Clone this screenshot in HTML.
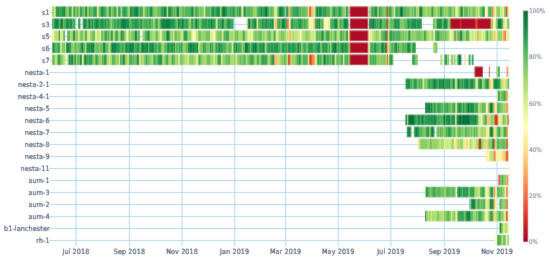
<!DOCTYPE html><html><head><meta charset="utf-8"><style>html,body{margin:0;padding:0;background:#fff;width:550px;height:260px;overflow:hidden}svg{display:block}text{font-family:"DejaVu Sans","Liberation Sans",sans-serif;font-stretch:condensed}.lb{letter-spacing:0.11px;stroke:#2a3f5f;stroke-width:0.16px}</style></head><body>
<div id="w"><svg width="550" height="260" viewBox="0 0 550 260"><defs><filter id="bl" x="0" y="0" width="550" height="260" filterUnits="userSpaceOnUse"><feConvolveMatrix order="3" kernelMatrix="0.0113 0.0838 0.0113 0.0838 0.6193 0.0838 0.0113 0.0838 0.0113" edgeMode="duplicate"/></filter></defs><g filter="url(#bl)">
<rect width="550" height="260" fill="#fff"/>
<path d="M49.50 12.50H509.50M49.50 24.50H509.50M49.50 36.50H509.50M49.50 48.50H509.50M49.50 60.50H509.50M49.50 72.50H509.50M49.50 84.50H509.50M49.50 96.50H509.50M49.50 108.50H509.50M49.50 120.50H509.50M49.50 132.50H509.50M49.50 144.50H509.50M49.50 156.50H509.50M49.50 168.50H509.50M49.50 180.50H509.50M49.50 192.50H509.50M49.50 204.50H509.50M49.50 216.50H509.50M49.50 228.50H509.50M49.50 240.50H509.50M75.90 5.70V246.15M129.41 5.70V246.15M182.05 5.70V246.15M234.69 5.70V246.15M285.61 5.70V246.15M338.25 5.70V246.15M390.89 5.70V246.15M444.40 5.70V246.15M497.04 5.70V246.15" stroke="#b0d6f0" stroke-width="1" fill="none"/>
<rect x="52" y="6.41" width="1" height="10.62" fill="#9dd569"/>
<rect x="53" y="6.41" width="1" height="10.62" fill="#a6d96e"/>
<rect x="54" y="6.41" width="1" height="10.62" fill="#d1ec86"/>
<rect x="55" y="6.41" width="1" height="10.62" fill="#a8d677"/>
<rect x="56" y="6.41" width="1" height="10.62" fill="#1c914c"/>
<rect x="57" y="6.41" width="1" height="10.62" fill="#21974f"/>
<rect x="58" y="6.41" width="1" height="10.62" fill="#219b52"/>
<rect x="59" y="6.41" width="1" height="10.62" fill="#4cad5a"/>
<rect x="60" y="6.41" width="1" height="10.62" fill="#19964f"/>
<rect x="61" y="6.41" width="1" height="10.62" fill="#4bae5b"/>
<rect x="62" y="6.41" width="1" height="10.62" fill="#168d4b"/>
<rect x="63" y="6.41" width="1" height="10.62" fill="#27964f"/>
<rect x="64" y="6.41" width="1" height="10.62" fill="#107940"/>
<rect x="65" y="6.41" width="1" height="10.62" fill="#62bb61"/>
<rect x="66" y="6.41" width="1" height="10.62" fill="#7ec765"/>
<rect x="67" y="6.41" width="1" height="10.62" fill="#8dce68"/>
<rect x="68" y="6.41" width="1" height="10.62" fill="#90cf69"/>
<rect x="69" y="6.41" width="1" height="10.62" fill="#25974f"/>
<rect x="70" y="6.41" width="1" height="10.62" fill="#36a155"/>
<rect x="71" y="6.41" width="1" height="10.62" fill="#60bb61"/>
<rect x="72" y="6.41" width="1" height="10.62" fill="#cae895"/>
<rect x="73" y="6.41" width="1" height="10.62" fill="#66bb65"/>
<rect x="74" y="6.41" width="1" height="10.62" fill="#279d53"/>
<rect x="75" y="6.41" width="1" height="10.62" fill="#85cb67"/>
<rect x="76" y="6.41" width="1" height="10.62" fill="#82c966"/>
<rect x="77" y="6.41" width="1" height="10.62" fill="#44ac5b"/>
<rect x="78" y="6.41" width="1" height="10.62" fill="#86cb66"/>
<rect x="79" y="6.41" width="1" height="10.62" fill="#9cd46a"/>
<rect x="80" y="6.41" width="1" height="10.62" fill="#1e9950"/>
<rect x="81" y="6.41" width="1" height="10.62" fill="#3da959"/>
<rect x="82" y="6.41" width="1" height="10.62" fill="#5db961"/>
<rect x="83" y="6.41" width="1" height="10.62" fill="#69be63"/>
<rect x="84" y="6.41" width="1" height="10.62" fill="#8bcd67"/>
<rect x="85" y="6.41" width="1" height="10.62" fill="#2c9b52"/>
<rect x="86" y="6.41" width="1" height="10.62" fill="#117b41"/>
<rect x="87" y="6.41" width="1" height="10.62" fill="#98d370"/>
<rect x="88" y="6.41" width="1" height="10.62" fill="#91d06f"/>
<rect x="89" y="6.41" width="1" height="10.62" fill="#2d9d53"/>
<rect x="90" y="6.41" width="1" height="10.62" fill="#74c162"/>
<rect x="91" y="6.41" width="1" height="10.62" fill="#5ab75f"/>
<rect x="92" y="6.41" width="1" height="10.62" fill="#7ac664"/>
<rect x="93" y="6.41" width="1" height="10.62" fill="#40ab59"/>
<rect x="94" y="6.41" width="1" height="10.62" fill="#33a456"/>
<rect x="95" y="6.41" width="1" height="10.62" fill="#29a054"/>
<rect x="96" y="6.41" width="1" height="10.62" fill="#3f9850"/>
<rect x="97" y="6.41" width="1" height="10.62" fill="#e5f49d"/>
<rect x="98" y="6.41" width="1" height="10.62" fill="#a9da79"/>
<rect x="99" y="6.41" width="1" height="10.62" fill="#69be61"/>
<rect x="100" y="6.41" width="1" height="10.62" fill="#55b45d"/>
<rect x="101" y="6.41" width="1" height="10.62" fill="#1d914c"/>
<rect x="102" y="6.41" width="1" height="10.62" fill="#16904c"/>
<rect x="103" y="6.41" width="1" height="10.62" fill="#30a256"/>
<rect x="104" y="6.41" width="1" height="10.62" fill="#30a355"/>
<rect x="105" y="6.41" width="1" height="10.62" fill="#59b75f"/>
<rect x="106" y="6.41" width="1" height="10.62" fill="#6bbe61"/>
<rect x="107" y="6.41" width="1" height="10.62" fill="#9bd46a"/>
<rect x="108" y="6.41" width="1" height="10.62" fill="#88cc66"/>
<rect x="109" y="6.41" width="1" height="10.62" fill="#1e924d"/>
<rect x="110" y="6.41" width="1" height="10.62" fill="#2aa053"/>
<rect x="111" y="6.41" width="1" height="10.62" fill="#9dd46b"/>
<rect x="112" y="6.41" width="1" height="10.62" fill="#71c264"/>
<rect x="113" y="6.41" width="1" height="10.62" fill="#6dc063"/>
<rect x="114" y="6.41" width="1" height="10.62" fill="#37a456"/>
<rect x="115" y="6.41" width="1" height="10.62" fill="#41a959"/>
<rect x="116" y="6.41" width="1" height="10.62" fill="#87bf6c"/>
<rect x="117" y="6.41" width="1" height="10.62" fill="#cfeb84"/>
<rect x="118" y="6.41" width="1" height="10.62" fill="#32a456"/>
<rect x="119" y="6.41" width="1" height="10.62" fill="#39a557"/>
<rect x="120" y="6.41" width="1" height="10.62" fill="#1e974f" fill-opacity="0.70"/>
<rect x="121" y="6.41" width="1" height="10.62" fill="#70c164" fill-opacity="0.50"/>
<rect x="122" y="6.41" width="1" height="10.62" fill="#3da959"/>
<rect x="123" y="6.41" width="1" height="10.62" fill="#37a456"/>
<rect x="124" y="6.41" width="1" height="10.62" fill="#279e53"/>
<rect x="125" y="6.41" width="1" height="10.62" fill="#259e53"/>
<rect x="126" y="6.41" width="1" height="10.62" fill="#50b35d"/>
<rect x="127" y="6.41" width="1" height="10.62" fill="#60bb62"/>
<rect x="128" y="6.41" width="1" height="10.62" fill="#9dd569"/>
<rect x="129" y="6.41" width="1" height="10.62" fill="#a4d86b"/>
<rect x="130" y="6.41" width="1" height="10.62" fill="#0a7b41"/>
<rect x="131" y="6.41" width="1" height="10.62" fill="#1f904c"/>
<rect x="132" y="6.41" width="1" height="10.62" fill="#3ca959"/>
<rect x="133" y="6.41" width="1" height="10.62" fill="#2ca054"/>
<rect x="134" y="6.41" width="1" height="10.62" fill="#17904c"/>
<rect x="135" y="6.41" width="1" height="10.62" fill="#278b49"/>
<rect x="136" y="6.41" width="1" height="10.62" fill="#08763f"/>
<rect x="137" y="6.41" width="1" height="10.62" fill="#138b4a"/>
<rect x="138" y="6.41" width="1" height="10.62" fill="#31a054"/>
<rect x="139" y="6.41" width="1" height="10.62" fill="#73c365"/>
<rect x="140" y="6.41" width="1" height="10.62" fill="#299850"/>
<rect x="141" y="6.41" width="1" height="10.62" fill="#58b55f"/>
<rect x="142" y="6.41" width="1" height="10.62" fill="#2ca054"/>
<rect x="143" y="6.41" width="1" height="10.62" fill="#c1e484"/>
<rect x="144" y="6.41" width="1" height="10.62" fill="#99d36f"/>
<rect x="145" y="6.41" width="1" height="10.62" fill="#60ba61"/>
<rect x="146" y="6.41" width="1" height="10.62" fill="#71c264"/>
<rect x="147" y="6.41" width="1" height="10.62" fill="#2a9f54"/>
<rect x="148" y="6.41" width="1" height="10.62" fill="#6fc164"/>
<rect x="149" y="6.41" width="1" height="10.62" fill="#55b55f"/>
<rect x="150" y="6.41" width="1" height="10.62" fill="#128244"/>
<rect x="151" y="6.41" width="1" height="10.62" fill="#158d4a"/>
<rect x="152" y="6.41" width="1" height="10.62" fill="#4daf5b"/>
<rect x="153" y="6.41" width="1" height="10.62" fill="#75c465"/>
<rect x="154" y="6.41" width="1" height="10.62" fill="#87cc67"/>
<rect x="155" y="6.41" width="1" height="10.62" fill="#82c966"/>
<rect x="156" y="6.41" width="1" height="10.62" fill="#9bd469"/>
<rect x="157" y="6.41" width="1" height="10.62" fill="#72c264"/>
<rect x="158" y="6.41" width="1" height="10.62" fill="#56b55f"/>
<rect x="159" y="6.41" width="1" height="10.62" fill="#75c364"/>
<rect x="160" y="6.41" width="1" height="10.62" fill="#64bc62"/>
<rect x="161" y="6.41" width="1" height="10.62" fill="#259d53"/>
<rect x="162" y="6.41" width="1" height="10.62" fill="#2aa054"/>
<rect x="163" y="6.41" width="1" height="10.62" fill="#3da355"/>
<rect x="164" y="6.41" width="1" height="10.62" fill="#07773e"/>
<rect x="165" y="6.41" width="1" height="10.62" fill="#1a934d"/>
<rect x="166" y="6.41" width="1" height="10.62" fill="#2b9f54"/>
<rect x="167" y="6.41" width="1" height="10.62" fill="#c2e288"/>
<rect x="168" y="6.41" width="1" height="10.62" fill="#268a47"/>
<rect x="169" y="6.41" width="1" height="10.62" fill="#208848"/>
<rect x="170" y="6.41" width="1" height="10.62" fill="#26954f"/>
<rect x="171" y="6.41" width="1" height="10.62" fill="#45a858"/>
<rect x="172" y="6.41" width="1" height="10.62" fill="#4eb15d"/>
<rect x="173" y="6.41" width="1" height="10.62" fill="#6ec063"/>
<rect x="174" y="6.41" width="1" height="10.62" fill="#45ac59"/>
<rect x="175" y="6.41" width="1" height="10.62" fill="#7dc766"/>
<rect x="176" y="6.41" width="1" height="10.62" fill="#4dae5b"/>
<rect x="177" y="6.41" width="1" height="10.62" fill="#097840"/>
<rect x="178" y="6.41" width="1" height="10.62" fill="#0c7e43"/>
<rect x="179" y="6.41" width="1" height="10.62" fill="#87c965"/>
<rect x="180" y="6.41" width="1" height="10.62" fill="#89cc67"/>
<rect x="181" y="6.41" width="1" height="10.62" fill="#83ca66"/>
<rect x="182" y="6.41" width="1" height="10.62" fill="#61ba61"/>
<rect x="183" y="6.41" width="1" height="10.62" fill="#56b55f"/>
<rect x="184" y="6.41" width="1" height="10.62" fill="#7dc765"/>
<rect x="185" y="6.41" width="1" height="10.62" fill="#51b35d"/>
<rect x="186" y="6.41" width="1" height="10.62" fill="#4db05d"/>
<rect x="187" y="6.41" width="1" height="10.62" fill="#51b35e"/>
<rect x="188" y="6.41" width="1" height="10.62" fill="#5ab860"/>
<rect x="189" y="6.41" width="1" height="10.62" fill="#4bb05c"/>
<rect x="190" y="6.41" width="1" height="10.62" fill="#4eb15e"/>
<rect x="191" y="6.41" width="1" height="10.62" fill="#229b51"/>
<rect x="192" y="6.41" width="1" height="10.62" fill="#0c7d42"/>
<rect x="193" y="6.41" width="1" height="10.62" fill="#5cb35c"/>
<rect x="194" y="6.41" width="1" height="10.62" fill="#82c966"/>
<rect x="195" y="6.41" width="1" height="10.62" fill="#4db15c"/>
<rect x="196" y="6.41" width="1" height="10.62" fill="#42ac5a"/>
<rect x="197" y="6.41" width="1" height="10.62" fill="#56b35b"/>
<rect x="198" y="6.41" width="1" height="10.62" fill="#61bb60"/>
<rect x="199" y="6.41" width="1" height="10.62" fill="#95d268"/>
<rect x="200" y="6.41" width="1" height="10.62" fill="#6dc064"/>
<rect x="201" y="6.41" width="1" height="10.62" fill="#82c966"/>
<rect x="202" y="6.41" width="1" height="10.62" fill="#7fc866"/>
<rect x="203" y="6.41" width="1" height="10.62" fill="#91d069"/>
<rect x="204" y="6.41" width="1" height="10.62" fill="#ddf193"/>
<rect x="205" y="6.41" width="1" height="10.62" fill="#7cc574"/>
<rect x="206" y="6.41" width="1" height="10.62" fill="#3da959"/>
<rect x="207" y="6.41" width="1" height="10.62" fill="#66bd63"/>
<rect x="208" y="6.41" width="1" height="10.62" fill="#52b35e"/>
<rect x="209" y="6.41" width="1" height="10.62" fill="#5ab760"/>
<rect x="210" y="6.41" width="1" height="10.62" fill="#75c364"/>
<rect x="211" y="6.41" width="1" height="10.62" fill="#3ea959"/>
<rect x="212" y="6.41" width="1" height="10.62" fill="#1b944d"/>
<rect x="213" y="6.41" width="1" height="10.62" fill="#1c904b"/>
<rect x="214" y="6.41" width="1" height="10.62" fill="#45ad5a"/>
<rect x="215" y="6.41" width="1" height="10.62" fill="#3faa59"/>
<rect x="216" y="6.41" width="1" height="10.62" fill="#269e53"/>
<rect x="217" y="6.41" width="1" height="10.62" fill="#1f8a49"/>
<rect x="218" y="6.41" width="1" height="10.62" fill="#18934e"/>
<rect x="219" y="6.41" width="1" height="10.62" fill="#178f4c"/>
<rect x="220" y="6.41" width="1" height="10.62" fill="#97d36a"/>
<rect x="221" y="6.41" width="1" height="10.62" fill="#6fc164"/>
<rect x="222" y="6.41" width="1" height="10.62" fill="#177e43"/>
<rect x="223" y="6.41" width="1" height="10.62" fill="#08773f"/>
<rect x="224" y="6.41" width="1" height="10.62" fill="#06733c"/>
<rect x="225" y="6.41" width="1" height="10.62" fill="#239c52"/>
<rect x="226" y="6.41" width="1" height="10.62" fill="#20974f"/>
<rect x="227" y="6.41" width="1" height="10.62" fill="#4cb05c"/>
<rect x="228" y="6.41" width="1" height="10.62" fill="#61ba62"/>
<rect x="229" y="6.41" width="1" height="10.62" fill="#4cb15c"/>
<rect x="230" y="6.41" width="1" height="10.62" fill="#34a457"/>
<rect x="231" y="6.41" width="1" height="10.62" fill="#4cb05c"/>
<rect x="232" y="6.41" width="1" height="10.62" fill="#42ab5a"/>
<rect x="233" y="6.41" width="1" height="10.62" fill="#19944e"/>
<rect x="234" y="6.41" width="1" height="10.62" fill="#3da858"/>
<rect x="235" y="6.41" width="1" height="10.62" fill="#72c264"/>
<rect x="236" y="6.41" width="1" height="10.62" fill="#6fc162"/>
<rect x="237" y="6.41" width="1" height="10.62" fill="#34a456"/>
<rect x="238" y="6.41" width="1" height="10.62" fill="#5cb75f"/>
<rect x="239" y="6.41" width="1" height="10.62" fill="#279d53"/>
<rect x="240" y="6.41" width="1" height="10.62" fill="#198d4a"/>
<rect x="241" y="6.41" width="1" height="10.62" fill="#add78c"/>
<rect x="242" y="6.41" width="1" height="10.62" fill="#e6f49d"/>
<rect x="243" y="6.41" width="1" height="10.62" fill="#6fba66"/>
<rect x="244" y="6.41" width="1" height="10.62" fill="#148546"/>
<rect x="245" y="6.41" width="1" height="10.62" fill="#30a355"/>
<rect x="246" y="6.41" width="1" height="10.62" fill="#70c162"/>
<rect x="247" y="6.41" width="1" height="10.62" fill="#56b55e"/>
<rect x="248" y="6.41" width="1" height="10.62" fill="#5ab760"/>
<rect x="249" y="6.41" width="1" height="10.62" fill="#4aaf5c"/>
<rect x="250" y="6.41" width="1" height="10.62" fill="#71c264"/>
<rect x="251" y="6.41" width="1" height="10.62" fill="#5eb961"/>
<rect x="252" y="6.41" width="1" height="10.62" fill="#66bd62"/>
<rect x="253" y="6.41" width="1" height="10.62" fill="#98d268"/>
<rect x="254" y="6.41" width="1" height="10.62" fill="#8dce67"/>
<rect x="255" y="6.41" width="1" height="10.62" fill="#a9da6b"/>
<rect x="256" y="6.41" width="1" height="10.62" fill="#86cb69"/>
<rect x="257" y="6.41" width="1" height="10.62" fill="#4eb15d"/>
<rect x="258" y="6.41" width="1" height="10.62" fill="#45ad5b"/>
<rect x="259" y="6.41" width="1" height="10.62" fill="#39a758"/>
<rect x="260" y="6.41" width="1" height="10.62" fill="#2fa255"/>
<rect x="261" y="6.41" width="1" height="10.62" fill="#148b49"/>
<rect x="262" y="6.41" width="1" height="10.62" fill="#3ba858"/>
<rect x="263" y="6.41" width="1" height="10.62" fill="#2ca154"/>
<rect x="264" y="6.41" width="1" height="10.62" fill="#259d53"/>
<rect x="265" y="6.41" width="1" height="10.62" fill="#0f8345"/>
<rect x="266" y="6.41" width="1" height="10.62" fill="#05713c"/>
<rect x="267" y="6.41" width="1" height="10.62" fill="#2d9f54"/>
<rect x="268" y="6.41" width="1" height="10.62" fill="#49ae5b"/>
<rect x="269" y="6.41" width="1" height="10.62" fill="#7cc766"/>
<rect x="270" y="6.41" width="1" height="10.62" fill="#70c164"/>
<rect x="271" y="6.41" width="1" height="10.62" fill="#51b35e"/>
<rect x="272" y="6.41" width="1" height="10.62" fill="#70c163"/>
<rect x="273" y="6.41" width="1" height="10.62" fill="#6ec164"/>
<rect x="274" y="6.41" width="1" height="10.62" fill="#d5ed88"/>
<rect x="275" y="6.41" width="1" height="10.62" fill="#d6ee8a"/>
<rect x="276" y="6.41" width="1" height="10.62" fill="#dcf094"/>
<rect x="277" y="6.41" width="1" height="10.62" fill="#85ca75"/>
<rect x="278" y="6.41" width="1" height="10.62" fill="#49ae5c"/>
<rect x="279" y="6.41" width="1" height="10.62" fill="#188c4a"/>
<rect x="280" y="6.41" width="1" height="10.62" fill="#0e8244"/>
<rect x="281" y="6.41" width="1" height="10.62" fill="#138b49"/>
<rect x="282" y="6.41" width="1" height="10.62" fill="#22944e"/>
<rect x="283" y="6.41" width="1" height="10.62" fill="#309b52"/>
<rect x="284" y="6.41" width="1" height="10.62" fill="#52b35e"/>
<rect x="285" y="6.41" width="1" height="10.62" fill="#6cbf62" fill-opacity="0.40"/>
<rect x="286" y="6.41" width="1" height="10.62" fill="#128a49" fill-opacity="0.80"/>
<rect x="287" y="6.41" width="1" height="10.62" fill="#0e7f43"/>
<rect x="288" y="6.41" width="1" height="10.62" fill="#d1b669"/>
<rect x="289" y="6.41" width="1" height="10.62" fill="#dfb868"/>
<rect x="290" y="6.41" width="1" height="10.62" fill="#7ac565"/>
<rect x="291" y="6.41" width="1" height="10.62" fill="#67bd62"/>
<rect x="292" y="6.41" width="1" height="10.62" fill="#51b35e"/>
<rect x="293" y="6.41" width="1" height="10.62" fill="#31a356"/>
<rect x="294" y="6.41" width="1" height="10.62" fill="#3ca858"/>
<rect x="295" y="6.41" width="1" height="10.62" fill="#3fa557"/>
<rect x="296" y="6.41" width="1" height="10.62" fill="#3ea557"/>
<rect x="297" y="6.41" width="1" height="10.62" fill="#289850"/>
<rect x="298" y="6.41" width="1" height="10.62" fill="#48ad5b"/>
<rect x="299" y="6.41" width="1" height="10.62" fill="#5db960"/>
<rect x="300" y="6.41" width="1" height="10.62" fill="#48ae5a"/>
<rect x="301" y="6.41" width="1" height="10.62" fill="#7ec866"/>
<rect x="302" y="6.41" width="1" height="10.62" fill="#67bd62"/>
<rect x="303" y="6.41" width="2" height="10.62" fill="#65bc62"/>
<rect x="305" y="6.41" width="1" height="10.62" fill="#70c163"/>
<rect x="306" y="6.41" width="1" height="10.62" fill="#61ba61"/>
<rect x="307" y="6.41" width="1" height="10.62" fill="#95d16d"/>
<rect x="308" y="6.41" width="1" height="10.62" fill="#e4e191"/>
<rect x="309" y="6.41" width="1" height="10.62" fill="#ec5d3b"/>
<rect x="310" y="6.41" width="1" height="10.62" fill="#ea593a"/>
<rect x="311" y="6.41" width="1" height="10.62" fill="#fbb66b"/>
<rect x="312" y="6.41" width="1" height="10.62" fill="#fdbd6d"/>
<rect x="313" y="6.41" width="1" height="10.62" fill="#d8da79"/>
<rect x="314" y="6.41" width="1" height="10.62" fill="#dbf091"/>
<rect x="315" y="6.41" width="1" height="10.62" fill="#7dc572"/>
<rect x="316" y="6.41" width="1" height="10.62" fill="#1b8f4b"/>
<rect x="317" y="6.41" width="1" height="10.62" fill="#108445"/>
<rect x="318" y="6.41" width="1" height="10.62" fill="#44ab5a"/>
<rect x="319" y="6.41" width="1" height="10.62" fill="#108446"/>
<rect x="320" y="6.41" width="1" height="10.62" fill="#178b49"/>
<rect x="321" y="6.41" width="1" height="10.62" fill="#239c52"/>
<rect x="322" y="6.41" width="1" height="10.62" fill="#48ae5b"/>
<rect x="323" y="6.41" width="1" height="10.62" fill="#279850"/>
<rect x="324" y="6.41" width="1" height="10.62" fill="#3ba557"/>
<rect x="325" y="6.41" width="1" height="10.62" fill="#238848"/>
<rect x="326" y="6.41" width="1" height="10.62" fill="#5ab760"/>
<rect x="327" y="6.41" width="1" height="10.62" fill="#4aaf5c"/>
<rect x="328" y="6.41" width="1" height="10.62" fill="#45ad5b"/>
<rect x="329" y="6.41" width="1" height="10.62" fill="#56b55f"/>
<rect x="330" y="6.41" width="1" height="10.62" fill="#a4d86c"/>
<rect x="331" y="6.41" width="1" height="10.62" fill="#9bd376"/>
<rect x="332" y="6.41" width="1" height="10.62" fill="#48ae5b"/>
<rect x="333" y="6.41" width="1" height="10.62" fill="#36a356"/>
<rect x="334" y="6.41" width="1" height="10.62" fill="#18934e"/>
<rect x="335" y="6.41" width="1" height="10.62" fill="#51b25d"/>
<rect x="336" y="6.41" width="1" height="10.62" fill="#4fb25d"/>
<rect x="337" y="6.41" width="1" height="10.62" fill="#6dc063"/>
<rect x="338" y="6.41" width="1" height="10.62" fill="#42ac5a"/>
<rect x="339" y="6.41" width="1" height="10.62" fill="#1e9951"/>
<rect x="340" y="6.41" width="1" height="10.62" fill="#35a556"/>
<rect x="341" y="6.41" width="1" height="10.62" fill="#58b660"/>
<rect x="342" y="6.41" width="1" height="10.62" fill="#6abf64"/>
<rect x="343" y="6.41" width="1" height="10.62" fill="#8fcf67"/>
<rect x="344" y="6.41" width="1" height="10.62" fill="#96d271"/>
<rect x="345" y="6.41" width="1" height="10.62" fill="#add67c"/>
<rect x="346" y="6.41" width="1" height="10.62" fill="#29944e"/>
<rect x="347" y="6.41" width="1" height="10.62" fill="#37a657"/>
<rect x="348" y="6.41" width="1" height="10.62" fill="#2ea254" fill-opacity="0.50"/>
<rect x="349" y="6.41" width="1" height="10.62" fill="#af0a26" fill-opacity="0.40"/>
<rect x="350" y="6.41" width="18" height="10.62" fill="#af0a26"/>
<rect x="368" y="6.41" width="1" height="10.62" fill="#af0a26" fill-opacity="0.20"/>
<rect x="369" y="6.41" width="1" height="10.62" fill="#86cb69" fill-opacity="0.80"/>
<rect x="370" y="6.41" width="1" height="10.62" fill="#a0d66e"/>
<rect x="371" y="6.41" width="1" height="10.62" fill="#51b25d"/>
<rect x="372" y="6.41" width="1" height="10.62" fill="#2aa054"/>
<rect x="373" y="6.41" width="1" height="10.62" fill="#5cb860"/>
<rect x="374" y="6.41" width="1" height="10.62" fill="#3a9950"/>
<rect x="375" y="6.41" width="1" height="10.62" fill="#25964f"/>
<rect x="376" y="6.41" width="1" height="10.62" fill="#1c8144"/>
<rect x="377" y="6.41" width="1" height="10.62" fill="#80c967"/>
<rect x="378" y="6.41" width="1" height="10.62" fill="#96d167"/>
<rect x="379" y="6.41" width="1" height="10.62" fill="#2d9e53"/>
<rect x="380" y="6.41" width="1" height="10.62" fill="#48af5b"/>
<rect x="381" y="6.41" width="1" height="10.62" fill="#55b45f"/>
<rect x="382" y="6.41" width="1" height="10.62" fill="#76c464"/>
<rect x="383" y="6.41" width="1" height="10.62" fill="#77c464"/>
<rect x="384" y="6.41" width="1" height="10.62" fill="#8fcf67"/>
<rect x="385" y="6.41" width="1" height="10.62" fill="#6fc164"/>
<rect x="386" y="6.41" width="1" height="10.62" fill="#4bb05c"/>
<rect x="387" y="6.41" width="1" height="10.62" fill="#c63b2c"/>
<rect x="388" y="6.41" width="1" height="10.62" fill="#8da859"/>
<rect x="389" y="6.41" width="1" height="10.62" fill="#45ad5a"/>
<rect x="390" y="6.41" width="1" height="10.62" fill="#1e944e"/>
<rect x="391" y="6.41" width="1" height="10.62" fill="#66bc62"/>
<rect x="392" y="6.41" width="1" height="10.62" fill="#88cc67"/>
<rect x="393" y="6.41" width="1" height="10.62" fill="#9bd469"/>
<rect x="394" y="6.41" width="1" height="10.62" fill="#d2ec96"/>
<rect x="395" y="6.41" width="1" height="10.62" fill="#67bb6d"/>
<rect x="396" y="6.41" width="1" height="10.62" fill="#2ca155"/>
<rect x="397" y="6.41" width="1" height="10.62" fill="#48ae5b"/>
<rect x="398" y="6.41" width="1" height="10.62" fill="#58b75f"/>
<rect x="399" y="6.41" width="1" height="10.62" fill="#54b45f"/>
<rect x="400" y="6.41" width="1" height="10.62" fill="#118647"/>
<rect x="401" y="6.41" width="1" height="10.62" fill="#006837"/>
<rect x="402" y="6.41" width="1" height="10.62" fill="#208747"/>
<rect x="403" y="6.41" width="1" height="10.62" fill="#5ab65d"/>
<rect x="404" y="6.41" width="1" height="10.62" fill="#59b75f"/>
<rect x="405" y="6.41" width="1" height="10.62" fill="#4cb05c"/>
<rect x="406" y="6.41" width="1" height="10.62" fill="#75c465"/>
<rect x="407" y="6.41" width="1" height="10.62" fill="#68bd63"/>
<rect x="408" y="6.41" width="1" height="10.62" fill="#68be63"/>
<rect x="409" y="6.41" width="1" height="10.62" fill="#77c465"/>
<rect x="410" y="6.41" width="1" height="10.62" fill="#a1d76e"/>
<rect x="411" y="6.41" width="1" height="10.62" fill="#7ec867"/>
<rect x="412" y="6.41" width="1" height="10.62" fill="#68be63"/>
<rect x="413" y="6.41" width="1" height="10.62" fill="#98d268"/>
<rect x="414" y="6.41" width="1" height="10.62" fill="#50b25e"/>
<rect x="415" y="6.41" width="1" height="10.62" fill="#4eb15d"/>
<rect x="416" y="6.41" width="1" height="10.62" fill="#b6e074"/>
<rect x="417" y="6.41" width="1" height="10.62" fill="#9fd66b"/>
<rect x="418" y="6.41" width="1" height="10.62" fill="#bce37a"/>
<rect x="419" y="6.41" width="1" height="10.62" fill="#2c964e"/>
<rect x="420" y="6.41" width="2" height="10.62" fill="#0f8446"/>
<rect x="422" y="6.41" width="1" height="10.62" fill="#5cb45b"/>
<rect x="423" y="6.41" width="1" height="10.62" fill="#95d268"/>
<rect x="424" y="6.41" width="1" height="10.62" fill="#90cf68"/>
<rect x="425" y="6.41" width="1" height="10.62" fill="#9ad46b"/>
<rect x="426" y="6.41" width="1" height="10.62" fill="#b4df77"/>
<rect x="427" y="6.41" width="1" height="10.62" fill="#90cf68"/>
<rect x="428" y="6.41" width="1" height="10.62" fill="#88cc66"/>
<rect x="429" y="6.41" width="1" height="10.62" fill="#a1d76c"/>
<rect x="430" y="6.41" width="1" height="10.62" fill="#86cb68"/>
<rect x="431" y="6.41" width="1" height="10.62" fill="#6abd61"/>
<rect x="432" y="6.41" width="1" height="10.62" fill="#1e914c"/>
<rect x="433" y="6.41" width="1" height="10.62" fill="#7ec766"/>
<rect x="434" y="6.41" width="1" height="10.62" fill="#91d068"/>
<rect x="435" y="6.41" width="1" height="10.62" fill="#8ece67"/>
<rect x="436" y="6.41" width="1" height="10.62" fill="#b1de76"/>
<rect x="437" y="6.41" width="1" height="10.62" fill="#9ed56b"/>
<rect x="438" y="6.41" width="1" height="10.62" fill="#72c264"/>
<rect x="439" y="6.41" width="1" height="10.62" fill="#8dce67"/>
<rect x="440" y="6.41" width="1" height="10.62" fill="#19974f"/>
<rect x="441" y="6.41" width="1" height="10.62" fill="#37a657"/>
<rect x="442" y="6.41" width="1" height="10.62" fill="#68bd63"/>
<rect x="443" y="6.41" width="1" height="10.62" fill="#85ca67"/>
<rect x="444" y="6.41" width="1" height="10.62" fill="#a4d86b"/>
<rect x="445" y="6.41" width="1" height="10.62" fill="#8ccd67"/>
<rect x="446" y="6.41" width="1" height="10.62" fill="#94d168"/>
<rect x="447" y="6.41" width="1" height="10.62" fill="#9ed569"/>
<rect x="448" y="6.41" width="1" height="10.62" fill="#79c565"/>
<rect x="449" y="6.41" width="1" height="10.62" fill="#61ba61"/>
<rect x="450" y="6.41" width="1" height="10.62" fill="#53b35e"/>
<rect x="451" y="6.41" width="1" height="10.62" fill="#79c665"/>
<rect x="452" y="6.41" width="1" height="10.62" fill="#8acd6d"/>
<rect x="453" y="6.41" width="1" height="10.62" fill="#a7d972"/>
<rect x="454" y="6.41" width="1" height="10.62" fill="#5bb75f"/>
<rect x="455" y="6.41" width="1" height="10.62" fill="#c8e79e"/>
<rect x="456" y="6.41" width="1" height="10.62" fill="#edf8a9"/>
<rect x="457" y="6.41" width="1" height="10.62" fill="#c9e880"/>
<rect x="458" y="6.41" width="1" height="10.62" fill="#bae277"/>
<rect x="459" y="6.41" width="1" height="10.62" fill="#87cb68"/>
<rect x="460" y="6.41" width="1" height="10.62" fill="#3faa5a"/>
<rect x="461" y="6.41" width="1" height="10.62" fill="#158546"/>
<rect x="462" y="6.41" width="1" height="10.62" fill="#259850"/>
<rect x="463" y="6.41" width="1" height="10.62" fill="#b0dd70"/>
<rect x="464" y="6.41" width="1" height="10.62" fill="#59b65f"/>
<rect x="465" y="6.41" width="1" height="10.62" fill="#64bb61"/>
<rect x="466" y="6.41" width="1" height="10.62" fill="#5fb961"/>
<rect x="467" y="6.41" width="1" height="10.62" fill="#64bc62"/>
<rect x="468" y="6.41" width="1" height="10.62" fill="#9ed66b"/>
<rect x="469" y="6.41" width="1" height="10.62" fill="#78c565"/>
<rect x="470" y="6.41" width="1" height="10.62" fill="#90cf6b"/>
<rect x="471" y="6.41" width="1" height="10.62" fill="#a0d672"/>
<rect x="472" y="6.41" width="1" height="10.62" fill="#8bcd6b"/>
<rect x="473" y="6.41" width="1" height="10.62" fill="#70c163"/>
<rect x="474" y="6.41" width="1" height="10.62" fill="#6ec062"/>
<rect x="475" y="6.41" width="1" height="10.62" fill="#9fd66b"/>
<rect x="476" y="6.41" width="1" height="10.62" fill="#b8e17b"/>
<rect x="477" y="6.41" width="1" height="10.62" fill="#99d373"/>
<rect x="478" y="6.41" width="1" height="10.62" fill="#dbf08e"/>
<rect x="479" y="6.41" width="1" height="10.62" fill="#a5d879"/>
<rect x="480" y="6.41" width="1" height="10.62" fill="#6ec064"/>
<rect x="481" y="6.41" width="1" height="10.62" fill="#7ac665"/>
<rect x="482" y="6.41" width="1" height="10.62" fill="#3aa758"/>
<rect x="483" y="6.41" width="1" height="10.62" fill="#299c52"/>
<rect x="484" y="6.41" width="1" height="10.62" fill="#359c57"/>
<rect x="485" y="6.41" width="1" height="10.62" fill="#fdfbb6"/>
<rect x="486" y="6.41" width="1" height="10.62" fill="#fefab5"/>
<rect x="487" y="6.41" width="1" height="10.62" fill="#e0efa9"/>
<rect x="488" y="6.41" width="1" height="10.62" fill="#4db15c"/>
<rect x="489" y="6.41" width="1" height="10.62" fill="#61ba60"/>
<rect x="490" y="6.41" width="1" height="10.62" fill="#3da959"/>
<rect x="491" y="6.41" width="1" height="10.62" fill="#71c162"/>
<rect x="492" y="6.41" width="1" height="10.62" fill="#ed884f"/>
<rect x="493" y="6.41" width="1" height="10.62" fill="#fab378"/>
<rect x="494" y="6.41" width="1" height="10.62" fill="#d6ee8c"/>
<rect x="495" y="6.41" width="1" height="10.62" fill="#eff9aa"/>
<rect x="496" y="6.41" width="1" height="10.62" fill="#a0d66e"/>
<rect x="497" y="6.41" width="1" height="10.62" fill="#9fd670"/>
<rect x="498" y="6.41" width="1" height="10.62" fill="#7bc665"/>
<rect x="499" y="6.41" width="1" height="10.62" fill="#90cf6f"/>
<rect x="500" y="6.41" width="1" height="10.62" fill="#e1f296"/>
<rect x="501" y="6.41" width="1" height="10.62" fill="#bee47a"/>
<rect x="502" y="6.41" width="1" height="10.62" fill="#d2ec8a"/>
<rect x="503" y="6.41" width="1" height="10.62" fill="#f2f7a9"/>
<rect x="504" y="6.41" width="1" height="10.62" fill="#74c26a"/>
<rect x="505" y="6.41" width="1" height="10.62" fill="#7dc765"/>
<rect x="506" y="6.41" width="1" height="10.62" fill="#c8392e"/>
<rect x="507" y="6.41" width="1" height="10.62" fill="#ec9c71"/>
<rect x="508" y="6.41" width="1" height="10.62" fill="#ebf7a5"/>
<rect x="509" y="6.41" width="1" height="10.62" fill="#e2f397" fill-opacity="0.50"/>
<rect x="52" y="18.43" width="1" height="10.62" fill="#44ac5b"/>
<rect x="53" y="18.43" width="1" height="10.62" fill="#58b760"/>
<rect x="54" y="18.43" width="1" height="10.62" fill="#269c52"/>
<rect x="55" y="18.43" width="1" height="10.62" fill="#138b49"/>
<rect x="56" y="18.43" width="1" height="10.62" fill="#0e8245"/>
<rect x="57" y="18.43" width="1" height="10.62" fill="#138c4a"/>
<rect x="58" y="18.43" width="1" height="10.62" fill="#209950"/>
<rect x="59" y="18.43" width="1" height="10.62" fill="#59b75f"/>
<rect x="60" y="18.43" width="1" height="10.62" fill="#309d53"/>
<rect x="61" y="18.43" width="1" height="10.62" fill="#06733d"/>
<rect x="62" y="18.43" width="1" height="10.62" fill="#0c7e43"/>
<rect x="63" y="18.43" width="1" height="10.62" fill="#6dc064"/>
<rect x="64" y="18.43" width="2" height="10.62" fill="#4db15d"/>
<rect x="66" y="18.43" width="1" height="10.62" fill="#16914c"/>
<rect x="67" y="18.43" width="1" height="10.62" fill="#138c4a"/>
<rect x="68" y="18.43" width="1" height="10.62" fill="#23944e"/>
<rect x="69" y="18.43" width="1" height="10.62" fill="#3ca858"/>
<rect x="70" y="18.43" width="1" height="10.62" fill="#158e4b"/>
<rect x="71" y="18.43" width="1" height="10.62" fill="#17924d"/>
<rect x="72" y="18.43" width="1" height="10.62" fill="#5cb85f"/>
<rect x="73" y="18.43" width="1" height="10.62" fill="#32a456"/>
<rect x="74" y="18.43" width="1" height="10.62" fill="#46ad5b"/>
<rect x="75" y="18.43" width="1" height="10.62" fill="#66bd63" fill-opacity="0.50"/>
<rect x="78" y="18.43" width="1" height="10.62" fill="#36a456"/>
<rect x="79" y="18.43" width="1" height="10.62" fill="#1c914c"/>
<rect x="80" y="18.43" width="1" height="10.62" fill="#3faa59" fill-opacity="0.50"/>
<rect x="82" y="18.43" width="1" height="10.62" fill="#5bb860" fill-opacity="0.50"/>
<rect x="83" y="18.43" width="1" height="10.62" fill="#299d53"/>
<rect x="84" y="18.43" width="1" height="10.62" fill="#158e4a"/>
<rect x="85" y="18.43" width="1" height="10.62" fill="#118748"/>
<rect x="86" y="18.43" width="1" height="10.62" fill="#3ca958"/>
<rect x="87" y="18.43" width="1" height="10.62" fill="#5cb960"/>
<rect x="88" y="18.43" width="1" height="10.62" fill="#309c52"/>
<rect x="89" y="18.43" width="1" height="10.62" fill="#0d8043"/>
<rect x="90" y="18.43" width="1" height="10.62" fill="#43a959"/>
<rect x="91" y="18.43" width="1" height="10.62" fill="#41aa59"/>
<rect x="92" y="18.43" width="1" height="10.62" fill="#188a49"/>
<rect x="93" y="18.43" width="1" height="10.62" fill="#5fba61"/>
<rect x="94" y="18.43" width="1" height="10.62" fill="#229b51"/>
<rect x="95" y="18.43" width="1" height="10.62" fill="#239b52"/>
<rect x="96" y="18.43" width="1" height="10.62" fill="#0e7f43"/>
<rect x="97" y="18.43" width="1" height="10.62" fill="#19944e"/>
<rect x="98" y="18.43" width="1" height="10.62" fill="#1f904c"/>
<rect x="99" y="18.43" width="1" height="10.62" fill="#4cb15d"/>
<rect x="100" y="18.43" width="1" height="10.62" fill="#2ea255"/>
<rect x="101" y="18.43" width="1" height="10.62" fill="#1e914c"/>
<rect x="102" y="18.43" width="1" height="10.62" fill="#1c934d"/>
<rect x="103" y="18.43" width="1" height="10.62" fill="#2aa054"/>
<rect x="104" y="18.43" width="1" height="10.62" fill="#40a757"/>
<rect x="105" y="18.43" width="1" height="10.62" fill="#1e8b4a"/>
<rect x="106" y="18.43" width="1" height="10.62" fill="#4db15d"/>
<rect x="107" y="18.43" width="1" height="10.62" fill="#40aa5a"/>
<rect x="108" y="18.43" width="1" height="10.62" fill="#30a356"/>
<rect x="109" y="18.43" width="1" height="10.62" fill="#51b35e"/>
<rect x="110" y="18.43" width="1" height="10.62" fill="#74c263"/>
<rect x="111" y="18.43" width="1" height="10.62" fill="#9bd569"/>
<rect x="112" y="18.43" width="1" height="10.62" fill="#48ae5b"/>
<rect x="113" y="18.43" width="1" height="10.62" fill="#64bc61"/>
<rect x="114" y="18.43" width="1" height="10.62" fill="#31a255"/>
<rect x="115" y="18.43" width="1" height="10.62" fill="#3ca758"/>
<rect x="116" y="18.43" width="1" height="10.62" fill="#52b35e"/>
<rect x="117" y="18.43" width="1" height="10.62" fill="#32a355"/>
<rect x="118" y="18.43" width="1" height="10.62" fill="#239850"/>
<rect x="119" y="18.43" width="1" height="10.62" fill="#48ae5b"/>
<rect x="120" y="18.43" width="1" height="10.62" fill="#2e9f54"/>
<rect x="121" y="18.43" width="1" height="10.62" fill="#1e9951"/>
<rect x="122" y="18.43" width="1" height="10.62" fill="#108345"/>
<rect x="123" y="18.43" width="1" height="10.62" fill="#097940"/>
<rect x="124" y="18.43" width="1" height="10.62" fill="#108546"/>
<rect x="125" y="18.43" width="1" height="10.62" fill="#108345"/>
<rect x="126" y="18.43" width="1" height="10.62" fill="#1a9850"/>
<rect x="127" y="18.43" width="2" height="10.62" fill="#17924d"/>
<rect x="129" y="18.43" width="1" height="10.62" fill="#5db861"/>
<rect x="130" y="18.43" width="1" height="10.62" fill="#51b35e"/>
<rect x="131" y="18.43" width="1" height="10.62" fill="#50b25e"/>
<rect x="132" y="18.43" width="1" height="10.62" fill="#2ca154"/>
<rect x="133" y="18.43" width="1" height="10.62" fill="#289f53"/>
<rect x="134" y="18.43" width="1" height="10.62" fill="#3ba858"/>
<rect x="135" y="18.43" width="1" height="10.62" fill="#18924d"/>
<rect x="136" y="18.43" width="1" height="10.62" fill="#26954f"/>
<rect x="137" y="18.43" width="1" height="10.62" fill="#2ea155"/>
<rect x="138" y="18.43" width="1" height="10.62" fill="#299f54"/>
<rect x="139" y="18.43" width="1" height="10.62" fill="#56b55f"/>
<rect x="140" y="18.43" width="1" height="10.62" fill="#30a256"/>
<rect x="141" y="18.43" width="1" height="10.62" fill="#1a954e"/>
<rect x="142" y="18.43" width="1" height="10.62" fill="#60ba61"/>
<rect x="143" y="18.43" width="1" height="10.62" fill="#64bb61"/>
<rect x="144" y="18.43" width="1" height="10.62" fill="#3da959"/>
<rect x="145" y="18.43" width="1" height="10.62" fill="#54b45e"/>
<rect x="146" y="18.43" width="1" height="10.62" fill="#3aa758"/>
<rect x="147" y="18.43" width="1" height="10.62" fill="#4fb25d"/>
<rect x="148" y="18.43" width="1" height="10.62" fill="#51b35d"/>
<rect x="149" y="18.43" width="1" height="10.62" fill="#32a456"/>
<rect x="150" y="18.43" width="1" height="10.62" fill="#41ab59"/>
<rect x="151" y="18.43" width="1" height="10.62" fill="#71c264"/>
<rect x="152" y="18.43" width="1" height="10.62" fill="#4aae5b"/>
<rect x="153" y="18.43" width="1" height="10.62" fill="#a3d76c"/>
<rect x="154" y="18.43" width="1" height="10.62" fill="#8dcd75"/>
<rect x="155" y="18.43" width="1" height="10.62" fill="#58b65f"/>
<rect x="156" y="18.43" width="1" height="10.62" fill="#279e53"/>
<rect x="157" y="18.43" width="1" height="10.62" fill="#48af5b"/>
<rect x="158" y="18.43" width="1" height="10.62" fill="#8fcf6b"/>
<rect x="159" y="18.43" width="1" height="10.62" fill="#89cc68"/>
<rect x="160" y="18.43" width="1" height="10.62" fill="#50a755"/>
<rect x="161" y="18.43" width="1" height="10.62" fill="#1a984f"/>
<rect x="162" y="18.43" width="1" height="10.62" fill="#158948"/>
<rect x="163" y="18.43" width="1" height="10.62" fill="#07753e"/>
<rect x="164" y="18.43" width="1" height="10.62" fill="#128a48"/>
<rect x="165" y="18.43" width="1" height="10.62" fill="#138d4a"/>
<rect x="166" y="18.43" width="1" height="10.62" fill="#0d7f43"/>
<rect x="167" y="18.43" width="1" height="10.62" fill="#0b7b41"/>
<rect x="168" y="18.43" width="1" height="10.62" fill="#0a7b40"/>
<rect x="169" y="18.43" width="1" height="10.62" fill="#118747"/>
<rect x="170" y="18.43" width="1" height="10.62" fill="#1e904b"/>
<rect x="171" y="18.43" width="1" height="10.62" fill="#1e9850"/>
<rect x="172" y="18.43" width="1" height="10.62" fill="#1b9850"/>
<rect x="173" y="18.43" width="1" height="10.62" fill="#19964f"/>
<rect x="174" y="18.43" width="1" height="10.62" fill="#259a51"/>
<rect x="175" y="18.43" width="1" height="10.62" fill="#4db15d"/>
<rect x="176" y="18.43" width="1" height="10.62" fill="#6abf64"/>
<rect x="177" y="18.43" width="1" height="10.62" fill="#62bb61"/>
<rect x="178" y="18.43" width="1" height="10.62" fill="#0f8546"/>
<rect x="179" y="18.43" width="1" height="10.62" fill="#239c51"/>
<rect x="180" y="18.43" width="1" height="10.62" fill="#2ba154"/>
<rect x="181" y="18.43" width="1" height="10.62" fill="#329f53"/>
<rect x="182" y="18.43" width="1" height="10.62" fill="#0b7c41"/>
<rect x="183" y="18.43" width="1" height="10.62" fill="#1c8f4b"/>
<rect x="184" y="18.43" width="1" height="10.62" fill="#3ca959"/>
<rect x="185" y="18.43" width="1" height="10.62" fill="#3daa59"/>
<rect x="186" y="18.43" width="1" height="10.62" fill="#269d53"/>
<rect x="187" y="18.43" width="1" height="10.62" fill="#32a456"/>
<rect x="188" y="18.43" width="1" height="10.62" fill="#6abe60"/>
<rect x="189" y="18.43" width="1" height="10.62" fill="#91cf68"/>
<rect x="190" y="18.43" width="1" height="10.62" fill="#95d268"/>
<rect x="191" y="18.43" width="1" height="10.62" fill="#39a757"/>
<rect x="192" y="18.43" width="1" height="10.62" fill="#289f54"/>
<rect x="193" y="18.43" width="1" height="10.62" fill="#6abf63"/>
<rect x="194" y="18.43" width="1" height="10.62" fill="#60ba60"/>
<rect x="195" y="18.43" width="1" height="10.62" fill="#269750"/>
<rect x="196" y="18.43" width="1" height="10.62" fill="#08773f"/>
<rect x="197" y="18.43" width="1" height="10.62" fill="#38a155"/>
<rect x="198" y="18.43" width="1" height="10.62" fill="#47ae5b"/>
<rect x="199" y="18.43" width="1" height="10.62" fill="#79c665"/>
<rect x="200" y="18.43" width="1" height="10.62" fill="#75c465"/>
<rect x="201" y="18.43" width="1" height="10.62" fill="#57b65f"/>
<rect x="202" y="18.43" width="1" height="10.62" fill="#239850"/>
<rect x="203" y="18.43" width="1" height="10.62" fill="#30a356"/>
<rect x="204" y="18.43" width="1" height="10.62" fill="#279f53"/>
<rect x="205" y="18.43" width="1" height="10.62" fill="#2b9c52"/>
<rect x="206" y="18.43" width="1" height="10.62" fill="#329b52"/>
<rect x="207" y="18.43" width="1" height="10.62" fill="#49af5c"/>
<rect x="208" y="18.43" width="1" height="10.62" fill="#279e53"/>
<rect x="209" y="18.43" width="1" height="10.62" fill="#1b9951"/>
<rect x="210" y="18.43" width="1" height="10.62" fill="#33a456"/>
<rect x="211" y="18.43" width="1" height="10.62" fill="#0a7a41"/>
<rect x="212" y="18.43" width="1" height="10.62" fill="#2e9850"/>
<rect x="213" y="18.43" width="1" height="10.62" fill="#2a9c52"/>
<rect x="214" y="18.43" width="1" height="10.62" fill="#2e9f53"/>
<rect x="215" y="18.43" width="1" height="10.62" fill="#59b760"/>
<rect x="216" y="18.43" width="1" height="10.62" fill="#d0ea98"/>
<rect x="217" y="18.43" width="1" height="10.62" fill="#92d069"/>
<rect x="218" y="18.43" width="1" height="10.62" fill="#289f53"/>
<rect x="219" y="18.43" width="1" height="10.62" fill="#47ae5b"/>
<rect x="220" y="18.43" width="1" height="10.62" fill="#3eaa59"/>
<rect x="221" y="18.43" width="1" height="10.62" fill="#30a256"/>
<rect x="222" y="18.43" width="1" height="10.62" fill="#0f7c41"/>
<rect x="223" y="18.43" width="1" height="10.62" fill="#1e924d"/>
<rect x="224" y="18.43" width="1" height="10.62" fill="#65bc62"/>
<rect x="225" y="18.43" width="1" height="10.62" fill="#66bc61"/>
<rect x="226" y="18.43" width="1" height="10.62" fill="#49af5b"/>
<rect x="227" y="18.43" width="1" height="10.62" fill="#30a255"/>
<rect x="228" y="18.43" width="1" height="10.62" fill="#148c49"/>
<rect x="229" y="18.43" width="1" height="10.62" fill="#17904c"/>
<rect x="230" y="18.43" width="1" height="10.62" fill="#44ac5a"/>
<rect x="231" y="18.43" width="1" height="10.62" fill="#3ea958"/>
<rect x="232" y="18.43" width="1" height="10.62" fill="#33a456"/>
<rect x="233" y="18.43" width="1" height="10.62" fill="#2ea255" fill-opacity="0.60"/>
<rect x="246" y="18.43" width="1" height="10.62" fill="#bbe278" fill-opacity="0.30"/>
<rect x="247" y="18.43" width="1" height="10.62" fill="#aad879"/>
<rect x="248" y="18.43" width="1" height="10.62" fill="#0f8446"/>
<rect x="249" y="18.43" width="1" height="10.62" fill="#04703b"/>
<rect x="250" y="18.43" width="1" height="10.62" fill="#67be62"/>
<rect x="251" y="18.43" width="1" height="10.62" fill="#66bd62"/>
<rect x="252" y="18.43" width="1" height="10.62" fill="#27954e"/>
<rect x="253" y="18.43" width="1" height="10.62" fill="#44a858"/>
<rect x="254" y="18.43" width="1" height="10.62" fill="#178647"/>
<rect x="255" y="18.43" width="1" height="10.62" fill="#0c7d42"/>
<rect x="256" y="18.43" width="1" height="10.62" fill="#6fb566"/>
<rect x="257" y="18.43" width="1" height="10.62" fill="#daef8f"/>
<rect x="258" y="18.43" width="1" height="10.62" fill="#4fb15f"/>
<rect x="259" y="18.43" width="1" height="10.62" fill="#58b65f"/>
<rect x="260" y="18.43" width="1" height="10.62" fill="#4ab05c"/>
<rect x="261" y="18.43" width="1" height="10.62" fill="#44ac5a"/>
<rect x="262" y="18.43" width="1" height="10.62" fill="#1c934d"/>
<rect x="263" y="18.43" width="1" height="10.62" fill="#2a9f54"/>
<rect x="264" y="18.43" width="1" height="10.62" fill="#39a657"/>
<rect x="265" y="18.43" width="1" height="10.62" fill="#25934d"/>
<rect x="266" y="18.43" width="1" height="10.62" fill="#1f9750"/>
<rect x="267" y="18.43" width="1" height="10.62" fill="#399d52"/>
<rect x="268" y="18.43" width="1" height="10.62" fill="#289e53"/>
<rect x="269" y="18.43" width="1" height="10.62" fill="#45ad5a"/>
<rect x="270" y="18.43" width="1" height="10.62" fill="#18954e"/>
<rect x="271" y="18.43" width="1" height="10.62" fill="#33a356"/>
<rect x="272" y="18.43" width="1" height="10.62" fill="#1a8a49"/>
<rect x="273" y="18.43" width="1" height="10.62" fill="#2c9f54"/>
<rect x="274" y="18.43" width="1" height="10.62" fill="#e3f398"/>
<rect x="275" y="18.43" width="1" height="10.62" fill="#f9be6e"/>
<rect x="276" y="18.43" width="1" height="10.62" fill="#fdc272"/>
<rect x="277" y="18.43" width="1" height="10.62" fill="#6aac5e"/>
<rect x="278" y="18.43" width="1" height="10.62" fill="#44ad5b"/>
<rect x="279" y="18.43" width="1" height="10.62" fill="#2fa256"/>
<rect x="280" y="18.43" width="1" height="10.62" fill="#69be63"/>
<rect x="281" y="18.43" width="1" height="10.62" fill="#3aa858"/>
<rect x="282" y="18.43" width="1" height="10.62" fill="#168b49"/>
<rect x="283" y="18.43" width="1" height="10.62" fill="#0a7a40"/>
<rect x="284" y="18.43" width="1" height="10.62" fill="#118848"/>
<rect x="285" y="18.43" width="1" height="10.62" fill="#48ad5b"/>
<rect x="286" y="18.43" width="1" height="10.62" fill="#2ba054"/>
<rect x="287" y="18.43" width="1" height="10.62" fill="#de7646"/>
<rect x="288" y="18.43" width="1" height="10.62" fill="#ec8d5b"/>
<rect x="289" y="18.43" width="1" height="10.62" fill="#ebf6a4"/>
<rect x="290" y="18.43" width="1" height="10.62" fill="#a8d980"/>
<rect x="291" y="18.43" width="1" height="10.62" fill="#2b9850"/>
<rect x="292" y="18.43" width="1" height="10.62" fill="#1e9950"/>
<rect x="293" y="18.43" width="1" height="10.62" fill="#5bb860"/>
<rect x="294" y="18.43" width="1" height="10.62" fill="#3eaa59"/>
<rect x="295" y="18.43" width="1" height="10.62" fill="#55b55f"/>
<rect x="296" y="18.43" width="1" height="10.62" fill="#43ac5a"/>
<rect x="297" y="18.43" width="1" height="10.62" fill="#51b25e"/>
<rect x="298" y="18.43" width="1" height="10.62" fill="#2ba154"/>
<rect x="299" y="18.43" width="1" height="10.62" fill="#249c52"/>
<rect x="300" y="18.43" width="1" height="10.62" fill="#1d924d"/>
<rect x="301" y="18.43" width="1" height="10.62" fill="#3aa858"/>
<rect x="302" y="18.43" width="1" height="10.62" fill="#4bb05c"/>
<rect x="303" y="18.43" width="1" height="10.62" fill="#69be62"/>
<rect x="304" y="18.43" width="1" height="10.62" fill="#3da958"/>
<rect x="305" y="18.43" width="1" height="10.62" fill="#5ab760"/>
<rect x="306" y="18.43" width="1" height="10.62" fill="#55b55e"/>
<rect x="307" y="18.43" width="1" height="10.62" fill="#77c565"/>
<rect x="308" y="18.43" width="1" height="10.62" fill="#acda77"/>
<rect x="309" y="18.43" width="1" height="10.62" fill="#fff2a9"/>
<rect x="310" y="18.43" width="1" height="10.62" fill="#f1f6a6"/>
<rect x="311" y="18.43" width="1" height="10.62" fill="#ecf6a4"/>
<rect x="312" y="18.43" width="1" height="10.62" fill="#fff7b2"/>
<rect x="313" y="18.43" width="1" height="10.62" fill="#fede90"/>
<rect x="314" y="18.43" width="1" height="10.62" fill="#e9c06f"/>
<rect x="315" y="18.43" width="1" height="10.62" fill="#31a356"/>
<rect x="316" y="18.43" width="1" height="10.62" fill="#38a658"/>
<rect x="317" y="18.43" width="1" height="10.62" fill="#1d9850"/>
<rect x="318" y="18.43" width="1" height="10.62" fill="#36a155"/>
<rect x="319" y="18.43" width="1" height="10.62" fill="#097940"/>
<rect x="320" y="18.43" width="1" height="10.62" fill="#69bd61"/>
<rect x="321" y="18.43" width="1" height="10.62" fill="#60b960"/>
<rect x="322" y="18.43" width="1" height="10.62" fill="#3ea959"/>
<rect x="323" y="18.43" width="1" height="10.62" fill="#98d278"/>
<rect x="324" y="18.43" width="1" height="10.62" fill="#f2f9ae"/>
<rect x="325" y="18.43" width="1" height="10.62" fill="#fafbb5"/>
<rect x="326" y="18.43" width="1" height="10.62" fill="#fefab6"/>
<rect x="327" y="18.43" width="1" height="10.62" fill="#fff5ae"/>
<rect x="328" y="18.43" width="1" height="10.62" fill="#e3ee94"/>
<rect x="329" y="18.43" width="1" height="10.62" fill="#eef8a9"/>
<rect x="330" y="18.43" width="1" height="10.62" fill="#53b45f"/>
<rect x="331" y="18.43" width="1" height="10.62" fill="#4cb05c"/>
<rect x="332" y="18.43" width="1" height="10.62" fill="#44ac5a"/>
<rect x="333" y="18.43" width="1" height="10.62" fill="#3aa858"/>
<rect x="334" y="18.43" width="1" height="10.62" fill="#209a52"/>
<rect x="335" y="18.43" width="1" height="10.62" fill="#118747"/>
<rect x="336" y="18.43" width="1" height="10.62" fill="#0c8043"/>
<rect x="337" y="18.43" width="1" height="10.62" fill="#4fac59"/>
<rect x="338" y="18.43" width="1" height="10.62" fill="#a7d971"/>
<rect x="339" y="18.43" width="1" height="10.62" fill="#73c263"/>
<rect x="340" y="18.43" width="1" height="10.62" fill="#3eaa59"/>
<rect x="341" y="18.43" width="1" height="10.62" fill="#61bb62"/>
<rect x="342" y="18.43" width="1" height="10.62" fill="#5ab760"/>
<rect x="343" y="18.43" width="1" height="10.62" fill="#41aa59"/>
<rect x="344" y="18.43" width="1" height="10.62" fill="#0e8344"/>
<rect x="345" y="18.43" width="1" height="10.62" fill="#0d8144"/>
<rect x="346" y="18.43" width="1" height="10.62" fill="#158f4b"/>
<rect x="347" y="18.43" width="1" height="10.62" fill="#0e8144"/>
<rect x="348" y="18.43" width="1" height="10.62" fill="#2b9950" fill-opacity="0.50"/>
<rect x="349" y="18.43" width="1" height="10.62" fill="#af0a26" fill-opacity="0.20"/>
<rect x="350" y="18.43" width="18" height="10.62" fill="#af0a26"/>
<rect x="368" y="18.43" width="1" height="10.62" fill="#af0a26" fill-opacity="0.20"/>
<rect x="369" y="18.43" width="1" height="10.62" fill="#0a7a40" fill-opacity="0.90"/>
<rect x="370" y="18.43" width="1" height="10.62" fill="#20934d"/>
<rect x="371" y="18.43" width="1" height="10.62" fill="#208e4b"/>
<rect x="372" y="18.43" width="1" height="10.62" fill="#1a8f4b"/>
<rect x="373" y="18.43" width="1" height="10.62" fill="#0b7a40"/>
<rect x="374" y="18.43" width="1" height="10.62" fill="#2c9e53"/>
<rect x="375" y="18.43" width="1" height="10.62" fill="#279e53"/>
<rect x="376" y="18.43" width="1" height="10.62" fill="#4eb05c"/>
<rect x="377" y="18.43" width="1" height="10.62" fill="#31a155"/>
<rect x="378" y="18.43" width="1" height="10.62" fill="#51b35e"/>
<rect x="379" y="18.43" width="1" height="10.62" fill="#46ad5b"/>
<rect x="380" y="18.43" width="1" height="10.62" fill="#0e7b41"/>
<rect x="381" y="18.43" width="1" height="10.62" fill="#34a457"/>
<rect x="382" y="18.43" width="1" height="10.62" fill="#5eb960"/>
<rect x="383" y="18.43" width="1" height="10.62" fill="#69be62"/>
<rect x="384" y="18.43" width="1" height="10.62" fill="#4db15d"/>
<rect x="385" y="18.43" width="1" height="10.62" fill="#65bc62"/>
<rect x="386" y="18.43" width="1" height="10.62" fill="#17924d"/>
<rect x="387" y="18.43" width="1" height="10.62" fill="#c43a2b"/>
<rect x="388" y="18.43" width="1" height="10.62" fill="#b5ba61"/>
<rect x="389" y="18.43" width="1" height="10.62" fill="#95d268"/>
<rect x="390" y="18.43" width="1" height="10.62" fill="#71c164"/>
<rect x="391" y="18.43" width="1" height="10.62" fill="#56b55f"/>
<rect x="392" y="18.43" width="1" height="10.62" fill="#72c263"/>
<rect x="393" y="18.43" width="1" height="10.62" fill="#57b55f"/>
<rect x="394" y="18.43" width="1" height="10.62" fill="#32a255"/>
<rect x="395" y="18.43" width="1" height="10.62" fill="#1b934e"/>
<rect x="396" y="18.43" width="1" height="10.62" fill="#1d944e"/>
<rect x="397" y="18.43" width="1" height="10.62" fill="#35a054"/>
<rect x="398" y="18.43" width="1" height="10.62" fill="#1f914c"/>
<rect x="399" y="18.43" width="1" height="10.62" fill="#38a457"/>
<rect x="400" y="18.43" width="1" height="10.62" fill="#89cb67"/>
<rect x="401" y="18.43" width="1" height="10.62" fill="#79c665"/>
<rect x="402" y="18.43" width="1" height="10.62" fill="#86cb66"/>
<rect x="403" y="18.43" width="1" height="10.62" fill="#7cc765"/>
<rect x="404" y="18.43" width="1" height="10.62" fill="#6ec164"/>
<rect x="405" y="18.43" width="1" height="10.62" fill="#66bd63"/>
<rect x="406" y="18.43" width="1" height="10.62" fill="#69be63"/>
<rect x="407" y="18.43" width="1" height="10.62" fill="#35a053"/>
<rect x="408" y="18.43" width="1" height="10.62" fill="#19964f"/>
<rect x="409" y="18.43" width="1" height="10.62" fill="#33a355"/>
<rect x="410" y="18.43" width="1" height="10.62" fill="#49af5c"/>
<rect x="411" y="18.43" width="1" height="10.62" fill="#28964f"/>
<rect x="412" y="18.43" width="1" height="10.62" fill="#18944e"/>
<rect x="413" y="18.43" width="1" height="10.62" fill="#1b9750"/>
<rect x="414" y="18.43" width="1" height="10.62" fill="#19904c"/>
<rect x="415" y="18.43" width="1" height="10.62" fill="#1c8d4a"/>
<rect x="416" y="18.43" width="1" height="10.62" fill="#43ab59"/>
<rect x="417" y="18.43" width="1" height="10.62" fill="#1a944e"/>
<rect x="418" y="18.43" width="1" height="10.62" fill="#239c52"/>
<rect x="419" y="18.43" width="1" height="10.62" fill="#21944e"/>
<rect x="420" y="18.43" width="1" height="10.62" fill="#299e53"/>
<rect x="421" y="18.43" width="1" height="10.62" fill="#2f9f54"/>
<rect x="432" y="18.43" width="1" height="10.62" fill="#6cc064" fill-opacity="0.10"/>
<rect x="433" y="18.43" width="1" height="10.62" fill="#5eb961"/>
<rect x="434" y="18.43" width="1" height="10.62" fill="#6fc062"/>
<rect x="435" y="18.43" width="1" height="10.62" fill="#a0d66a"/>
<rect x="436" y="18.43" width="1" height="10.62" fill="#60ba60"/>
<rect x="437" y="18.43" width="1" height="10.62" fill="#188d4a"/>
<rect x="438" y="18.43" width="1" height="10.62" fill="#19964f"/>
<rect x="439" y="18.43" width="1" height="10.62" fill="#17924d"/>
<rect x="440" y="18.43" width="1" height="10.62" fill="#138c4a"/>
<rect x="441" y="18.43" width="1" height="10.62" fill="#158f4c"/>
<rect x="442" y="18.43" width="1" height="10.62" fill="#6cbf61"/>
<rect x="443" y="18.43" width="1" height="10.62" fill="#31a355"/>
<rect x="444" y="18.43" width="1" height="10.62" fill="#168f4b"/>
<rect x="445" y="18.43" width="1" height="10.62" fill="#128546"/>
<rect x="446" y="18.43" width="1" height="10.62" fill="#1a914c"/>
<rect x="447" y="18.43" width="1" height="10.62" fill="#51aa58"/>
<rect x="448" y="18.43" width="1" height="10.62" fill="#90cf6a"/>
<rect x="449" y="18.43" width="1" height="10.62" fill="#8fcf68"/>
<rect x="450" y="18.43" width="1" height="10.62" fill="#97543f"/>
<rect x="451" y="18.43" width="9" height="10.62" fill="#af0a26"/>
<rect x="460" y="18.43" width="1" height="10.62" fill="#d22f2a"/>
<rect x="461" y="18.43" width="1" height="10.62" fill="#b81327"/>
<rect x="462" y="18.43" width="13" height="10.62" fill="#af0a26"/>
<rect x="475" y="18.43" width="1" height="10.62" fill="#d3352f"/>
<rect x="476" y="18.43" width="1" height="10.62" fill="#e34a33"/>
<rect x="477" y="18.43" width="1" height="10.62" fill="#d02f2c"/>
<rect x="478" y="18.43" width="12" height="10.62" fill="#af0a26"/>
<rect x="490" y="18.43" width="1" height="10.62" fill="#c6413c"/>
<rect x="491" y="18.43" width="1" height="10.62" fill="#c3bd69"/>
<rect x="492" y="18.43" width="1" height="10.62" fill="#85cb67"/>
<rect x="493" y="18.43" width="1" height="10.62" fill="#f1f9b2"/>
<rect x="494" y="18.43" width="1" height="10.62" fill="#f6fbb2"/>
<rect x="495" y="18.43" width="1" height="10.62" fill="#e2f397"/>
<rect x="496" y="18.43" width="1" height="10.62" fill="#79c565"/>
<rect x="497" y="18.43" width="1" height="10.62" fill="#6cbc61"/>
<rect x="498" y="18.43" width="1" height="10.62" fill="#036d3a"/>
<rect x="499" y="18.43" width="1" height="10.62" fill="#0e8345"/>
<rect x="500" y="18.43" width="1" height="10.62" fill="#117f43"/>
<rect x="501" y="18.43" width="1" height="10.62" fill="#1d964f"/>
<rect x="502" y="18.43" width="1" height="10.62" fill="#5eb861"/>
<rect x="503" y="18.43" width="1" height="10.62" fill="#b9e277"/>
<rect x="504" y="18.43" width="1" height="10.62" fill="#d8ef8e"/>
<rect x="505" y="18.43" width="1" height="10.62" fill="#f4faaf"/>
<rect x="506" y="18.43" width="1" height="10.62" fill="#fee595"/>
<rect x="507" y="18.43" width="1" height="10.62" fill="#9ebd6b"/>
<rect x="508" y="18.43" width="1" height="10.62" fill="#69bf63"/>
<rect x="509" y="18.43" width="1" height="10.62" fill="#63bb62" fill-opacity="0.30"/>
<rect x="52" y="30.45" width="1" height="10.62" fill="#dff193"/>
<rect x="53" y="30.45" width="1" height="10.62" fill="#f8fcb5"/>
<rect x="54" y="30.45" width="1" height="10.62" fill="#c4e67e"/>
<rect x="55" y="30.45" width="1" height="10.62" fill="#b9e176"/>
<rect x="56" y="30.45" width="1" height="10.62" fill="#b1de71"/>
<rect x="57" y="30.45" width="1" height="10.62" fill="#cae984"/>
<rect x="58" y="30.45" width="1" height="10.62" fill="#81c86e"/>
<rect x="59" y="30.45" width="1" height="10.62" fill="#138848"/>
<rect x="60" y="30.45" width="1" height="10.62" fill="#e1f295"/>
<rect x="61" y="30.45" width="1" height="10.62" fill="#d9ee8e"/>
<rect x="62" y="30.45" width="1" height="10.62" fill="#d6ee8d"/>
<rect x="63" y="30.45" width="1" height="10.62" fill="#78c565"/>
<rect x="64" y="30.45" width="1" height="10.62" fill="#37a456"/>
<rect x="67" y="30.45" width="1" height="10.62" fill="#61ba61"/>
<rect x="68" y="30.45" width="1" height="10.62" fill="#59b65f"/>
<rect x="69" y="30.45" width="1" height="10.62" fill="#4fb15c"/>
<rect x="70" y="30.45" width="1" height="10.62" fill="#b8e176"/>
<rect x="71" y="30.45" width="1" height="10.62" fill="#a6d86c"/>
<rect x="72" y="30.45" width="1" height="10.62" fill="#99d468"/>
<rect x="73" y="30.45" width="1" height="10.62" fill="#259b52"/>
<rect x="74" y="30.45" width="1" height="10.62" fill="#118848"/>
<rect x="75" y="30.45" width="1" height="10.62" fill="#98d369"/>
<rect x="76" y="30.45" width="1" height="10.62" fill="#82c966"/>
<rect x="77" y="30.45" width="1" height="10.62" fill="#83c967"/>
<rect x="78" y="30.45" width="1" height="10.62" fill="#d5ed89"/>
<rect x="79" y="30.45" width="1" height="10.62" fill="#bbe278"/>
<rect x="80" y="30.45" width="1" height="10.62" fill="#7ec765"/>
<rect x="81" y="30.45" width="1" height="10.62" fill="#72c263"/>
<rect x="82" y="30.45" width="1" height="10.62" fill="#7ac665"/>
<rect x="83" y="30.45" width="1" height="10.62" fill="#b6e074"/>
<rect x="84" y="30.45" width="1" height="10.62" fill="#addc6e"/>
<rect x="85" y="30.45" width="1" height="10.62" fill="#45ad5b"/>
<rect x="86" y="30.45" width="1" height="10.62" fill="#4db15d"/>
<rect x="87" y="30.45" width="1" height="10.62" fill="#c9e884"/>
<rect x="88" y="30.45" width="1" height="10.62" fill="#d7ee8d"/>
<rect x="89" y="30.45" width="1" height="10.62" fill="#ddf192"/>
<rect x="90" y="30.45" width="1" height="10.62" fill="#92d068"/>
<rect x="91" y="30.45" width="1" height="10.62" fill="#9dd56b"/>
<rect x="92" y="30.45" width="1" height="10.62" fill="#77c467"/>
<rect x="93" y="30.45" width="1" height="10.62" fill="#61bb62"/>
<rect x="94" y="30.45" width="1" height="10.62" fill="#67bd64"/>
<rect x="95" y="30.45" width="1" height="10.62" fill="#daf08d"/>
<rect x="96" y="30.45" width="1" height="10.62" fill="#e1f297"/>
<rect x="97" y="30.45" width="1" height="10.62" fill="#c3e57d"/>
<rect x="98" y="30.45" width="1" height="10.62" fill="#c5e67e"/>
<rect x="99" y="30.45" width="1" height="10.62" fill="#cfea89"/>
<rect x="100" y="30.45" width="1" height="10.62" fill="#ebf4a4"/>
<rect x="101" y="30.45" width="1" height="10.62" fill="#67bc60"/>
<rect x="102" y="30.45" width="1" height="10.62" fill="#62bb62"/>
<rect x="103" y="30.45" width="1" height="10.62" fill="#9cd469"/>
<rect x="104" y="30.45" width="1" height="10.62" fill="#69bc60"/>
<rect x="105" y="30.45" width="1" height="10.62" fill="#2ea255"/>
<rect x="106" y="30.45" width="1" height="10.62" fill="#37a657"/>
<rect x="107" y="30.45" width="1" height="10.62" fill="#78c565"/>
<rect x="108" y="30.45" width="1" height="10.62" fill="#52b35e"/>
<rect x="109" y="30.45" width="1" height="10.62" fill="#8fce67"/>
<rect x="110" y="30.45" width="1" height="10.62" fill="#82c766"/>
<rect x="111" y="30.45" width="1" height="10.62" fill="#249950"/>
<rect x="112" y="30.45" width="1" height="10.62" fill="#44a658"/>
<rect x="113" y="30.45" width="1" height="10.62" fill="#b3de72"/>
<rect x="114" y="30.45" width="1" height="10.62" fill="#b5e073"/>
<rect x="115" y="30.45" width="1" height="10.62" fill="#4eb15c"/>
<rect x="116" y="30.45" width="1" height="10.62" fill="#30a355"/>
<rect x="117" y="30.45" width="1" height="10.62" fill="#46ad5a"/>
<rect x="118" y="30.45" width="1" height="10.62" fill="#9cd46b"/>
<rect x="119" y="30.45" width="1" height="10.62" fill="#afdd70"/>
<rect x="120" y="30.45" width="1" height="10.62" fill="#75c364"/>
<rect x="121" y="30.45" width="1" height="10.62" fill="#128043"/>
<rect x="122" y="30.45" width="1" height="10.62" fill="#49ac5a"/>
<rect x="123" y="30.45" width="1" height="10.62" fill="#32a455"/>
<rect x="124" y="30.45" width="1" height="10.62" fill="#84ca66"/>
<rect x="125" y="30.45" width="1" height="10.62" fill="#98d370"/>
<rect x="126" y="30.45" width="1" height="10.62" fill="#d7ee8d"/>
<rect x="127" y="30.45" width="1" height="10.62" fill="#f1f9ad"/>
<rect x="128" y="30.45" width="1" height="10.62" fill="#bee37d"/>
<rect x="129" y="30.45" width="1" height="10.62" fill="#7bc667"/>
<rect x="130" y="30.45" width="1" height="10.62" fill="#b3de73"/>
<rect x="131" y="30.45" width="1" height="10.62" fill="#88cc67"/>
<rect x="132" y="30.45" width="1" height="10.62" fill="#74c364"/>
<rect x="133" y="30.45" width="1" height="10.62" fill="#86cb67"/>
<rect x="134" y="30.45" width="1" height="10.62" fill="#6ab55b"/>
<rect x="135" y="30.45" width="1" height="10.62" fill="#0f8445"/>
<rect x="136" y="30.45" width="1" height="10.62" fill="#1b8f4b"/>
<rect x="137" y="30.45" width="1" height="10.62" fill="#74c365"/>
<rect x="138" y="30.45" width="1" height="10.62" fill="#61ba61"/>
<rect x="139" y="30.45" width="1" height="10.62" fill="#67bd62"/>
<rect x="140" y="30.45" width="1" height="10.62" fill="#74c364" fill-opacity="0.20"/>
<rect x="142" y="30.45" width="1" height="10.62" fill="#9cd46a" fill-opacity="0.70"/>
<rect x="143" y="30.45" width="1" height="10.62" fill="#8cce69"/>
<rect x="144" y="30.45" width="1" height="10.62" fill="#93d16b"/>
<rect x="145" y="30.45" width="1" height="10.62" fill="#49af5b"/>
<rect x="146" y="30.45" width="1" height="10.62" fill="#4bb05c"/>
<rect x="147" y="30.45" width="1" height="10.62" fill="#2ba054"/>
<rect x="148" y="30.45" width="1" height="10.62" fill="#1d924d"/>
<rect x="149" y="30.45" width="1" height="10.62" fill="#40aa59"/>
<rect x="150" y="30.45" width="1" height="10.62" fill="#9ad469"/>
<rect x="151" y="30.45" width="1" height="10.62" fill="#94d168"/>
<rect x="152" y="30.45" width="1" height="10.62" fill="#b1de72"/>
<rect x="153" y="30.45" width="1" height="10.62" fill="#a2d86b"/>
<rect x="154" y="30.45" width="1" height="10.62" fill="#c3e57c"/>
<rect x="155" y="30.45" width="1" height="10.62" fill="#8ccd6f"/>
<rect x="156" y="30.45" width="1" height="10.62" fill="#51b35d"/>
<rect x="157" y="30.45" width="1" height="10.62" fill="#7ac565"/>
<rect x="158" y="30.45" width="1" height="10.62" fill="#abdb73"/>
<rect x="159" y="30.45" width="1" height="10.62" fill="#bce278"/>
<rect x="160" y="30.45" width="1" height="10.62" fill="#e9f6a1"/>
<rect x="161" y="30.45" width="1" height="10.62" fill="#d6ed89"/>
<rect x="162" y="30.45" width="1" height="10.62" fill="#87cb67"/>
<rect x="163" y="30.45" width="1" height="10.62" fill="#84ca66"/>
<rect x="164" y="30.45" width="1" height="10.62" fill="#73c364"/>
<rect x="165" y="30.45" width="1" height="10.62" fill="#76c465"/>
<rect x="166" y="30.45" width="1" height="10.62" fill="#3da858"/>
<rect x="167" y="30.45" width="1" height="10.62" fill="#07763e"/>
<rect x="168" y="30.45" width="1" height="10.62" fill="#118647"/>
<rect x="169" y="30.45" width="1" height="10.62" fill="#49a252"/>
<rect x="170" y="30.45" width="1" height="10.62" fill="#9ad369"/>
<rect x="171" y="30.45" width="1" height="10.62" fill="#a7d96e"/>
<rect x="172" y="30.45" width="1" height="10.62" fill="#84ca69"/>
<rect x="173" y="30.45" width="1" height="10.62" fill="#dbef8d"/>
<rect x="174" y="30.45" width="1" height="10.62" fill="#94d077"/>
<rect x="175" y="30.45" width="1" height="10.62" fill="#5cb860"/>
<rect x="176" y="30.45" width="1" height="10.62" fill="#63ba61"/>
<rect x="177" y="30.45" width="1" height="10.62" fill="#a8da6c"/>
<rect x="178" y="30.45" width="1" height="10.62" fill="#78c465"/>
<rect x="179" y="30.45" width="1" height="10.62" fill="#86cb67"/>
<rect x="180" y="30.45" width="1" height="10.62" fill="#addc6f"/>
<rect x="181" y="30.45" width="1" height="10.62" fill="#c3e582"/>
<rect x="182" y="30.45" width="1" height="10.62" fill="#d2ec8e"/>
<rect x="183" y="30.45" width="1" height="10.62" fill="#6ec064"/>
<rect x="184" y="30.45" width="1" height="10.62" fill="#2ba054"/>
<rect x="185" y="30.45" width="1" height="10.62" fill="#249c52"/>
<rect x="186" y="30.45" width="1" height="10.62" fill="#289a51"/>
<rect x="187" y="30.45" width="1" height="10.62" fill="#6cbf63"/>
<rect x="188" y="30.45" width="1" height="10.62" fill="#a1d66f"/>
<rect x="189" y="30.45" width="1" height="10.62" fill="#91cf6d"/>
<rect x="190" y="30.45" width="1" height="10.62" fill="#9bd46b"/>
<rect x="191" y="30.45" width="1" height="10.62" fill="#c4e580"/>
<rect x="192" y="30.45" width="1" height="10.62" fill="#eef7a5"/>
<rect x="193" y="30.45" width="1" height="10.62" fill="#fbf9b2"/>
<rect x="194" y="30.45" width="1" height="10.62" fill="#f6fcb3"/>
<rect x="195" y="30.45" width="1" height="10.62" fill="#f4f8ad"/>
<rect x="196" y="30.45" width="1" height="10.62" fill="#b3df73"/>
<rect x="197" y="30.45" width="1" height="10.62" fill="#ceeb84"/>
<rect x="198" y="30.45" width="1" height="10.62" fill="#77c465"/>
<rect x="199" y="30.45" width="1" height="10.62" fill="#6bbf64"/>
<rect x="200" y="30.45" width="1" height="10.62" fill="#71c164"/>
<rect x="201" y="30.45" width="1" height="10.62" fill="#93d168"/>
<rect x="202" y="30.45" width="1" height="10.62" fill="#acdb72"/>
<rect x="203" y="30.45" width="1" height="10.62" fill="#98d36a"/>
<rect x="204" y="30.45" width="1" height="10.62" fill="#95d268"/>
<rect x="205" y="30.45" width="1" height="10.62" fill="#8fcf68"/>
<rect x="206" y="30.45" width="1" height="10.62" fill="#7ac565"/>
<rect x="207" y="30.45" width="1" height="10.62" fill="#6bbf62"/>
<rect x="208" y="30.45" width="1" height="10.62" fill="#7dc866"/>
<rect x="209" y="30.45" width="1" height="10.62" fill="#57b55f"/>
<rect x="210" y="30.45" width="1" height="10.62" fill="#e0f295"/>
<rect x="211" y="30.45" width="1" height="10.62" fill="#def191"/>
<rect x="212" y="30.45" width="1" height="10.62" fill="#ddf190"/>
<rect x="213" y="30.45" width="1" height="10.62" fill="#eef7a7"/>
<rect x="214" y="30.45" width="1" height="10.62" fill="#fefebd"/>
<rect x="215" y="30.45" width="1" height="10.62" fill="#c6e68b"/>
<rect x="216" y="30.45" width="1" height="10.62" fill="#9ed669"/>
<rect x="217" y="30.45" width="1" height="10.62" fill="#85ca67"/>
<rect x="218" y="30.45" width="1" height="10.62" fill="#7fc866"/>
<rect x="219" y="30.45" width="1" height="10.62" fill="#8ccd67"/>
<rect x="220" y="30.45" width="1" height="10.62" fill="#66bd62"/>
<rect x="221" y="30.45" width="1" height="10.62" fill="#8acd67"/>
<rect x="222" y="30.45" width="1" height="10.62" fill="#d7ee8b"/>
<rect x="223" y="30.45" width="1" height="10.62" fill="#94d074"/>
<rect x="224" y="30.45" width="1" height="10.62" fill="#48ae5b"/>
<rect x="225" y="30.45" width="1" height="10.62" fill="#68bd61"/>
<rect x="226" y="30.45" width="1" height="10.62" fill="#3aa758"/>
<rect x="227" y="30.45" width="1" height="10.62" fill="#41ac5a"/>
<rect x="228" y="30.45" width="1" height="10.62" fill="#35a657"/>
<rect x="229" y="30.45" width="1" height="10.62" fill="#b1dd77"/>
<rect x="230" y="30.45" width="1" height="10.62" fill="#a6d96a"/>
<rect x="231" y="30.45" width="1" height="10.62" fill="#a5d96b"/>
<rect x="232" y="30.45" width="1" height="10.62" fill="#a2d86c"/>
<rect x="233" y="30.45" width="1" height="10.62" fill="#b4df72"/>
<rect x="234" y="30.45" width="1" height="10.62" fill="#a9db6d"/>
<rect x="235" y="30.45" width="1" height="10.62" fill="#6fc164"/>
<rect x="236" y="30.45" width="1" height="10.62" fill="#81c966"/>
<rect x="237" y="30.45" width="1" height="10.62" fill="#5fb960"/>
<rect x="238" y="30.45" width="1" height="10.62" fill="#9ed56e"/>
<rect x="239" y="30.45" width="1" height="10.62" fill="#b2de72"/>
<rect x="240" y="30.45" width="1" height="10.62" fill="#a4d86a"/>
<rect x="241" y="30.45" width="1" height="10.62" fill="#b4df74"/>
<rect x="242" y="30.45" width="1" height="10.62" fill="#7fc865"/>
<rect x="243" y="30.45" width="1" height="10.62" fill="#42ac5a"/>
<rect x="244" y="30.45" width="1" height="10.62" fill="#57b55f"/>
<rect x="245" y="30.45" width="1" height="10.62" fill="#a4d771"/>
<rect x="246" y="30.45" width="1" height="10.62" fill="#afdd71"/>
<rect x="247" y="30.45" width="1" height="10.62" fill="#c5e686"/>
<rect x="248" y="30.45" width="1" height="10.62" fill="#e2f297"/>
<rect x="249" y="30.45" width="1" height="10.62" fill="#eff8a9"/>
<rect x="250" y="30.45" width="1" height="10.62" fill="#d7ee89"/>
<rect x="251" y="30.45" width="1" height="10.62" fill="#e3f39a"/>
<rect x="252" y="30.45" width="1" height="10.62" fill="#f3faaf"/>
<rect x="253" y="30.45" width="1" height="10.62" fill="#87cb6d"/>
<rect x="254" y="30.45" width="1" height="10.62" fill="#94d168"/>
<rect x="255" y="30.45" width="1" height="10.62" fill="#77c565"/>
<rect x="256" y="30.45" width="1" height="10.62" fill="#7ac665"/>
<rect x="257" y="30.45" width="1" height="10.62" fill="#9ed56b"/>
<rect x="258" y="30.45" width="1" height="10.62" fill="#6fc063"/>
<rect x="259" y="30.45" width="1" height="10.62" fill="#72c264"/>
<rect x="260" y="30.45" width="1" height="10.62" fill="#5bb760"/>
<rect x="261" y="30.45" width="1" height="10.62" fill="#77c565"/>
<rect x="262" y="30.45" width="1" height="10.62" fill="#acdc6f"/>
<rect x="263" y="30.45" width="1" height="10.62" fill="#90d067"/>
<rect x="264" y="30.45" width="1" height="10.62" fill="#9ad36e"/>
<rect x="265" y="30.45" width="1" height="10.62" fill="#c0e47b"/>
<rect x="266" y="30.45" width="1" height="10.62" fill="#afdd76"/>
<rect x="267" y="30.45" width="1" height="10.62" fill="#7cc765"/>
<rect x="268" y="30.45" width="1" height="10.62" fill="#7ec765"/>
<rect x="269" y="30.45" width="1" height="10.62" fill="#4bb05c"/>
<rect x="270" y="30.45" width="1" height="10.62" fill="#8cce67"/>
<rect x="271" y="30.45" width="1" height="10.62" fill="#a1d773"/>
<rect x="272" y="30.45" width="1" height="10.62" fill="#bce278"/>
<rect x="273" y="30.45" width="1" height="10.62" fill="#83c966"/>
<rect x="274" y="30.45" width="1" height="10.62" fill="#30a356"/>
<rect x="275" y="30.45" width="1" height="10.62" fill="#7bc56c"/>
<rect x="276" y="30.45" width="1" height="10.62" fill="#d5ed91"/>
<rect x="277" y="30.45" width="1" height="10.62" fill="#dcf097"/>
<rect x="278" y="30.45" width="1" height="10.62" fill="#bde379"/>
<rect x="279" y="30.45" width="1" height="10.62" fill="#9ad46b"/>
<rect x="280" y="30.45" width="1" height="10.62" fill="#a7d96f"/>
<rect x="281" y="30.45" width="1" height="10.62" fill="#72c365"/>
<rect x="282" y="30.45" width="1" height="10.62" fill="#84ca66"/>
<rect x="283" y="30.45" width="1" height="10.62" fill="#7fc865"/>
<rect x="284" y="30.45" width="1" height="10.62" fill="#92d067"/>
<rect x="285" y="30.45" width="1" height="10.62" fill="#9fd669"/>
<rect x="286" y="30.45" width="1" height="10.62" fill="#c1e57f"/>
<rect x="287" y="30.45" width="1" height="10.62" fill="#c6e77f"/>
<rect x="288" y="30.45" width="1" height="10.62" fill="#cdea88"/>
<rect x="289" y="30.45" width="1" height="10.62" fill="#fbb96c"/>
<rect x="290" y="30.45" width="1" height="10.62" fill="#e9c06c"/>
<rect x="291" y="30.45" width="2" height="10.62" fill="#bfe47a"/>
<rect x="293" y="30.45" width="1" height="10.62" fill="#abdb6d"/>
<rect x="294" y="30.45" width="1" height="10.62" fill="#c3e680"/>
<rect x="295" y="30.45" width="1" height="10.62" fill="#bfe47b"/>
<rect x="296" y="30.45" width="1" height="10.62" fill="#bde379"/>
<rect x="297" y="30.45" width="1" height="10.62" fill="#c6e77e"/>
<rect x="298" y="30.45" width="1" height="10.62" fill="#d0ec85"/>
<rect x="299" y="30.45" width="1" height="10.62" fill="#d3ec90"/>
<rect x="300" y="30.45" width="1" height="10.62" fill="#fcfebb"/>
<rect x="301" y="30.45" width="1" height="10.62" fill="#dff19e"/>
<rect x="302" y="30.45" width="1" height="10.62" fill="#bae277"/>
<rect x="303" y="30.45" width="1" height="10.62" fill="#aedc6f"/>
<rect x="304" y="30.45" width="1" height="10.62" fill="#b6df78"/>
<rect x="305" y="30.45" width="2" height="10.62" fill="#91d068"/>
<rect x="307" y="30.45" width="1" height="10.62" fill="#8bcd67"/>
<rect x="308" y="30.45" width="1" height="10.62" fill="#a0d66f"/>
<rect x="309" y="30.45" width="1" height="10.62" fill="#a9da6e"/>
<rect x="310" y="30.45" width="1" height="10.62" fill="#b8e077"/>
<rect x="311" y="30.45" width="1" height="10.62" fill="#d9ef8d"/>
<rect x="312" y="30.45" width="1" height="10.62" fill="#d0eb8c"/>
<rect x="313" y="30.45" width="1" height="10.62" fill="#c4e682"/>
<rect x="314" y="30.45" width="1" height="10.62" fill="#e7f59e"/>
<rect x="315" y="30.45" width="1" height="10.62" fill="#b9e182"/>
<rect x="316" y="30.45" width="1" height="10.62" fill="#64bc61"/>
<rect x="317" y="30.45" width="1" height="10.62" fill="#51b35d"/>
<rect x="318" y="30.45" width="1" height="10.62" fill="#78c565"/>
<rect x="319" y="30.45" width="1" height="10.62" fill="#58b65f"/>
<rect x="320" y="30.45" width="1" height="10.62" fill="#78c565"/>
<rect x="321" y="30.45" width="1" height="10.62" fill="#35a154"/>
<rect x="322" y="30.45" width="1" height="10.62" fill="#128948"/>
<rect x="323" y="30.45" width="1" height="10.62" fill="#54b25c"/>
<rect x="324" y="30.45" width="1" height="10.62" fill="#93d068"/>
<rect x="325" y="30.45" width="1" height="10.62" fill="#7dc764"/>
<rect x="326" y="30.45" width="1" height="10.62" fill="#42ab5a"/>
<rect x="327" y="30.45" width="1" height="10.62" fill="#3ba858"/>
<rect x="328" y="30.45" width="1" height="10.62" fill="#31a356"/>
<rect x="329" y="30.45" width="1" height="10.62" fill="#6fc063"/>
<rect x="330" y="30.45" width="1" height="10.62" fill="#90d068"/>
<rect x="331" y="30.45" width="1" height="10.62" fill="#7ec766"/>
<rect x="332" y="30.45" width="1" height="10.62" fill="#a3d86a"/>
<rect x="333" y="30.45" width="1" height="10.62" fill="#91d067"/>
<rect x="334" y="30.45" width="1" height="10.62" fill="#73c363"/>
<rect x="335" y="30.45" width="1" height="10.62" fill="#3ba859"/>
<rect x="336" y="30.45" width="1" height="10.62" fill="#84c871"/>
<rect x="337" y="30.45" width="1" height="10.62" fill="#b3df73"/>
<rect x="338" y="30.45" width="1" height="10.62" fill="#c1e57c"/>
<rect x="339" y="30.45" width="1" height="10.62" fill="#aada72"/>
<rect x="340" y="30.45" width="1" height="10.62" fill="#4db05c"/>
<rect x="341" y="30.45" width="1" height="10.62" fill="#2da155"/>
<rect x="342" y="30.45" width="1" height="10.62" fill="#84c965"/>
<rect x="343" y="30.45" width="1" height="10.62" fill="#55b45e"/>
<rect x="344" y="30.45" width="1" height="10.62" fill="#8fcf67"/>
<rect x="345" y="30.45" width="1" height="10.62" fill="#8bce67"/>
<rect x="346" y="30.45" width="1" height="10.62" fill="#3ca154"/>
<rect x="347" y="30.45" width="1" height="10.62" fill="#097940"/>
<rect x="348" y="30.45" width="1" height="10.62" fill="#ebf7a5"/>
<rect x="349" y="30.45" width="1" height="10.62" fill="#cf966c"/>
<rect x="350" y="30.45" width="18" height="10.62" fill="#af0a26"/>
<rect x="368" y="30.45" width="1" height="10.62" fill="#eeba80"/>
<rect x="369" y="30.45" width="1" height="10.62" fill="#f1f3a3"/>
<rect x="370" y="30.45" width="1" height="10.62" fill="#def194"/>
<rect x="371" y="30.45" width="1" height="10.62" fill="#dff196"/>
<rect x="372" y="30.45" width="1" height="10.62" fill="#c5e77e"/>
<rect x="373" y="30.45" width="1" height="10.62" fill="#bbe378"/>
<rect x="374" y="30.45" width="1" height="10.62" fill="#a9db6c"/>
<rect x="375" y="30.45" width="1" height="10.62" fill="#a7d96f"/>
<rect x="376" y="30.45" width="1" height="10.62" fill="#86cb67"/>
<rect x="377" y="30.45" width="1" height="10.62" fill="#94d168"/>
<rect x="378" y="30.45" width="1" height="10.62" fill="#9fd66e"/>
<rect x="379" y="30.45" width="1" height="10.62" fill="#c3e67d"/>
<rect x="380" y="30.45" width="1" height="10.62" fill="#c1e47c"/>
<rect x="381" y="30.45" width="1" height="10.62" fill="#5db75e"/>
<rect x="382" y="30.45" width="1" height="10.62" fill="#6fc062"/>
<rect x="383" y="30.45" width="1" height="10.62" fill="#4db15d"/>
<rect x="384" y="30.45" width="1" height="10.62" fill="#4eb15c"/>
<rect x="385" y="30.45" width="1" height="10.62" fill="#1c924d"/>
<rect x="386" y="30.45" width="1" height="10.62" fill="#607e46"/>
<rect x="387" y="30.45" width="1" height="10.62" fill="#d6563a"/>
<rect x="388" y="30.45" width="1" height="10.62" fill="#cde983"/>
<rect x="389" y="30.45" width="1" height="10.62" fill="#5cb760"/>
<rect x="390" y="30.45" width="1" height="10.62" fill="#269e53"/>
<rect x="391" y="30.45" width="1" height="10.62" fill="#2da155"/>
<rect x="392" y="30.45" width="1" height="10.62" fill="#5eb961"/>
<rect x="393" y="30.45" width="1" height="10.62" fill="#41ab5a"/>
<rect x="394" y="30.45" width="1" height="10.62" fill="#52b35e"/>
<rect x="395" y="30.45" width="1" height="10.62" fill="#5db861"/>
<rect x="396" y="30.45" width="1" height="10.62" fill="#54b45e"/>
<rect x="397" y="30.45" width="1" height="10.62" fill="#5bb860"/>
<rect x="398" y="30.45" width="1" height="10.62" fill="#47ae5b"/>
<rect x="399" y="30.45" width="1" height="10.62" fill="#4cb05c"/>
<rect x="400" y="30.45" width="1" height="10.62" fill="#76c465"/>
<rect x="401" y="30.45" width="1" height="10.62" fill="#73c364"/>
<rect x="402" y="30.45" width="1" height="10.62" fill="#8fcf67"/>
<rect x="403" y="30.45" width="1" height="10.62" fill="#69be62"/>
<rect x="404" y="30.45" width="1" height="10.62" fill="#98d26d"/>
<rect x="405" y="30.45" width="1" height="10.62" fill="#8bcd68"/>
<rect x="406" y="30.45" width="1" height="10.62" fill="#6abf63"/>
<rect x="407" y="30.45" width="1" height="10.62" fill="#b3de74"/>
<rect x="408" y="30.45" width="1" height="10.62" fill="#3aa055"/>
<rect x="409" y="30.45" width="1" height="10.62" fill="#238e4a"/>
<rect x="410" y="30.45" width="1" height="10.62" fill="#6fc164"/>
<rect x="411" y="30.45" width="1" height="10.62" fill="#abdc74"/>
<rect x="412" y="30.45" width="1" height="10.62" fill="#74c366"/>
<rect x="413" y="30.45" width="1" height="10.62" fill="#9cd569"/>
<rect x="414" y="30.45" width="1" height="10.62" fill="#93d16a"/>
<rect x="415" y="30.45" width="1" height="10.62" fill="#90cf6b"/>
<rect x="416" y="30.45" width="1" height="10.62" fill="#88cc67"/>
<rect x="417" y="30.45" width="1" height="10.62" fill="#6bbe63"/>
<rect x="418" y="30.45" width="1" height="10.62" fill="#7ec765"/>
<rect x="419" y="30.45" width="1" height="10.62" fill="#71c264"/>
<rect x="420" y="30.45" width="1" height="10.62" fill="#79c665"/>
<rect x="421" y="30.45" width="1" height="10.62" fill="#82c966"/>
<rect x="422" y="30.45" width="1" height="10.62" fill="#94d169"/>
<rect x="423" y="30.45" width="1" height="10.62" fill="#93d068"/>
<rect x="424" y="30.45" width="1" height="10.62" fill="#29a053"/>
<rect x="425" y="30.45" width="1" height="10.62" fill="#58b55e"/>
<rect x="426" y="30.45" width="1" height="10.62" fill="#80c866"/>
<rect x="427" y="30.45" width="2" height="10.62" fill="#b2de72"/>
<rect x="429" y="30.45" width="1" height="10.62" fill="#b3de73"/>
<rect x="430" y="30.45" width="1" height="10.62" fill="#dcf093"/>
<rect x="431" y="30.45" width="1" height="10.62" fill="#acdb73"/>
<rect x="432" y="30.45" width="1" height="10.62" fill="#92d06a"/>
<rect x="433" y="30.45" width="1" height="10.62" fill="#c0e380"/>
<rect x="434" y="30.45" width="1" height="10.62" fill="#ebf4b0"/>
<rect x="435" y="30.45" width="1" height="10.62" fill="#35a557"/>
<rect x="436" y="30.45" width="1" height="10.62" fill="#5ab660"/>
<rect x="437" y="30.45" width="1" height="10.62" fill="#2fa255"/>
<rect x="438" y="30.45" width="1" height="10.62" fill="#37a657"/>
<rect x="439" y="30.45" width="1" height="10.62" fill="#5ab75f"/>
<rect x="440" y="30.45" width="1" height="10.62" fill="#72c263"/>
<rect x="441" y="30.45" width="1" height="10.62" fill="#73c263"/>
<rect x="442" y="30.45" width="1" height="10.62" fill="#82c966"/>
<rect x="443" y="30.45" width="1" height="10.62" fill="#6bc064"/>
<rect x="444" y="30.45" width="1" height="10.62" fill="#99d469"/>
<rect x="445" y="30.45" width="1" height="10.62" fill="#59b65f"/>
<rect x="446" y="30.45" width="1" height="10.62" fill="#89cd66"/>
<rect x="447" y="30.45" width="1" height="10.62" fill="#93d06b"/>
<rect x="448" y="30.45" width="1" height="10.62" fill="#a8da6c"/>
<rect x="449" y="30.45" width="1" height="10.62" fill="#bae28a"/>
<rect x="450" y="30.45" width="1" height="10.62" fill="#f8fcb5"/>
<rect x="451" y="30.45" width="1" height="10.62" fill="#dcf092"/>
<rect x="452" y="30.45" width="1" height="10.62" fill="#def196"/>
<rect x="453" y="30.45" width="1" height="10.62" fill="#c4e682"/>
<rect x="454" y="30.45" width="1" height="10.62" fill="#65bb63"/>
<rect x="455" y="30.45" width="1" height="10.62" fill="#719853"/>
<rect x="456" y="30.45" width="1" height="10.62" fill="#e0c875"/>
<rect x="457" y="30.45" width="1" height="10.62" fill="#6cbf63"/>
<rect x="458" y="30.45" width="1" height="10.62" fill="#65bb61"/>
<rect x="459" y="30.45" width="1" height="10.62" fill="#66bd61"/>
<rect x="460" y="30.45" width="1" height="10.62" fill="#148c49"/>
<rect x="461" y="30.45" width="1" height="10.62" fill="#108546"/>
<rect x="462" y="30.45" width="1" height="10.62" fill="#76c262"/>
<rect x="463" y="30.45" width="1" height="10.62" fill="#98d369"/>
<rect x="464" y="30.45" width="1" height="10.62" fill="#9ed56d"/>
<rect x="465" y="30.45" width="1" height="10.62" fill="#9dd570"/>
<rect x="466" y="30.45" width="1" height="10.62" fill="#57b55e"/>
<rect x="467" y="30.45" width="1" height="10.62" fill="#54b45f"/>
<rect x="468" y="30.45" width="1" height="10.62" fill="#5bb75e"/>
<rect x="469" y="30.45" width="1" height="10.62" fill="#acdc6d"/>
<rect x="470" y="30.45" width="1" height="10.62" fill="#dbf08d"/>
<rect x="471" y="30.45" width="1" height="10.62" fill="#d7ee8e"/>
<rect x="472" y="30.45" width="1" height="10.62" fill="#c8e880"/>
<rect x="473" y="30.45" width="1" height="10.62" fill="#cce983"/>
<rect x="474" y="30.45" width="1" height="10.62" fill="#e8f5a1"/>
<rect x="475" y="30.45" width="1" height="10.62" fill="#c8e881"/>
<rect x="476" y="30.45" width="1" height="10.62" fill="#d0eb85"/>
<rect x="477" y="30.45" width="1" height="10.62" fill="#99d36c"/>
<rect x="478" y="30.45" width="1" height="10.62" fill="#c9c971"/>
<rect x="479" y="30.45" width="1" height="10.62" fill="#fed07e"/>
<rect x="480" y="30.45" width="1" height="10.62" fill="#cee27e"/>
<rect x="481" y="30.45" width="1" height="10.62" fill="#d4ed88"/>
<rect x="482" y="30.45" width="1" height="10.62" fill="#ebf7a4"/>
<rect x="483" y="30.45" width="1" height="10.62" fill="#ceea84"/>
<rect x="484" y="30.45" width="1" height="10.62" fill="#d3ec8d"/>
<rect x="485" y="30.45" width="1" height="10.62" fill="#a2d684"/>
<rect x="486" y="30.45" width="1" height="10.62" fill="#75c363"/>
<rect x="487" y="30.45" width="1" height="10.62" fill="#38a657"/>
<rect x="488" y="30.45" width="1" height="10.62" fill="#aada6c"/>
<rect x="489" y="30.45" width="1" height="10.62" fill="#addc73"/>
<rect x="490" y="30.45" width="1" height="10.62" fill="#8bcd67"/>
<rect x="491" y="30.45" width="1" height="10.62" fill="#a5d96d"/>
<rect x="492" y="30.45" width="1" height="10.62" fill="#bbe278"/>
<rect x="493" y="30.45" width="1" height="10.62" fill="#eadc81"/>
<rect x="494" y="30.45" width="1" height="10.62" fill="#fec876"/>
<rect x="495" y="30.45" width="1" height="10.62" fill="#d7e387"/>
<rect x="496" y="30.45" width="1" height="10.62" fill="#e7f5a4"/>
<rect x="497" y="30.45" width="1" height="10.62" fill="#aedc77"/>
<rect x="498" y="30.45" width="1" height="10.62" fill="#a0d66d"/>
<rect x="499" y="30.45" width="1" height="10.62" fill="#86cb68"/>
<rect x="500" y="30.45" width="1" height="10.62" fill="#9fd66b"/>
<rect x="501" y="30.45" width="1" height="10.62" fill="#98d36c"/>
<rect x="502" y="30.45" width="1" height="10.62" fill="#c7e77f"/>
<rect x="503" y="30.45" width="1" height="10.62" fill="#fca75f"/>
<rect x="504" y="30.45" width="1" height="10.62" fill="#f89656"/>
<rect x="505" y="30.45" width="1" height="10.62" fill="#e75237"/>
<rect x="506" y="30.45" width="1" height="10.62" fill="#fafdb7"/>
<rect x="507" y="30.45" width="1" height="10.62" fill="#ddf090"/>
<rect x="508" y="30.45" width="1" height="10.62" fill="#e3f499"/>
<rect x="509" y="30.45" width="1" height="10.62" fill="#e7f59e" fill-opacity="0.50"/>
<rect x="52" y="42.47" width="1" height="10.62" fill="#3ba858"/>
<rect x="53" y="42.47" width="1" height="10.62" fill="#18934d"/>
<rect x="54" y="42.47" width="1" height="10.62" fill="#2da154"/>
<rect x="55" y="42.47" width="1" height="10.62" fill="#61ba61"/>
<rect x="56" y="42.47" width="1" height="10.62" fill="#5eb961"/>
<rect x="57" y="42.47" width="1" height="10.62" fill="#4ab05c"/>
<rect x="58" y="42.47" width="1" height="10.62" fill="#34a557"/>
<rect x="59" y="42.47" width="1" height="10.62" fill="#31a456"/>
<rect x="60" y="42.47" width="1" height="10.62" fill="#b4df82"/>
<rect x="61" y="42.47" width="1" height="10.62" fill="#d5ed8b"/>
<rect x="62" y="42.47" width="1" height="10.62" fill="#6cc063"/>
<rect x="63" y="42.47" width="1" height="10.62" fill="#8dce69"/>
<rect x="64" y="42.47" width="1" height="10.62" fill="#6abe63"/>
<rect x="65" y="42.47" width="1" height="10.62" fill="#d4ed88"/>
<rect x="66" y="42.47" width="1" height="10.62" fill="#138b4a"/>
<rect x="67" y="42.47" width="1" height="10.62" fill="#0c7e43"/>
<rect x="68" y="42.47" width="1" height="10.62" fill="#24954e"/>
<rect x="69" y="42.47" width="1" height="10.62" fill="#279950"/>
<rect x="70" y="42.47" width="1" height="10.62" fill="#1d974f"/>
<rect x="71" y="42.47" width="1" height="10.62" fill="#82c966"/>
<rect x="72" y="42.47" width="1" height="10.62" fill="#89cc68"/>
<rect x="73" y="42.47" width="1" height="10.62" fill="#94d169"/>
<rect x="74" y="42.47" width="1" height="10.62" fill="#85ca68"/>
<rect x="75" y="42.47" width="1" height="10.62" fill="#53b45e"/>
<rect x="76" y="42.47" width="1" height="10.62" fill="#73c263"/>
<rect x="77" y="42.47" width="1" height="10.62" fill="#91d068"/>
<rect x="78" y="42.47" width="1" height="10.62" fill="#64bc62"/>
<rect x="79" y="42.47" width="1" height="10.62" fill="#75c465"/>
<rect x="80" y="42.47" width="1" height="10.62" fill="#48ae5b"/>
<rect x="81" y="42.47" width="1" height="10.62" fill="#2b944e"/>
<rect x="82" y="42.47" width="1" height="10.62" fill="#108646"/>
<rect x="83" y="42.47" width="1" height="10.62" fill="#4db15d"/>
<rect x="84" y="42.47" width="1" height="10.62" fill="#62bb62"/>
<rect x="85" y="42.47" width="1" height="10.62" fill="#aadb6c"/>
<rect x="86" y="42.47" width="1" height="10.62" fill="#67b460"/>
<rect x="87" y="42.47" width="1" height="10.62" fill="#128848"/>
<rect x="88" y="42.47" width="1" height="10.62" fill="#1f9b51"/>
<rect x="89" y="42.47" width="1" height="10.62" fill="#1c9750"/>
<rect x="90" y="42.47" width="1" height="10.62" fill="#31a255"/>
<rect x="91" y="42.47" width="1" height="10.62" fill="#118747"/>
<rect x="92" y="42.47" width="1" height="10.62" fill="#148c4a"/>
<rect x="93" y="42.47" width="1" height="10.62" fill="#0e8245"/>
<rect x="94" y="42.47" width="1" height="10.62" fill="#5cb65d"/>
<rect x="95" y="42.47" width="1" height="10.62" fill="#87cc66"/>
<rect x="96" y="42.47" width="1" height="10.62" fill="#62ba60"/>
<rect x="97" y="42.47" width="1" height="10.62" fill="#7cc665"/>
<rect x="98" y="42.47" width="1" height="10.62" fill="#66bd62"/>
<rect x="99" y="42.47" width="1" height="10.62" fill="#82c966"/>
<rect x="100" y="42.47" width="1" height="10.62" fill="#79c565"/>
<rect x="101" y="42.47" width="1" height="10.62" fill="#61b960"/>
<rect x="102" y="42.47" width="1" height="10.62" fill="#79c564"/>
<rect x="103" y="42.47" width="1" height="10.62" fill="#137c42"/>
<rect x="104" y="42.47" width="1" height="10.62" fill="#0f8446"/>
<rect x="105" y="42.47" width="1" height="10.62" fill="#47ac5a"/>
<rect x="106" y="42.47" width="1" height="10.62" fill="#6dc063"/>
<rect x="107" y="42.47" width="1" height="10.62" fill="#61bb61"/>
<rect x="108" y="42.47" width="1" height="10.62" fill="#8bce68"/>
<rect x="109" y="42.47" width="1" height="10.62" fill="#c5e67e"/>
<rect x="110" y="42.47" width="1" height="10.62" fill="#82c765"/>
<rect x="111" y="42.47" width="1" height="10.62" fill="#219b51"/>
<rect x="112" y="42.47" width="1" height="10.62" fill="#0f8345"/>
<rect x="113" y="42.47" width="1" height="10.62" fill="#148646"/>
<rect x="114" y="42.47" width="1" height="10.62" fill="#148948"/>
<rect x="115" y="42.47" width="1" height="10.62" fill="#0e8144"/>
<rect x="116" y="42.47" width="1" height="10.62" fill="#279d53"/>
<rect x="117" y="42.47" width="1" height="10.62" fill="#1f9951"/>
<rect x="118" y="42.47" width="1" height="10.62" fill="#2ea054"/>
<rect x="119" y="42.47" width="1" height="10.62" fill="#3aa557"/>
<rect x="120" y="42.47" width="2" height="10.62" fill="#51b35e"/>
<rect x="122" y="42.47" width="1" height="10.62" fill="#38a657"/>
<rect x="123" y="42.47" width="1" height="10.62" fill="#51b35d"/>
<rect x="124" y="42.47" width="1" height="10.62" fill="#63bb61"/>
<rect x="125" y="42.47" width="1" height="10.62" fill="#269850"/>
<rect x="126" y="42.47" width="1" height="10.62" fill="#1b8747"/>
<rect x="127" y="42.47" width="1" height="10.62" fill="#2e9a51"/>
<rect x="128" y="42.47" width="1" height="10.62" fill="#209b51"/>
<rect x="129" y="42.47" width="1" height="10.62" fill="#18944e"/>
<rect x="130" y="42.47" width="1" height="10.62" fill="#0d7e43"/>
<rect x="131" y="42.47" width="1" height="10.62" fill="#158b49"/>
<rect x="132" y="42.47" width="1" height="10.62" fill="#108345"/>
<rect x="133" y="42.47" width="1" height="10.62" fill="#0f8446"/>
<rect x="134" y="42.47" width="1" height="10.62" fill="#66ba60"/>
<rect x="135" y="42.47" width="1" height="10.62" fill="#35a556"/>
<rect x="136" y="42.47" width="1" height="10.62" fill="#3faa59"/>
<rect x="137" y="42.47" width="1" height="10.62" fill="#1a964f"/>
<rect x="138" y="42.47" width="1" height="10.62" fill="#1c964f"/>
<rect x="139" y="42.47" width="1" height="10.62" fill="#5eb961"/>
<rect x="140" y="42.47" width="1" height="10.62" fill="#66bd63"/>
<rect x="141" y="42.47" width="1" height="10.62" fill="#2a924c"/>
<rect x="142" y="42.47" width="1" height="10.62" fill="#0b7d42"/>
<rect x="143" y="42.47" width="1" height="10.62" fill="#198a48"/>
<rect x="144" y="42.47" width="1" height="10.62" fill="#259850"/>
<rect x="145" y="42.47" width="1" height="10.62" fill="#16904c"/>
<rect x="146" y="42.47" width="1" height="10.62" fill="#18934e"/>
<rect x="147" y="42.47" width="1" height="10.62" fill="#0d7f43"/>
<rect x="148" y="42.47" width="1" height="10.62" fill="#57b55f"/>
<rect x="149" y="42.47" width="1" height="10.62" fill="#2da155"/>
<rect x="150" y="42.47" width="1" height="10.62" fill="#148d4b"/>
<rect x="151" y="42.47" width="1" height="10.62" fill="#20944e"/>
<rect x="152" y="42.47" width="1" height="10.62" fill="#0d7a40"/>
<rect x="153" y="42.47" width="1" height="10.62" fill="#279950"/>
<rect x="154" y="42.47" width="1" height="10.62" fill="#48ae5b"/>
<rect x="155" y="42.47" width="1" height="10.62" fill="#42ac5a"/>
<rect x="156" y="42.47" width="1" height="10.62" fill="#41ab59"/>
<rect x="157" y="42.47" width="1" height="10.62" fill="#6cc063"/>
<rect x="158" y="42.47" width="1" height="10.62" fill="#42ab5a"/>
<rect x="159" y="42.47" width="1" height="10.62" fill="#30a356"/>
<rect x="160" y="42.47" width="1" height="10.62" fill="#30a254"/>
<rect x="161" y="42.47" width="1" height="10.62" fill="#93d168"/>
<rect x="162" y="42.47" width="1" height="10.62" fill="#8cce6a"/>
<rect x="163" y="42.47" width="1" height="10.62" fill="#abdb6d"/>
<rect x="164" y="42.47" width="1" height="10.62" fill="#71c164"/>
<rect x="165" y="42.47" width="1" height="10.62" fill="#4eb15c"/>
<rect x="166" y="42.47" width="1" height="10.62" fill="#6fc163"/>
<rect x="167" y="42.47" width="1" height="10.62" fill="#17934d"/>
<rect x="168" y="42.47" width="1" height="10.62" fill="#168f4c"/>
<rect x="169" y="42.47" width="1" height="10.62" fill="#31a154"/>
<rect x="170" y="42.47" width="1" height="10.62" fill="#3da959"/>
<rect x="171" y="42.47" width="1" height="10.62" fill="#1e9851"/>
<rect x="172" y="42.47" width="1" height="10.62" fill="#19954f"/>
<rect x="173" y="42.47" width="1" height="10.62" fill="#41a959"/>
<rect x="174" y="42.47" width="1" height="10.62" fill="#188b49"/>
<rect x="175" y="42.47" width="1" height="10.62" fill="#8cce67"/>
<rect x="176" y="42.47" width="1" height="10.62" fill="#51b25c"/>
<rect x="177" y="42.47" width="1" height="10.62" fill="#5bb860"/>
<rect x="178" y="42.47" width="1" height="10.62" fill="#6fc164"/>
<rect x="179" y="42.47" width="1" height="10.62" fill="#44ac5a"/>
<rect x="180" y="42.47" width="1" height="10.62" fill="#4cb15d"/>
<rect x="181" y="42.47" width="1" height="10.62" fill="#35a557"/>
<rect x="182" y="42.47" width="1" height="10.62" fill="#62ba61"/>
<rect x="183" y="42.47" width="1" height="10.62" fill="#93d168"/>
<rect x="184" y="42.47" width="1" height="10.62" fill="#94d168"/>
<rect x="185" y="42.47" width="1" height="10.62" fill="#7ac665"/>
<rect x="186" y="42.47" width="1" height="10.62" fill="#6fc164"/>
<rect x="187" y="42.47" width="1" height="10.62" fill="#69be62"/>
<rect x="188" y="42.47" width="1" height="10.62" fill="#26924c"/>
<rect x="189" y="42.47" width="1" height="10.62" fill="#22914c"/>
<rect x="190" y="42.47" width="1" height="10.62" fill="#0f7a40"/>
<rect x="191" y="42.47" width="1" height="10.62" fill="#128848"/>
<rect x="192" y="42.47" width="1" height="10.62" fill="#18944e"/>
<rect x="193" y="42.47" width="1" height="10.62" fill="#188e4b"/>
<rect x="194" y="42.47" width="1" height="10.62" fill="#16914c"/>
<rect x="195" y="42.47" width="1" height="10.62" fill="#2d9d53"/>
<rect x="196" y="42.47" width="1" height="10.62" fill="#239c52"/>
<rect x="197" y="42.47" width="1" height="10.62" fill="#05713b"/>
<rect x="198" y="42.47" width="1" height="10.62" fill="#addc6f"/>
<rect x="199" y="42.47" width="1" height="10.62" fill="#b9e276"/>
<rect x="200" y="42.47" width="1" height="10.62" fill="#82c96b"/>
<rect x="201" y="42.47" width="1" height="10.62" fill="#85cb66"/>
<rect x="202" y="42.47" width="1" height="10.62" fill="#75c365"/>
<rect x="203" y="42.47" width="1" height="10.62" fill="#2fa255"/>
<rect x="204" y="42.47" width="1" height="10.62" fill="#41ab5a"/>
<rect x="205" y="42.47" width="1" height="10.62" fill="#3fa959"/>
<rect x="206" y="42.47" width="1" height="10.62" fill="#7bc665"/>
<rect x="207" y="42.47" width="1" height="10.62" fill="#71c264"/>
<rect x="208" y="42.47" width="1" height="10.62" fill="#79c565"/>
<rect x="209" y="42.47" width="1" height="10.62" fill="#7dc765"/>
<rect x="210" y="42.47" width="1" height="10.62" fill="#1c944e"/>
<rect x="211" y="42.47" width="1" height="10.62" fill="#52b35e"/>
<rect x="212" y="42.47" width="1" height="10.62" fill="#3ba859"/>
<rect x="213" y="42.47" width="1" height="10.62" fill="#85ca68"/>
<rect x="214" y="42.47" width="1" height="10.62" fill="#93d167"/>
<rect x="215" y="42.47" width="1" height="10.62" fill="#55b55e"/>
<rect x="216" y="42.47" width="1" height="10.62" fill="#2ea255"/>
<rect x="217" y="42.47" width="1" height="10.62" fill="#48ae5b"/>
<rect x="218" y="42.47" width="1" height="10.62" fill="#299c52"/>
<rect x="219" y="42.47" width="1" height="10.62" fill="#1f924d"/>
<rect x="220" y="42.47" width="1" height="10.62" fill="#30a355"/>
<rect x="221" y="42.47" width="1" height="10.62" fill="#259d53"/>
<rect x="222" y="42.47" width="1" height="10.62" fill="#42ac5a"/>
<rect x="223" y="42.47" width="1" height="10.62" fill="#4fb25e"/>
<rect x="224" y="42.47" width="1" height="10.62" fill="#48af5c"/>
<rect x="225" y="42.47" width="1" height="10.62" fill="#56b55e"/>
<rect x="226" y="42.47" width="1" height="10.62" fill="#6ec164"/>
<rect x="227" y="42.47" width="1" height="10.62" fill="#93d16b"/>
<rect x="228" y="42.47" width="1" height="10.62" fill="#77c465"/>
<rect x="229" y="42.47" width="1" height="10.62" fill="#52b35e"/>
<rect x="230" y="42.47" width="1" height="10.62" fill="#66bd63"/>
<rect x="231" y="42.47" width="1" height="10.62" fill="#87cc6d"/>
<rect x="232" y="42.47" width="1" height="10.62" fill="#d5ed8a"/>
<rect x="233" y="42.47" width="1" height="10.62" fill="#6ebf67"/>
<rect x="234" y="42.47" width="1" height="10.62" fill="#229c52"/>
<rect x="235" y="42.47" width="1" height="10.62" fill="#37a657"/>
<rect x="236" y="42.47" width="1" height="10.62" fill="#128847"/>
<rect x="237" y="42.47" width="1" height="10.62" fill="#50b25c"/>
<rect x="238" y="42.47" width="1" height="10.62" fill="#35a155"/>
<rect x="239" y="42.47" width="1" height="10.62" fill="#4aab59"/>
<rect x="240" y="42.47" width="1" height="10.62" fill="#4baf5c"/>
<rect x="241" y="42.47" width="1" height="10.62" fill="#63b663"/>
<rect x="242" y="42.47" width="1" height="10.62" fill="#9dd56f"/>
<rect x="243" y="42.47" width="1" height="10.62" fill="#69be63"/>
<rect x="244" y="42.47" width="1" height="10.62" fill="#5eb65f"/>
<rect x="245" y="42.47" width="1" height="10.62" fill="#06733d"/>
<rect x="246" y="42.47" width="1" height="10.62" fill="#0e8144"/>
<rect x="247" y="42.47" width="1" height="10.62" fill="#0c7e43"/>
<rect x="248" y="42.47" width="1" height="10.62" fill="#32a054"/>
<rect x="249" y="42.47" width="1" height="10.62" fill="#30a255"/>
<rect x="250" y="42.47" width="1" height="10.62" fill="#73c265"/>
<rect x="251" y="42.47" width="1" height="10.62" fill="#43aa59"/>
<rect x="252" y="42.47" width="1" height="10.62" fill="#289e53"/>
<rect x="253" y="42.47" width="1" height="10.62" fill="#118244"/>
<rect x="254" y="42.47" width="1" height="10.62" fill="#16904c"/>
<rect x="255" y="42.47" width="1" height="10.62" fill="#097840"/>
<rect x="256" y="42.47" width="1" height="10.62" fill="#1f9850"/>
<rect x="257" y="42.47" width="1" height="10.62" fill="#46ad5b"/>
<rect x="258" y="42.47" width="1" height="10.62" fill="#51b35d"/>
<rect x="259" y="42.47" width="1" height="10.62" fill="#309c51"/>
<rect x="260" y="42.47" width="1" height="10.62" fill="#18954e"/>
<rect x="261" y="42.47" width="1" height="10.62" fill="#33a456"/>
<rect x="262" y="42.47" width="1" height="10.62" fill="#289a51"/>
<rect x="263" y="42.47" width="1" height="10.62" fill="#0d8043"/>
<rect x="264" y="42.47" width="1" height="10.62" fill="#43a455"/>
<rect x="265" y="42.47" width="1" height="10.62" fill="#9dd56d"/>
<rect x="266" y="42.47" width="1" height="10.62" fill="#7dc767"/>
<rect x="267" y="42.47" width="1" height="10.62" fill="#37a657"/>
<rect x="268" y="42.47" width="1" height="10.62" fill="#33a255"/>
<rect x="269" y="42.47" width="1" height="10.62" fill="#1e954e"/>
<rect x="270" y="42.47" width="1" height="10.62" fill="#49ab59"/>
<rect x="271" y="42.47" width="1" height="10.62" fill="#1c974f"/>
<rect x="272" y="42.47" width="1" height="10.62" fill="#19944e"/>
<rect x="273" y="42.47" width="1" height="10.62" fill="#4db05c"/>
<rect x="274" y="42.47" width="1" height="10.62" fill="#138a49"/>
<rect x="275" y="42.47" width="1" height="10.62" fill="#2ca154"/>
<rect x="276" y="42.47" width="1" height="10.62" fill="#20974f"/>
<rect x="277" y="42.47" width="1" height="10.62" fill="#158e4b"/>
<rect x="278" y="42.47" width="1" height="10.62" fill="#57b35d"/>
<rect x="279" y="42.47" width="1" height="10.62" fill="#3ca958"/>
<rect x="280" y="42.47" width="1" height="10.62" fill="#75c364"/>
<rect x="281" y="42.47" width="1" height="10.62" fill="#5eb960"/>
<rect x="282" y="42.47" width="1" height="10.62" fill="#259d53"/>
<rect x="283" y="42.47" width="1" height="10.62" fill="#219c52"/>
<rect x="284" y="42.47" width="1" height="10.62" fill="#3ba959"/>
<rect x="285" y="42.47" width="1" height="10.62" fill="#35a556"/>
<rect x="286" y="42.47" width="1" height="10.62" fill="#4cac59"/>
<rect x="287" y="42.47" width="1" height="10.62" fill="#5bb760"/>
<rect x="288" y="42.47" width="1" height="10.62" fill="#209a51"/>
<rect x="289" y="42.47" width="1" height="10.62" fill="#249950"/>
<rect x="290" y="42.47" width="1" height="10.62" fill="#2b9c52"/>
<rect x="291" y="42.47" width="1" height="10.62" fill="#39a758"/>
<rect x="292" y="42.47" width="1" height="10.62" fill="#269e53"/>
<rect x="293" y="42.47" width="1" height="10.62" fill="#1a914c"/>
<rect x="294" y="42.47" width="1" height="10.62" fill="#2ea054"/>
<rect x="295" y="42.47" width="1" height="10.62" fill="#38a456"/>
<rect x="296" y="42.47" width="1" height="10.62" fill="#54b55f"/>
<rect x="297" y="42.47" width="1" height="10.62" fill="#279d53"/>
<rect x="298" y="42.47" width="1" height="10.62" fill="#0e8144"/>
<rect x="299" y="42.47" width="1" height="10.62" fill="#40a757"/>
<rect x="300" y="42.47" width="1" height="10.62" fill="#3f9f53"/>
<rect x="301" y="42.47" width="1" height="10.62" fill="#88cc67"/>
<rect x="302" y="42.47" width="1" height="10.62" fill="#7cc764"/>
<rect x="303" y="42.47" width="1" height="10.62" fill="#4db15d"/>
<rect x="304" y="42.47" width="1" height="10.62" fill="#39a757"/>
<rect x="305" y="42.47" width="1" height="10.62" fill="#48ae5b"/>
<rect x="306" y="42.47" width="1" height="10.62" fill="#6ec163"/>
<rect x="307" y="42.47" width="1" height="10.62" fill="#6abe63"/>
<rect x="308" y="42.47" width="1" height="10.62" fill="#42a757"/>
<rect x="309" y="42.47" width="1" height="10.62" fill="#25944e"/>
<rect x="310" y="42.47" width="1" height="10.62" fill="#37a355"/>
<rect x="311" y="42.47" width="1" height="10.62" fill="#1c954f"/>
<rect x="312" y="42.47" width="1" height="10.62" fill="#3ba858"/>
<rect x="313" y="42.47" width="1" height="10.62" fill="#41ab5a"/>
<rect x="314" y="42.47" width="1" height="10.62" fill="#5eb961"/>
<rect x="315" y="42.47" width="1" height="10.62" fill="#41ab5a"/>
<rect x="316" y="42.47" width="1" height="10.62" fill="#38a658"/>
<rect x="317" y="42.47" width="1" height="10.62" fill="#269e53"/>
<rect x="318" y="42.47" width="1" height="10.62" fill="#158f4b"/>
<rect x="319" y="42.47" width="1" height="10.62" fill="#158847"/>
<rect x="320" y="42.47" width="1" height="10.62" fill="#71c163"/>
<rect x="321" y="42.47" width="1" height="10.62" fill="#6abe62"/>
<rect x="322" y="42.47" width="1" height="10.62" fill="#39a758"/>
<rect x="323" y="42.47" width="1" height="10.62" fill="#178d4a"/>
<rect x="324" y="42.47" width="1" height="10.62" fill="#38a757"/>
<rect x="325" y="42.47" width="1" height="10.62" fill="#2e9e53"/>
<rect x="326" y="42.47" width="1" height="10.62" fill="#1c914c"/>
<rect x="327" y="42.47" width="1" height="10.62" fill="#4bb05c"/>
<rect x="328" y="42.47" width="1" height="10.62" fill="#6cc063"/>
<rect x="329" y="42.47" width="1" height="10.62" fill="#2ca054"/>
<rect x="330" y="42.47" width="1" height="10.62" fill="#a3d86a"/>
<rect x="331" y="42.47" width="1" height="10.62" fill="#5bb75e"/>
<rect x="332" y="42.47" width="1" height="10.62" fill="#1e9850"/>
<rect x="333" y="42.47" width="1" height="10.62" fill="#16914c"/>
<rect x="334" y="42.47" width="1" height="10.62" fill="#0d7f44"/>
<rect x="335" y="42.47" width="1" height="10.62" fill="#08773f"/>
<rect x="336" y="42.47" width="1" height="10.62" fill="#2f9f54"/>
<rect x="337" y="42.47" width="1" height="10.62" fill="#57b55f"/>
<rect x="338" y="42.47" width="1" height="10.62" fill="#38a757"/>
<rect x="339" y="42.47" width="1" height="10.62" fill="#65bc62"/>
<rect x="340" y="42.47" width="1" height="10.62" fill="#3aa657"/>
<rect x="341" y="42.47" width="1" height="10.62" fill="#25964e"/>
<rect x="342" y="42.47" width="1" height="10.62" fill="#16914c"/>
<rect x="343" y="42.47" width="1" height="10.62" fill="#1b964f"/>
<rect x="344" y="42.47" width="1" height="10.62" fill="#34a557"/>
<rect x="345" y="42.47" width="1" height="10.62" fill="#2c9750"/>
<rect x="346" y="42.47" width="1" height="10.62" fill="#26944e"/>
<rect x="347" y="42.47" width="1" height="10.62" fill="#34a456"/>
<rect x="348" y="42.47" width="1" height="10.62" fill="#72c163"/>
<rect x="349" y="42.47" width="1" height="10.62" fill="#b6b668"/>
<rect x="350" y="42.47" width="18" height="10.62" fill="#af0a26"/>
<rect x="368" y="42.47" width="1" height="10.62" fill="#efca99"/>
<rect x="369" y="42.47" width="1" height="10.62" fill="#dfeca4"/>
<rect x="370" y="42.47" width="1" height="10.62" fill="#4eb15d"/>
<rect x="371" y="42.47" width="1" height="10.62" fill="#40ab5a"/>
<rect x="372" y="42.47" width="1" height="10.62" fill="#4bb05c"/>
<rect x="373" y="42.47" width="1" height="10.62" fill="#4cb05c"/>
<rect x="374" y="42.47" width="1" height="10.62" fill="#31a355"/>
<rect x="375" y="42.47" width="1" height="10.62" fill="#1f924d"/>
<rect x="376" y="42.47" width="1" height="10.62" fill="#4fb25d"/>
<rect x="377" y="42.47" width="1" height="10.62" fill="#49af5c"/>
<rect x="378" y="42.47" width="1" height="10.62" fill="#5cb860"/>
<rect x="379" y="42.47" width="1" height="10.62" fill="#6cc064"/>
<rect x="380" y="42.47" width="1" height="10.62" fill="#5cb861"/>
<rect x="381" y="42.47" width="1" height="10.62" fill="#2d9950"/>
<rect x="382" y="42.47" width="1" height="10.62" fill="#0b7b41"/>
<rect x="383" y="42.47" width="1" height="10.62" fill="#20924d"/>
<rect x="384" y="42.47" width="1" height="10.62" fill="#45ad5b"/>
<rect x="385" y="42.47" width="1" height="10.62" fill="#1e8849"/>
<rect x="386" y="42.47" width="1" height="10.62" fill="#ae3f2c"/>
<rect x="387" y="42.47" width="1" height="10.62" fill="#d3b36b"/>
<rect x="388" y="42.47" width="1" height="10.62" fill="#f7e091"/>
<rect x="389" y="42.47" width="1" height="10.62" fill="#a1d169"/>
<rect x="390" y="42.47" width="1" height="10.62" fill="#77c465"/>
<rect x="391" y="42.47" width="1" height="10.62" fill="#5db861"/>
<rect x="392" y="42.47" width="1" height="10.62" fill="#50b35d"/>
<rect x="393" y="42.47" width="1" height="10.62" fill="#68bd63"/>
<rect x="394" y="42.47" width="1" height="10.62" fill="#47a355"/>
<rect x="395" y="42.47" width="1" height="10.62" fill="#27944e"/>
<rect x="396" y="42.47" width="1" height="10.62" fill="#198646"/>
<rect x="397" y="42.47" width="1" height="10.62" fill="#6cbf61"/>
<rect x="398" y="42.47" width="1" height="10.62" fill="#3ea958"/>
<rect x="399" y="42.47" width="1" height="10.62" fill="#76c464"/>
<rect x="400" y="42.47" width="1" height="10.62" fill="#73c365"/>
<rect x="401" y="42.47" width="1" height="10.62" fill="#7ec764"/>
<rect x="402" y="42.47" width="1" height="10.62" fill="#5bb75e"/>
<rect x="403" y="42.47" width="1" height="10.62" fill="#4bb05b"/>
<rect x="404" y="42.47" width="1" height="10.62" fill="#6bbe61"/>
<rect x="405" y="42.47" width="1" height="10.62" fill="#4db15c"/>
<rect x="406" y="42.47" width="1" height="10.62" fill="#6bbf62"/>
<rect x="407" y="42.47" width="1" height="10.62" fill="#1b934e"/>
<rect x="408" y="42.47" width="1" height="10.62" fill="#108647"/>
<rect x="409" y="42.47" width="1" height="10.62" fill="#1a924d"/>
<rect x="410" y="42.47" width="1" height="10.62" fill="#49af5c"/>
<rect x="411" y="42.47" width="1" height="10.62" fill="#7bc665"/>
<rect x="412" y="42.47" width="1" height="10.62" fill="#4aaf5c"/>
<rect x="413" y="42.47" width="1" height="10.62" fill="#1d9850"/>
<rect x="414" y="42.47" width="1" height="10.62" fill="#269e53"/>
<rect x="415" y="42.47" width="1" height="10.62" fill="#1a9850" fill-opacity="0.80"/>
<rect x="432" y="42.47" width="1" height="10.62" fill="#bfe47a" fill-opacity="0.10"/>
<rect x="433" y="42.47" width="1" height="10.62" fill="#aedd73"/>
<rect x="434" y="42.47" width="1" height="10.62" fill="#9fd66b"/>
<rect x="435" y="42.47" width="1" height="10.62" fill="#82ca66"/>
<rect x="436" y="42.47" width="1" height="10.62" fill="#70c264"/>
<rect x="437" y="42.47" width="1" height="10.62" fill="#66bd63" fill-opacity="0.30"/>
<rect x="52" y="54.50" width="1" height="10.62" fill="#81c966"/>
<rect x="53" y="54.50" width="1" height="10.62" fill="#59b75f"/>
<rect x="54" y="54.50" width="1" height="10.62" fill="#81c966"/>
<rect x="55" y="54.50" width="1" height="10.62" fill="#c9e881"/>
<rect x="56" y="54.50" width="1" height="10.62" fill="#c0e47a"/>
<rect x="57" y="54.50" width="1" height="10.62" fill="#7cc668"/>
<rect x="58" y="54.50" width="1" height="10.62" fill="#289f54"/>
<rect x="59" y="54.50" width="1" height="10.62" fill="#209b52"/>
<rect x="60" y="54.50" width="1" height="10.62" fill="#6cbf64"/>
<rect x="61" y="54.50" width="1" height="10.62" fill="#84ca67"/>
<rect x="62" y="54.50" width="1" height="10.62" fill="#8acd67"/>
<rect x="63" y="54.50" width="1" height="10.62" fill="#b6e07c"/>
<rect x="64" y="54.50" width="1" height="10.62" fill="#bbe278"/>
<rect x="65" y="54.50" width="1" height="10.62" fill="#abdb6d" fill-opacity="0.50"/>
<rect x="67" y="54.50" width="1" height="10.62" fill="#cce982"/>
<rect x="68" y="54.50" width="1" height="10.62" fill="#73be68"/>
<rect x="69" y="54.50" width="1" height="10.62" fill="#0e8244"/>
<rect x="70" y="54.50" width="1" height="10.62" fill="#379e54"/>
<rect x="71" y="54.50" width="1" height="10.62" fill="#229b51"/>
<rect x="72" y="54.50" width="1" height="10.62" fill="#0a7a40"/>
<rect x="73" y="54.50" width="1" height="10.62" fill="#74c365"/>
<rect x="74" y="54.50" width="1" height="10.62" fill="#4eb05c"/>
<rect x="75" y="54.50" width="1" height="10.62" fill="#16904c"/>
<rect x="76" y="54.50" width="1" height="10.62" fill="#a3d86a"/>
<rect x="77" y="54.50" width="1" height="10.62" fill="#60b960"/>
<rect x="78" y="54.50" width="1" height="10.62" fill="#5eb961"/>
<rect x="79" y="54.50" width="1" height="10.62" fill="#71c264"/>
<rect x="80" y="54.50" width="1" height="10.62" fill="#148d4b"/>
<rect x="81" y="54.50" width="1" height="10.62" fill="#0e8245"/>
<rect x="82" y="54.50" width="1" height="10.62" fill="#e2f397"/>
<rect x="83" y="54.50" width="1" height="10.62" fill="#b6e076"/>
<rect x="84" y="54.50" width="1" height="10.62" fill="#0f8144"/>
<rect x="85" y="54.50" width="1" height="10.62" fill="#168c4a"/>
<rect x="86" y="54.50" width="1" height="10.62" fill="#37a658"/>
<rect x="87" y="54.50" width="1" height="10.62" fill="#3da959"/>
<rect x="88" y="54.50" width="1" height="10.62" fill="#53b35e"/>
<rect x="89" y="54.50" width="1" height="10.62" fill="#2c9b51"/>
<rect x="90" y="54.50" width="1" height="10.62" fill="#32a456"/>
<rect x="91" y="54.50" width="1" height="10.62" fill="#30a054"/>
<rect x="92" y="54.50" width="1" height="10.62" fill="#5ab75f"/>
<rect x="93" y="54.50" width="1" height="10.62" fill="#87cc67"/>
<rect x="94" y="54.50" width="1" height="10.62" fill="#a8da6d"/>
<rect x="95" y="54.50" width="1" height="10.62" fill="#5aab58"/>
<rect x="96" y="54.50" width="1" height="10.62" fill="#36a155"/>
<rect x="97" y="54.50" width="1" height="10.62" fill="#42ab5a"/>
<rect x="98" y="54.50" width="1" height="10.62" fill="#8ecd68"/>
<rect x="99" y="54.50" width="1" height="10.62" fill="#90d068"/>
<rect x="100" y="54.50" width="1" height="10.62" fill="#92d068"/>
<rect x="101" y="54.50" width="1" height="10.62" fill="#aedc6f"/>
<rect x="102" y="54.50" width="1" height="10.62" fill="#49ae5c"/>
<rect x="103" y="54.50" width="1" height="10.62" fill="#6cbf63"/>
<rect x="104" y="54.50" width="1" height="10.62" fill="#2b9f54"/>
<rect x="105" y="54.50" width="1" height="10.62" fill="#2a9a50"/>
<rect x="106" y="54.50" width="1" height="10.62" fill="#6db65e"/>
<rect x="107" y="54.50" width="1" height="10.62" fill="#b4df73"/>
<rect x="108" y="54.50" width="1" height="10.62" fill="#aedd6f"/>
<rect x="109" y="54.50" width="1" height="10.62" fill="#d7ee8b"/>
<rect x="110" y="54.50" width="1" height="10.62" fill="#bde379"/>
<rect x="111" y="54.50" width="1" height="10.62" fill="#a5d874"/>
<rect x="112" y="54.50" width="1" height="10.62" fill="#3faa59"/>
<rect x="113" y="54.50" width="1" height="10.62" fill="#6dbf62"/>
<rect x="114" y="54.50" width="1" height="10.62" fill="#50b25c"/>
<rect x="115" y="54.50" width="1" height="10.62" fill="#93d067"/>
<rect x="116" y="54.50" width="1" height="10.62" fill="#a1d76a"/>
<rect x="117" y="54.50" width="1" height="10.62" fill="#81c965"/>
<rect x="118" y="54.50" width="1" height="10.62" fill="#a0d677"/>
<rect x="119" y="54.50" width="1" height="10.62" fill="#d9ef8c"/>
<rect x="120" y="54.50" width="1" height="10.62" fill="#2ea255"/>
<rect x="121" y="54.50" width="1" height="10.62" fill="#62ba60"/>
<rect x="122" y="54.50" width="1" height="10.62" fill="#66bb5f"/>
<rect x="123" y="54.50" width="1" height="10.62" fill="#0e8244"/>
<rect x="124" y="54.50" width="1" height="10.62" fill="#20904b"/>
<rect x="125" y="54.50" width="1" height="10.62" fill="#94d169"/>
<rect x="126" y="54.50" width="1" height="10.62" fill="#94d168"/>
<rect x="127" y="54.50" width="1" height="10.62" fill="#b6e074"/>
<rect x="128" y="54.50" width="1" height="10.62" fill="#bde379"/>
<rect x="129" y="54.50" width="1" height="10.62" fill="#52a85b"/>
<rect x="130" y="54.50" width="1" height="10.62" fill="#45ad5b"/>
<rect x="131" y="54.50" width="1" height="10.62" fill="#44ad5b"/>
<rect x="132" y="54.50" width="1" height="10.62" fill="#77c565"/>
<rect x="133" y="54.50" width="1" height="10.62" fill="#42ab59"/>
<rect x="134" y="54.50" width="1" height="10.62" fill="#7fc767"/>
<rect x="135" y="54.50" width="1" height="10.62" fill="#74c364"/>
<rect x="136" y="54.50" width="1" height="10.62" fill="#67bb60"/>
<rect x="137" y="54.50" width="1" height="10.62" fill="#168747"/>
<rect x="138" y="54.50" width="1" height="10.62" fill="#1a8c4a"/>
<rect x="139" y="54.50" width="1" height="10.62" fill="#cbe68e"/>
<rect x="140" y="54.50" width="1" height="10.62" fill="#c6e781"/>
<rect x="141" y="54.50" width="1" height="10.62" fill="#8dcd6e"/>
<rect x="142" y="54.50" width="1" height="10.62" fill="#b6df75"/>
<rect x="143" y="54.50" width="1" height="10.62" fill="#a9da72"/>
<rect x="144" y="54.50" width="1" height="10.62" fill="#7dc766"/>
<rect x="145" y="54.50" width="1" height="10.62" fill="#6abe62"/>
<rect x="146" y="54.50" width="1" height="10.62" fill="#36a657"/>
<rect x="147" y="54.50" width="1" height="10.62" fill="#64bc62"/>
<rect x="148" y="54.50" width="1" height="10.62" fill="#77c564"/>
<rect x="149" y="54.50" width="1" height="10.62" fill="#82c966"/>
<rect x="150" y="54.50" width="1" height="10.62" fill="#92d16a"/>
<rect x="151" y="54.50" width="1" height="10.62" fill="#9bd470"/>
<rect x="152" y="54.50" width="1" height="10.62" fill="#b9e176"/>
<rect x="153" y="54.50" width="1" height="10.62" fill="#52b25d"/>
<rect x="154" y="54.50" width="1" height="10.62" fill="#4db15d"/>
<rect x="155" y="54.50" width="1" height="10.62" fill="#4db15c"/>
<rect x="156" y="54.50" width="1" height="10.62" fill="#7cc765"/>
<rect x="157" y="54.50" width="1" height="10.62" fill="#57b55e"/>
<rect x="158" y="54.50" width="1" height="10.62" fill="#259d53"/>
<rect x="159" y="54.50" width="1" height="10.62" fill="#229b52"/>
<rect x="160" y="54.50" width="1" height="10.62" fill="#168f4c"/>
<rect x="161" y="54.50" width="1" height="10.62" fill="#279e53"/>
<rect x="162" y="54.50" width="1" height="10.62" fill="#88cb6b"/>
<rect x="163" y="54.50" width="1" height="10.62" fill="#b8e176"/>
<rect x="164" y="54.50" width="1" height="10.62" fill="#90cf69"/>
<rect x="165" y="54.50" width="1" height="10.62" fill="#80c866"/>
<rect x="166" y="54.50" width="1" height="10.62" fill="#4bb05c"/>
<rect x="167" y="54.50" width="1" height="10.62" fill="#3ba858"/>
<rect x="168" y="54.50" width="1" height="10.62" fill="#89cc6a"/>
<rect x="169" y="54.50" width="1" height="10.62" fill="#b2de71"/>
<rect x="170" y="54.50" width="1" height="10.62" fill="#9cd56a"/>
<rect x="171" y="54.50" width="1" height="10.62" fill="#90cf68"/>
<rect x="172" y="54.50" width="1" height="10.62" fill="#30a356"/>
<rect x="173" y="54.50" width="1" height="10.62" fill="#67be62"/>
<rect x="174" y="54.50" width="1" height="10.62" fill="#51b35e"/>
<rect x="175" y="54.50" width="1" height="10.62" fill="#b0dd75"/>
<rect x="176" y="54.50" width="1" height="10.62" fill="#a4d872"/>
<rect x="177" y="54.50" width="1" height="10.62" fill="#83ca66"/>
<rect x="178" y="54.50" width="1" height="10.62" fill="#d6ed9d"/>
<rect x="179" y="54.50" width="1" height="10.62" fill="#d2ec88"/>
<rect x="180" y="54.50" width="1" height="10.62" fill="#6bbf63"/>
<rect x="181" y="54.50" width="1" height="10.62" fill="#83ca66"/>
<rect x="182" y="54.50" width="1" height="10.62" fill="#86cb69"/>
<rect x="183" y="54.50" width="1" height="10.62" fill="#94d16b"/>
<rect x="184" y="54.50" width="1" height="10.62" fill="#a8da70"/>
<rect x="185" y="54.50" width="1" height="10.62" fill="#c1e57c"/>
<rect x="186" y="54.50" width="1" height="10.62" fill="#aedc70"/>
<rect x="187" y="54.50" width="1" height="10.62" fill="#c5e67e"/>
<rect x="188" y="54.50" width="1" height="10.62" fill="#d4ed87"/>
<rect x="189" y="54.50" width="1" height="10.62" fill="#87cc6d"/>
<rect x="190" y="54.50" width="1" height="10.62" fill="#7fc866"/>
<rect x="191" y="54.50" width="1" height="10.62" fill="#96d268"/>
<rect x="192" y="54.50" width="1" height="10.62" fill="#7ec865"/>
<rect x="193" y="54.50" width="1" height="10.62" fill="#a1d76c"/>
<rect x="194" y="54.50" width="1" height="10.62" fill="#addc71"/>
<rect x="195" y="54.50" width="1" height="10.62" fill="#afdd73"/>
<rect x="196" y="54.50" width="1" height="10.62" fill="#d3ed87"/>
<rect x="197" y="54.50" width="1" height="10.62" fill="#e0f296"/>
<rect x="198" y="54.50" width="1" height="10.62" fill="#6ec064"/>
<rect x="199" y="54.50" width="1" height="10.62" fill="#40aa59"/>
<rect x="200" y="54.50" width="1" height="10.62" fill="#63bb62"/>
<rect x="201" y="54.50" width="1" height="10.62" fill="#8acd67"/>
<rect x="202" y="54.50" width="1" height="10.62" fill="#9ad469"/>
<rect x="203" y="54.50" width="1" height="10.62" fill="#a6d96b"/>
<rect x="204" y="54.50" width="1" height="10.62" fill="#aada7c"/>
<rect x="205" y="54.50" width="1" height="10.62" fill="#acdc6e"/>
<rect x="206" y="54.50" width="1" height="10.62" fill="#93d06c"/>
<rect x="207" y="54.50" width="1" height="10.62" fill="#6cbf61"/>
<rect x="208" y="54.50" width="1" height="10.62" fill="#80c866"/>
<rect x="209" y="54.50" width="1" height="10.62" fill="#48af5b"/>
<rect x="210" y="54.50" width="1" height="10.62" fill="#abdb6e"/>
<rect x="211" y="54.50" width="1" height="10.62" fill="#afdc73"/>
<rect x="212" y="54.50" width="1" height="10.62" fill="#90cf69"/>
<rect x="213" y="54.50" width="1" height="10.62" fill="#cae981"/>
<rect x="214" y="54.50" width="1" height="10.62" fill="#d5ed92"/>
<rect x="215" y="54.50" width="1" height="10.62" fill="#99d36c"/>
<rect x="216" y="54.50" width="1" height="10.62" fill="#bae277"/>
<rect x="217" y="54.50" width="1" height="10.62" fill="#64bb60"/>
<rect x="218" y="54.50" width="1" height="10.62" fill="#35a556"/>
<rect x="219" y="54.50" width="1" height="10.62" fill="#259e53"/>
<rect x="220" y="54.50" width="1" height="10.62" fill="#2f9b53"/>
<rect x="221" y="54.50" width="1" height="10.62" fill="#ddf191"/>
<rect x="222" y="54.50" width="1" height="10.62" fill="#acdc71"/>
<rect x="223" y="54.50" width="1" height="10.62" fill="#8bcd68"/>
<rect x="224" y="54.50" width="1" height="10.62" fill="#97d268"/>
<rect x="225" y="54.50" width="1" height="10.62" fill="#7cc766"/>
<rect x="226" y="54.50" width="1" height="10.62" fill="#66bd62"/>
<rect x="227" y="54.50" width="1" height="10.62" fill="#74c364"/>
<rect x="228" y="54.50" width="1" height="10.62" fill="#62bb61"/>
<rect x="229" y="54.50" width="1" height="10.62" fill="#59b760"/>
<rect x="230" y="54.50" width="1" height="10.62" fill="#a9da74"/>
<rect x="231" y="54.50" width="1" height="10.62" fill="#addc6f"/>
<rect x="232" y="54.50" width="1" height="10.62" fill="#a7d96c"/>
<rect x="233" y="54.50" width="1" height="10.62" fill="#b1de72"/>
<rect x="234" y="54.50" width="1" height="10.62" fill="#8dce6b"/>
<rect x="235" y="54.50" width="1" height="10.62" fill="#b2df75"/>
<rect x="236" y="54.50" width="1" height="10.62" fill="#d0eb87"/>
<rect x="237" y="54.50" width="1" height="10.62" fill="#93d078"/>
<rect x="238" y="54.50" width="1" height="10.62" fill="#89cc66"/>
<rect x="239" y="54.50" width="1" height="10.62" fill="#86cb66"/>
<rect x="240" y="54.50" width="1" height="10.62" fill="#64bb61"/>
<rect x="241" y="54.50" width="1" height="10.62" fill="#7ec766"/>
<rect x="242" y="54.50" width="1" height="10.62" fill="#80c866"/>
<rect x="243" y="54.50" width="1" height="10.62" fill="#6dbf62"/>
<rect x="244" y="54.50" width="1" height="10.62" fill="#4cb05d"/>
<rect x="245" y="54.50" width="1" height="10.62" fill="#6ec064"/>
<rect x="246" y="54.50" width="1" height="10.62" fill="#b4df72"/>
<rect x="247" y="54.50" width="1" height="10.62" fill="#85ca68"/>
<rect x="248" y="54.50" width="1" height="10.62" fill="#79c565"/>
<rect x="249" y="54.50" width="1" height="10.62" fill="#69bf63"/>
<rect x="250" y="54.50" width="1" height="10.62" fill="#4aaf5c"/>
<rect x="251" y="54.50" width="1" height="10.62" fill="#38a657"/>
<rect x="252" y="54.50" width="1" height="10.62" fill="#36a557"/>
<rect x="253" y="54.50" width="1" height="10.62" fill="#67bc62"/>
<rect x="254" y="54.50" width="1" height="10.62" fill="#81c967"/>
<rect x="255" y="54.50" width="1" height="10.62" fill="#addc6e"/>
<rect x="256" y="54.50" width="1" height="10.62" fill="#9dd46c"/>
<rect x="257" y="54.50" width="1" height="10.62" fill="#3ea656"/>
<rect x="258" y="54.50" width="1" height="10.62" fill="#58b65e"/>
<rect x="259" y="54.50" width="1" height="10.62" fill="#9bd469"/>
<rect x="260" y="54.50" width="1" height="10.62" fill="#83c966"/>
<rect x="261" y="54.50" width="1" height="10.62" fill="#5cb85f"/>
<rect x="262" y="54.50" width="1" height="10.62" fill="#249d53"/>
<rect x="263" y="54.50" width="1" height="10.62" fill="#2fa255"/>
<rect x="264" y="54.50" width="1" height="10.62" fill="#4ab05c"/>
<rect x="265" y="54.50" width="1" height="10.62" fill="#289950"/>
<rect x="266" y="54.50" width="1" height="10.62" fill="#47ac5a"/>
<rect x="267" y="54.50" width="1" height="10.62" fill="#76c464"/>
<rect x="268" y="54.50" width="1" height="10.62" fill="#addc6e"/>
<rect x="269" y="54.50" width="1" height="10.62" fill="#a5d96f"/>
<rect x="270" y="54.50" width="1" height="10.62" fill="#74c365"/>
<rect x="271" y="54.50" width="1" height="10.62" fill="#4fac59"/>
<rect x="272" y="54.50" width="1" height="10.62" fill="#2e9e53"/>
<rect x="273" y="54.50" width="1" height="10.62" fill="#118345"/>
<rect x="274" y="54.50" width="1" height="10.62" fill="#b1b565"/>
<rect x="275" y="54.50" width="1" height="10.62" fill="#fdb96a"/>
<rect x="276" y="54.50" width="1" height="10.62" fill="#fdbb6c"/>
<rect x="277" y="54.50" width="1" height="10.62" fill="#ecce76"/>
<rect x="278" y="54.50" width="1" height="10.62" fill="#bee37a"/>
<rect x="279" y="54.50" width="1" height="10.62" fill="#bfe47c"/>
<rect x="280" y="54.50" width="1" height="10.62" fill="#9bd569"/>
<rect x="281" y="54.50" width="1" height="10.62" fill="#a2d76a"/>
<rect x="282" y="54.50" width="1" height="10.62" fill="#82c966"/>
<rect x="283" y="54.50" width="1" height="10.62" fill="#90cf67"/>
<rect x="284" y="54.50" width="1" height="10.62" fill="#5ab65e"/>
<rect x="285" y="54.50" width="1" height="10.62" fill="#75c364"/>
<rect x="286" y="54.50" width="1" height="10.62" fill="#93d16d"/>
<rect x="287" y="54.50" width="1" height="10.62" fill="#c2e57c"/>
<rect x="288" y="54.50" width="1" height="10.62" fill="#dc3a2b"/>
<rect x="289" y="54.50" width="1" height="10.62" fill="#d93228"/>
<rect x="290" y="54.50" width="1" height="10.62" fill="#c8c16c"/>
<rect x="291" y="54.50" width="1" height="10.62" fill="#addc70"/>
<rect x="292" y="54.50" width="1" height="10.62" fill="#a0d669"/>
<rect x="293" y="54.50" width="1" height="10.62" fill="#90cf69"/>
<rect x="294" y="54.50" width="1" height="10.62" fill="#addc74"/>
<rect x="295" y="54.50" width="1" height="10.62" fill="#88cb67"/>
<rect x="296" y="54.50" width="1" height="10.62" fill="#79c565"/>
<rect x="297" y="54.50" width="1" height="10.62" fill="#44ac59"/>
<rect x="298" y="54.50" width="1" height="10.62" fill="#51b35e"/>
<rect x="299" y="54.50" width="1" height="10.62" fill="#20944e"/>
<rect x="300" y="54.50" width="1" height="10.62" fill="#30a356"/>
<rect x="301" y="54.50" width="1" height="10.62" fill="#8ece67"/>
<rect x="302" y="54.50" width="1" height="10.62" fill="#95d168"/>
<rect x="303" y="54.50" width="1" height="10.62" fill="#49ae5a"/>
<rect x="304" y="54.50" width="1" height="10.62" fill="#4bb05c"/>
<rect x="305" y="54.50" width="1" height="10.62" fill="#57b55f"/>
<rect x="306" y="54.50" width="1" height="10.62" fill="#46ad5b"/>
<rect x="307" y="54.50" width="1" height="10.62" fill="#75c464"/>
<rect x="308" y="54.50" width="1" height="10.62" fill="#cce98d"/>
<rect x="309" y="54.50" width="1" height="10.62" fill="#dc6b4c"/>
<rect x="310" y="54.50" width="1" height="10.62" fill="#d73027"/>
<rect x="311" y="54.50" width="1" height="10.62" fill="#e9583a"/>
<rect x="312" y="54.50" width="1" height="10.62" fill="#f77f4c"/>
<rect x="313" y="54.50" width="1" height="10.62" fill="#f88c51"/>
<rect x="314" y="54.50" width="1" height="10.62" fill="#efa161"/>
<rect x="315" y="54.50" width="1" height="10.62" fill="#dff193"/>
<rect x="316" y="54.50" width="1" height="10.62" fill="#d5ed96"/>
<rect x="317" y="54.50" width="1" height="10.62" fill="#42ac5a"/>
<rect x="318" y="54.50" width="1" height="10.62" fill="#21944e"/>
<rect x="319" y="54.50" width="1" height="10.62" fill="#63bb62"/>
<rect x="320" y="54.50" width="1" height="10.62" fill="#3ba859"/>
<rect x="321" y="54.50" width="1" height="10.62" fill="#68be61"/>
<rect x="322" y="54.50" width="1" height="10.62" fill="#8dce67"/>
<rect x="323" y="54.50" width="1" height="10.62" fill="#48a956"/>
<rect x="324" y="54.50" width="1" height="10.62" fill="#09773f"/>
<rect x="325" y="54.50" width="1" height="10.62" fill="#2f954e"/>
<rect x="326" y="54.50" width="1" height="10.62" fill="#67bd62"/>
<rect x="327" y="54.50" width="1" height="10.62" fill="#35a557"/>
<rect x="328" y="54.50" width="1" height="10.62" fill="#3faa59"/>
<rect x="329" y="54.50" width="1" height="10.62" fill="#71c164"/>
<rect x="330" y="54.50" width="1" height="10.62" fill="#3da959"/>
<rect x="331" y="54.50" width="1" height="10.62" fill="#85ca67"/>
<rect x="332" y="54.50" width="1" height="10.62" fill="#2f9d52"/>
<rect x="333" y="54.50" width="1" height="10.62" fill="#1a8f4b"/>
<rect x="334" y="54.50" width="1" height="10.62" fill="#76bb62"/>
<rect x="335" y="54.50" width="1" height="10.62" fill="#d4ed8a"/>
<rect x="336" y="54.50" width="1" height="10.62" fill="#8acc6d"/>
<rect x="337" y="54.50" width="1" height="10.62" fill="#52b35e"/>
<rect x="338" y="54.50" width="1" height="10.62" fill="#6bbf63"/>
<rect x="339" y="54.50" width="1" height="10.62" fill="#7bc665"/>
<rect x="340" y="54.50" width="1" height="10.62" fill="#79c565"/>
<rect x="341" y="54.50" width="1" height="10.62" fill="#40aa59"/>
<rect x="342" y="54.50" width="1" height="10.62" fill="#36a557"/>
<rect x="343" y="54.50" width="1" height="10.62" fill="#def19f"/>
<rect x="344" y="54.50" width="1" height="10.62" fill="#7dc76e"/>
<rect x="345" y="54.50" width="1" height="10.62" fill="#4bb05c"/>
<rect x="346" y="54.50" width="1" height="10.62" fill="#56b55f"/>
<rect x="347" y="54.50" width="1" height="10.62" fill="#3eaa59"/>
<rect x="348" y="54.50" width="1" height="10.62" fill="#93d168"/>
<rect x="349" y="54.50" width="1" height="10.62" fill="#8aa259"/>
<rect x="350" y="54.50" width="18" height="10.62" fill="#af0a26"/>
<rect x="368" y="54.50" width="1" height="10.62" fill="#eacc99"/>
<rect x="369" y="54.50" width="1" height="10.62" fill="#a0d58b"/>
<rect x="370" y="54.50" width="1" height="10.62" fill="#3aa858"/>
<rect x="371" y="54.50" width="1" height="10.62" fill="#5cb861"/>
<rect x="372" y="54.50" width="1" height="10.62" fill="#63bc62"/>
<rect x="373" y="54.50" width="1" height="10.62" fill="#35a656"/>
<rect x="374" y="54.50" width="1" height="10.62" fill="#68bd62"/>
<rect x="375" y="54.50" width="1" height="10.62" fill="#40aa59"/>
<rect x="376" y="54.50" width="1" height="10.62" fill="#79c665"/>
<rect x="377" y="54.50" width="2" height="10.62" fill="#8fcf67"/>
<rect x="379" y="54.50" width="1" height="10.62" fill="#8bcd67"/>
<rect x="380" y="54.50" width="1" height="10.62" fill="#97d269"/>
<rect x="381" y="54.50" width="1" height="10.62" fill="#7cc665"/>
<rect x="382" y="54.50" width="1" height="10.62" fill="#92d068"/>
<rect x="383" y="54.50" width="1" height="10.62" fill="#86cb66"/>
<rect x="384" y="54.50" width="1" height="10.62" fill="#7cc765"/>
<rect x="385" y="54.50" width="1" height="10.62" fill="#8acc67"/>
<rect x="386" y="54.50" width="1" height="10.62" fill="#e3c374"/>
<rect x="387" y="54.50" width="1" height="10.62" fill="#d73027"/>
<rect x="388" y="54.50" width="1" height="10.62" fill="#dff198"/>
<rect x="389" y="54.50" width="1" height="10.62" fill="#36a558"/>
<rect x="390" y="54.50" width="1" height="10.62" fill="#37a758"/>
<rect x="391" y="54.50" width="1" height="10.62" fill="#1a924c"/>
<rect x="392" y="54.50" width="1" height="10.62" fill="#56b35c"/>
<rect x="393" y="54.50" width="1" height="10.62" fill="#a6d96d" fill-opacity="0.50"/>
<rect x="412" y="54.50" width="1" height="10.62" fill="#3ba858"/>
<rect x="413" y="54.50" width="1" height="10.62" fill="#289f54"/>
<rect x="414" y="54.50" width="1" height="10.62" fill="#43ac5a"/>
<rect x="415" y="54.50" width="1" height="10.62" fill="#75c363"/>
<rect x="416" y="54.50" width="1" height="10.62" fill="#7fc866"/>
<rect x="417" y="54.50" width="1" height="10.62" fill="#98d269"/>
<rect x="440" y="54.50" width="1" height="10.62" fill="#b1dd71" fill-opacity="0.70"/>
<rect x="441" y="54.50" width="1" height="10.62" fill="#b4df73"/>
<rect x="442" y="54.50" width="1" height="10.62" fill="#bee379" fill-opacity="0.50"/>
<rect x="444" y="54.50" width="1" height="10.62" fill="#118044" fill-opacity="0.50"/>
<rect x="445" y="54.50" width="1" height="10.62" fill="#259a51"/>
<rect x="446" y="54.50" width="1" height="10.62" fill="#349d52"/>
<rect x="447" y="54.50" width="1" height="10.62" fill="#9fd66c"/>
<rect x="448" y="54.50" width="1" height="10.62" fill="#76c465"/>
<rect x="449" y="54.50" width="1" height="10.62" fill="#6bbf64" fill-opacity="0.10"/>
<rect x="450" y="54.50" width="1" height="10.62" fill="#8bcd67" fill-opacity="0.10"/>
<rect x="451" y="54.50" width="1" height="10.62" fill="#82c966"/>
<rect x="452" y="54.50" width="1" height="10.62" fill="#8dce73"/>
<rect x="453" y="54.50" width="1" height="10.62" fill="#dcf091"/>
<rect x="454" y="54.50" width="1" height="10.62" fill="#8acd69"/>
<rect x="455" y="54.50" width="1" height="10.62" fill="#91d067" fill-opacity="0.50"/>
<rect x="456" y="54.50" width="1" height="10.62" fill="#62bb61" fill-opacity="0.20"/>
<rect x="457" y="54.50" width="1" height="10.62" fill="#67bd61"/>
<rect x="458" y="54.50" width="1" height="10.62" fill="#2b9c53"/>
<rect x="459" y="54.50" width="1" height="10.62" fill="#026b39"/>
<rect x="460" y="54.50" width="1" height="10.62" fill="#0b7c41"/>
<rect x="461" y="54.50" width="1" height="10.62" fill="#108547" fill-opacity="0.40"/>
<rect x="464" y="54.50" width="1" height="10.62" fill="#fec978" fill-opacity="0.50"/>
<rect x="465" y="54.50" width="1" height="10.62" fill="#fecb79" fill-opacity="0.60"/>
<rect x="468" y="54.50" width="1" height="10.62" fill="#269e53" fill-opacity="0.40"/>
<rect x="469" y="54.50" width="1" height="10.62" fill="#209b52"/>
<rect x="470" y="54.50" width="1" height="10.62" fill="#229c52" fill-opacity="0.50"/>
<rect x="471" y="54.50" width="1" height="10.62" fill="#128848" fill-opacity="0.20"/>
<rect x="472" y="54.50" width="1" height="10.62" fill="#1e944e"/>
<rect x="473" y="54.50" width="1" height="10.62" fill="#209750" fill-opacity="0.60"/>
<rect x="474" y="66.52" width="1" height="10.62" fill="#b40e26" fill-opacity="0.50"/>
<rect x="475" y="66.52" width="8" height="10.62" fill="#b40e26"/>
<rect x="488" y="66.52" width="1" height="10.62" fill="#d73027" fill-opacity="0.10"/>
<rect x="489" y="66.52" width="1" height="10.62" fill="#d73027" fill-opacity="0.90"/>
<rect x="496" y="66.52" width="1" height="10.62" fill="#98d369" fill-opacity="0.70"/>
<rect x="497" y="66.52" width="1" height="10.62" fill="#a9da6f"/>
<rect x="498" y="66.52" width="1" height="10.62" fill="#42ac5a"/>
<rect x="499" y="66.52" width="1" height="10.62" fill="#4cb05c"/>
<rect x="506" y="66.52" width="1" height="10.62" fill="#f7844d" fill-opacity="0.50"/>
<rect x="507" y="66.52" width="1" height="10.62" fill="#fb9a58"/>
<rect x="508" y="66.52" width="1" height="10.62" fill="#f88950" fill-opacity="0.30"/>
<rect x="405" y="78.54" width="1" height="10.62" fill="#36a657" fill-opacity="0.50"/>
<rect x="406" y="78.54" width="1" height="10.62" fill="#118848"/>
<rect x="407" y="78.54" width="1" height="10.62" fill="#1f9850"/>
<rect x="408" y="78.54" width="1" height="10.62" fill="#1b914c"/>
<rect x="409" y="78.54" width="1" height="10.62" fill="#178c4a"/>
<rect x="410" y="78.54" width="1" height="10.62" fill="#50b25d"/>
<rect x="411" y="78.54" width="1" height="10.62" fill="#41ab59"/>
<rect x="412" y="78.54" width="1" height="10.62" fill="#7dc665"/>
<rect x="413" y="78.54" width="1" height="10.62" fill="#4eb15d"/>
<rect x="414" y="78.54" width="1" height="10.62" fill="#299f54"/>
<rect x="415" y="78.54" width="1" height="10.62" fill="#219b52"/>
<rect x="416" y="78.54" width="1" height="10.62" fill="#3ba858"/>
<rect x="417" y="78.54" width="1" height="10.62" fill="#78c565"/>
<rect x="418" y="78.54" width="1" height="10.62" fill="#74c365"/>
<rect x="419" y="78.54" width="1" height="10.62" fill="#45ad5a"/>
<rect x="420" y="78.54" width="1" height="10.62" fill="#6bbe63"/>
<rect x="421" y="78.54" width="1" height="10.62" fill="#40aa59"/>
<rect x="422" y="78.54" width="1" height="10.62" fill="#8ccc7a"/>
<rect x="423" y="78.54" width="1" height="10.62" fill="#e0f294"/>
<rect x="424" y="78.54" width="1" height="10.62" fill="#7ec76a"/>
<rect x="425" y="78.54" width="1" height="10.62" fill="#8dce67"/>
<rect x="426" y="78.54" width="1" height="10.62" fill="#8bcd67"/>
<rect x="427" y="78.54" width="1" height="10.62" fill="#6ec164"/>
<rect x="428" y="78.54" width="1" height="10.62" fill="#42ac5a"/>
<rect x="429" y="78.54" width="1" height="10.62" fill="#219b52"/>
<rect x="430" y="78.54" width="1" height="10.62" fill="#52b35e"/>
<rect x="431" y="78.54" width="1" height="10.62" fill="#40ab5a"/>
<rect x="432" y="78.54" width="1" height="10.62" fill="#2da255"/>
<rect x="433" y="78.54" width="1" height="10.62" fill="#2e9950"/>
<rect x="434" y="78.54" width="1" height="10.62" fill="#07743d"/>
<rect x="435" y="78.54" width="1" height="10.62" fill="#20914c"/>
<rect x="436" y="78.54" width="1" height="10.62" fill="#2da155"/>
<rect x="437" y="78.54" width="1" height="10.62" fill="#2aa054"/>
<rect x="438" y="78.54" width="1" height="10.62" fill="#50b25d"/>
<rect x="439" y="78.54" width="1" height="10.62" fill="#128144"/>
<rect x="440" y="78.54" width="1" height="10.62" fill="#229951"/>
<rect x="441" y="78.54" width="1" height="10.62" fill="#1d9750"/>
<rect x="442" y="78.54" width="1" height="10.62" fill="#1a954e"/>
<rect x="443" y="78.54" width="1" height="10.62" fill="#0a7a41"/>
<rect x="444" y="78.54" width="1" height="10.62" fill="#36a657"/>
<rect x="445" y="78.54" width="1" height="10.62" fill="#2a9d52"/>
<rect x="446" y="78.54" width="1" height="10.62" fill="#349f53"/>
<rect x="447" y="78.54" width="1" height="10.62" fill="#269a51"/>
<rect x="448" y="78.54" width="1" height="10.62" fill="#36a456"/>
<rect x="449" y="78.54" width="1" height="10.62" fill="#117e42"/>
<rect x="450" y="78.54" width="1" height="10.62" fill="#67be63"/>
<rect x="451" y="78.54" width="1" height="10.62" fill="#5eb961"/>
<rect x="452" y="78.54" width="1" height="10.62" fill="#4db15c"/>
<rect x="453" y="78.54" width="1" height="10.62" fill="#0e8144"/>
<rect x="454" y="78.54" width="1" height="10.62" fill="#32a054"/>
<rect x="455" y="78.54" width="1" height="10.62" fill="#c2e58b"/>
<rect x="456" y="78.54" width="1" height="10.62" fill="#bce37e"/>
<rect x="457" y="78.54" width="1" height="10.62" fill="#40a758"/>
<rect x="458" y="78.54" width="1" height="10.62" fill="#0f8446"/>
<rect x="459" y="78.54" width="1" height="10.62" fill="#2c9950"/>
<rect x="460" y="78.54" width="1" height="10.62" fill="#40aa5a"/>
<rect x="461" y="78.54" width="1" height="10.62" fill="#46ad5b"/>
<rect x="462" y="78.54" width="1" height="10.62" fill="#1e954e"/>
<rect x="463" y="78.54" width="1" height="10.62" fill="#54b45f"/>
<rect x="464" y="78.54" width="1" height="10.62" fill="#1c974f"/>
<rect x="465" y="78.54" width="1" height="10.62" fill="#27934d"/>
<rect x="466" y="78.54" width="1" height="10.62" fill="#0e8144"/>
<rect x="467" y="78.54" width="1" height="10.62" fill="#128948"/>
<rect x="468" y="78.54" width="1" height="10.62" fill="#35a456"/>
<rect x="469" y="78.54" width="1" height="10.62" fill="#3da858"/>
<rect x="470" y="78.54" width="1" height="10.62" fill="#2f9d52"/>
<rect x="471" y="78.54" width="1" height="10.62" fill="#128748"/>
<rect x="472" y="78.54" width="1" height="10.62" fill="#168f4c"/>
<rect x="473" y="78.54" width="1" height="10.62" fill="#3da557"/>
<rect x="474" y="78.54" width="1" height="10.62" fill="#43ac5a"/>
<rect x="475" y="78.54" width="1" height="10.62" fill="#96ca7f"/>
<rect x="476" y="78.54" width="1" height="10.62" fill="#e1f298"/>
<rect x="477" y="78.54" width="1" height="10.62" fill="#cae982"/>
<rect x="478" y="78.54" width="1" height="10.62" fill="#3da658"/>
<rect x="479" y="78.54" width="1" height="10.62" fill="#1f9950"/>
<rect x="480" y="78.54" width="1" height="10.62" fill="#168f4b"/>
<rect x="481" y="78.54" width="1" height="10.62" fill="#1b9750"/>
<rect x="482" y="78.54" width="1" height="10.62" fill="#96d268"/>
<rect x="483" y="78.54" width="1" height="10.62" fill="#9ed569"/>
<rect x="484" y="78.54" width="1" height="10.62" fill="#75c362"/>
<rect x="485" y="78.54" width="1" height="10.62" fill="#3aa758"/>
<rect x="486" y="78.54" width="1" height="10.62" fill="#2ca155"/>
<rect x="487" y="78.54" width="1" height="10.62" fill="#138a49"/>
<rect x="488" y="78.54" width="1" height="10.62" fill="#259c52"/>
<rect x="489" y="78.54" width="1" height="10.62" fill="#e6bc6d"/>
<rect x="490" y="78.54" width="1" height="10.62" fill="#f6dd87"/>
<rect x="491" y="78.54" width="1" height="10.62" fill="#e1f296"/>
<rect x="492" y="78.54" width="1" height="10.62" fill="#e8f5a0"/>
<rect x="493" y="78.54" width="1" height="10.62" fill="#62ab66"/>
<rect x="494" y="78.54" width="1" height="10.62" fill="#0f8546"/>
<rect x="495" y="78.54" width="1" height="10.62" fill="#158e4b"/>
<rect x="496" y="78.54" width="1" height="10.62" fill="#138b49"/>
<rect x="497" y="78.54" width="1" height="10.62" fill="#16914c"/>
<rect x="498" y="78.54" width="1" height="10.62" fill="#219b52"/>
<rect x="499" y="78.54" width="1" height="10.62" fill="#279f53"/>
<rect x="500" y="78.54" width="1" height="10.62" fill="#6fbf66"/>
<rect x="501" y="78.54" width="1" height="10.62" fill="#bde379"/>
<rect x="502" y="78.54" width="1" height="10.62" fill="#b6e074"/>
<rect x="503" y="78.54" width="1" height="10.62" fill="#e4e389"/>
<rect x="504" y="78.54" width="1" height="10.62" fill="#fedd8c"/>
<rect x="505" y="78.54" width="1" height="10.62" fill="#e1e384"/>
<rect x="506" y="78.54" width="1" height="10.62" fill="#b9e177"/>
<rect x="507" y="78.54" width="1" height="10.62" fill="#98d273"/>
<rect x="508" y="78.54" width="1" height="10.62" fill="#39a758"/>
<rect x="509" y="78.54" width="1" height="10.62" fill="#48ae5c" fill-opacity="0.10"/>
<rect x="496" y="90.56" width="1" height="10.62" fill="#e6f49d" fill-opacity="0.30"/>
<rect x="497" y="90.56" width="1" height="10.62" fill="#c2e491"/>
<rect x="498" y="90.56" width="1" height="10.62" fill="#2da155"/>
<rect x="499" y="90.56" width="1" height="10.62" fill="#3ca959"/>
<rect x="500" y="90.56" width="1" height="10.62" fill="#93d168"/>
<rect x="501" y="90.56" width="1" height="10.62" fill="#78c564"/>
<rect x="502" y="90.56" width="1" height="10.62" fill="#5eb961"/>
<rect x="503" y="90.56" width="1" height="10.62" fill="#5ab760"/>
<rect x="504" y="90.56" width="1" height="10.62" fill="#39a758"/>
<rect x="505" y="90.56" width="1" height="10.62" fill="#5cb85f"/>
<rect x="506" y="90.56" width="1" height="10.62" fill="#bab25f"/>
<rect x="507" y="90.56" width="1" height="10.62" fill="#f4ab70"/>
<rect x="508" y="90.56" width="1" height="10.62" fill="#fbfdba" fill-opacity="0.70"/>
<rect x="425" y="102.58" width="1" height="10.62" fill="#036f3a"/>
<rect x="426" y="102.58" width="1" height="10.62" fill="#138c49"/>
<rect x="427" y="102.58" width="1" height="10.62" fill="#1a934d"/>
<rect x="428" y="102.58" width="1" height="10.62" fill="#138647"/>
<rect x="429" y="102.58" width="1" height="10.62" fill="#0c7e42"/>
<rect x="430" y="102.58" width="1" height="10.62" fill="#41a557"/>
<rect x="431" y="102.58" width="1" height="10.62" fill="#107b41"/>
<rect x="432" y="102.58" width="1" height="10.62" fill="#48ae5c"/>
<rect x="433" y="102.58" width="1" height="10.62" fill="#49af5b"/>
<rect x="434" y="102.58" width="1" height="10.62" fill="#289e53"/>
<rect x="435" y="102.58" width="1" height="10.62" fill="#42ab5a"/>
<rect x="436" y="102.58" width="1" height="10.62" fill="#6ec164"/>
<rect x="437" y="102.58" width="1" height="10.62" fill="#46ad5b"/>
<rect x="438" y="102.58" width="1" height="10.62" fill="#249d53"/>
<rect x="439" y="102.58" width="1" height="10.62" fill="#35a557"/>
<rect x="440" y="102.58" width="1" height="10.62" fill="#4db15d"/>
<rect x="441" y="102.58" width="1" height="10.62" fill="#59b65f"/>
<rect x="442" y="102.58" width="1" height="10.62" fill="#59b760"/>
<rect x="443" y="102.58" width="1" height="10.62" fill="#8acc67"/>
<rect x="444" y="102.58" width="1" height="10.62" fill="#44ad5b"/>
<rect x="445" y="102.58" width="1" height="10.62" fill="#42ab5a"/>
<rect x="446" y="102.58" width="1" height="10.62" fill="#48ae5b"/>
<rect x="447" y="102.58" width="1" height="10.62" fill="#33a456"/>
<rect x="448" y="102.58" width="1" height="10.62" fill="#61bb60"/>
<rect x="449" y="102.58" width="1" height="10.62" fill="#66bd63"/>
<rect x="450" y="102.58" width="1" height="10.62" fill="#67bd63"/>
<rect x="451" y="102.58" width="1" height="10.62" fill="#89cc67"/>
<rect x="452" y="102.58" width="1" height="10.62" fill="#5ab75e"/>
<rect x="453" y="102.58" width="1" height="10.62" fill="#43ac5a"/>
<rect x="454" y="102.58" width="1" height="10.62" fill="#2f9f54"/>
<rect x="455" y="102.58" width="1" height="10.62" fill="#a6d877"/>
<rect x="456" y="102.58" width="1" height="10.62" fill="#d3ec98"/>
<rect x="457" y="102.58" width="1" height="10.62" fill="#239b52"/>
<rect x="458" y="102.58" width="1" height="10.62" fill="#34a155"/>
<rect x="459" y="102.58" width="1" height="10.62" fill="#148c4a"/>
<rect x="460" y="102.58" width="1" height="10.62" fill="#158f4b"/>
<rect x="461" y="102.58" width="1" height="10.62" fill="#4caf5b"/>
<rect x="462" y="102.58" width="1" height="10.62" fill="#60ba61"/>
<rect x="463" y="102.58" width="1" height="10.62" fill="#1e924d"/>
<rect x="464" y="102.58" width="1" height="10.62" fill="#53b45e"/>
<rect x="465" y="102.58" width="1" height="10.62" fill="#56b55f"/>
<rect x="466" y="102.58" width="1" height="10.62" fill="#36a456"/>
<rect x="467" y="102.58" width="1" height="10.62" fill="#1f964f"/>
<rect x="468" y="102.58" width="1" height="10.62" fill="#05713c"/>
<rect x="469" y="102.58" width="1" height="10.62" fill="#219b52"/>
<rect x="470" y="102.58" width="1" height="10.62" fill="#20944e"/>
<rect x="471" y="102.58" width="1" height="10.62" fill="#188747"/>
<rect x="472" y="102.58" width="1" height="10.62" fill="#1f934e"/>
<rect x="473" y="102.58" width="1" height="10.62" fill="#118747"/>
<rect x="474" y="102.58" width="1" height="10.62" fill="#62b960"/>
<rect x="475" y="102.58" width="1" height="10.62" fill="#3da959"/>
<rect x="476" y="102.58" width="1" height="10.62" fill="#43ab5a"/>
<rect x="477" y="102.58" width="1" height="10.62" fill="#32a356"/>
<rect x="478" y="102.58" width="1" height="10.62" fill="#b3de7a"/>
<rect x="479" y="102.58" width="1" height="10.62" fill="#b4df7b"/>
<rect x="480" y="102.58" width="1" height="10.62" fill="#8fcf66"/>
<rect x="481" y="102.58" width="1" height="10.62" fill="#9bd469"/>
<rect x="482" y="102.58" width="1" height="10.62" fill="#4eb15d"/>
<rect x="483" y="102.58" width="1" height="10.62" fill="#6ec064"/>
<rect x="484" y="102.58" width="1" height="10.62" fill="#63bc62"/>
<rect x="485" y="102.58" width="1" height="10.62" fill="#7dc36e"/>
<rect x="486" y="102.58" width="1" height="10.62" fill="#feeca0"/>
<rect x="487" y="102.58" width="1" height="10.62" fill="#fff1a7"/>
<rect x="488" y="102.58" width="1" height="10.62" fill="#96d168"/>
<rect x="489" y="102.58" width="1" height="10.62" fill="#62b45b"/>
<rect x="490" y="102.58" width="1" height="10.62" fill="#0c7e43"/>
<rect x="491" y="102.58" width="1" height="10.62" fill="#097940"/>
<rect x="492" y="102.58" width="1" height="10.62" fill="#21964f"/>
<rect x="493" y="102.58" width="1" height="10.62" fill="#a2b065"/>
<rect x="494" y="102.58" width="1" height="10.62" fill="#fdc373"/>
<rect x="495" y="102.58" width="1" height="10.62" fill="#f1f2a1"/>
<rect x="496" y="102.58" width="1" height="10.62" fill="#dbeb9b"/>
<rect x="497" y="102.58" width="1" height="10.62" fill="#53b35c"/>
<rect x="498" y="102.58" width="1" height="10.62" fill="#4bb05d"/>
<rect x="499" y="102.58" width="1" height="10.62" fill="#6abf64"/>
<rect x="500" y="102.58" width="1" height="10.62" fill="#7ac565"/>
<rect x="501" y="102.58" width="1" height="10.62" fill="#84ca66"/>
<rect x="502" y="102.58" width="1" height="10.62" fill="#86cb69"/>
<rect x="503" y="102.58" width="1" height="10.62" fill="#a9da6f"/>
<rect x="504" y="102.58" width="1" height="10.62" fill="#99d369"/>
<rect x="505" y="102.58" width="1" height="10.62" fill="#b2de75"/>
<rect x="506" y="102.58" width="1" height="10.62" fill="#dfa661"/>
<rect x="507" y="102.58" width="1" height="10.62" fill="#eb9a63"/>
<rect x="508" y="102.58" width="1" height="10.62" fill="#def192" fill-opacity="0.70"/>
<rect x="405" y="114.60" width="1" height="10.62" fill="#3eaa59" fill-opacity="0.80"/>
<rect x="406" y="114.60" width="1" height="10.62" fill="#09763e"/>
<rect x="407" y="114.60" width="1" height="10.62" fill="#a8d96f"/>
<rect x="408" y="114.60" width="1" height="10.62" fill="#158f4c"/>
<rect x="409" y="114.60" width="1" height="10.62" fill="#07743e"/>
<rect x="410" y="114.60" width="1" height="10.62" fill="#05723c"/>
<rect x="411" y="114.60" width="1" height="10.62" fill="#046f3b"/>
<rect x="412" y="114.60" width="1" height="10.62" fill="#026c39"/>
<rect x="413" y="114.60" width="1" height="10.62" fill="#0c7940"/>
<rect x="414" y="114.60" width="1" height="10.62" fill="#1c8c4a"/>
<rect x="415" y="114.60" width="1" height="10.62" fill="#35a557"/>
<rect x="416" y="114.60" width="1" height="10.62" fill="#3da958"/>
<rect x="417" y="114.60" width="1" height="10.62" fill="#44ad5b"/>
<rect x="418" y="114.60" width="1" height="10.62" fill="#0c7840"/>
<rect x="419" y="114.60" width="1" height="10.62" fill="#209b52"/>
<rect x="420" y="114.60" width="1" height="10.62" fill="#3faa59"/>
<rect x="421" y="114.60" width="1" height="10.62" fill="#27924d"/>
<rect x="422" y="114.60" width="1" height="10.62" fill="#0c7f43"/>
<rect x="423" y="114.60" width="1" height="10.62" fill="#229750"/>
<rect x="424" y="114.60" width="1" height="10.62" fill="#46ad5a"/>
<rect x="425" y="114.60" width="1" height="10.62" fill="#1f9b51"/>
<rect x="426" y="114.60" width="1" height="10.62" fill="#2ba055"/>
<rect x="427" y="114.60" width="1" height="10.62" fill="#2ea255"/>
<rect x="428" y="114.60" width="1" height="10.62" fill="#198e4a"/>
<rect x="429" y="114.60" width="1" height="10.62" fill="#22964f"/>
<rect x="430" y="114.60" width="1" height="10.62" fill="#2ba154"/>
<rect x="431" y="114.60" width="1" height="10.62" fill="#138948"/>
<rect x="432" y="114.60" width="1" height="10.62" fill="#1c964f"/>
<rect x="433" y="114.60" width="1" height="10.62" fill="#239750"/>
<rect x="434" y="114.60" width="1" height="10.62" fill="#118747"/>
<rect x="435" y="114.60" width="1" height="10.62" fill="#158f4b"/>
<rect x="436" y="114.60" width="1" height="10.62" fill="#33a556"/>
<rect x="437" y="114.60" width="1" height="10.62" fill="#60ba61"/>
<rect x="438" y="114.60" width="1" height="10.62" fill="#2da154"/>
<rect x="439" y="114.60" width="1" height="10.62" fill="#50b25e"/>
<rect x="440" y="114.60" width="1" height="10.62" fill="#57b55f"/>
<rect x="441" y="114.60" width="1" height="10.62" fill="#4db15c"/>
<rect x="442" y="114.60" width="1" height="10.62" fill="#6bbf63"/>
<rect x="443" y="114.60" width="1" height="10.62" fill="#18954e"/>
<rect x="444" y="114.60" width="1" height="10.62" fill="#117e42"/>
<rect x="445" y="114.60" width="1" height="10.62" fill="#3eaa59"/>
<rect x="446" y="114.60" width="1" height="10.62" fill="#1e954f"/>
<rect x="447" y="114.60" width="1" height="10.62" fill="#1f954f"/>
<rect x="448" y="114.60" width="1" height="10.62" fill="#198f4c"/>
<rect x="449" y="114.60" width="1" height="10.62" fill="#0a7c41"/>
<rect x="450" y="114.60" width="1" height="10.62" fill="#4db05c"/>
<rect x="451" y="114.60" width="1" height="10.62" fill="#34a557"/>
<rect x="452" y="114.60" width="1" height="10.62" fill="#269850"/>
<rect x="453" y="114.60" width="1" height="10.62" fill="#18944e"/>
<rect x="454" y="114.60" width="1" height="10.62" fill="#138c4a"/>
<rect x="455" y="114.60" width="1" height="10.62" fill="#c0e092"/>
<rect x="456" y="114.60" width="1" height="10.62" fill="#89be71"/>
<rect x="457" y="114.60" width="1" height="10.62" fill="#107e43"/>
<rect x="458" y="114.60" width="1" height="10.62" fill="#21904c"/>
<rect x="459" y="114.60" width="1" height="10.62" fill="#046f3b"/>
<rect x="460" y="114.60" width="1" height="10.62" fill="#05713c"/>
<rect x="461" y="114.60" width="1" height="10.62" fill="#138a49"/>
<rect x="462" y="114.60" width="1" height="10.62" fill="#0f8345"/>
<rect x="463" y="114.60" width="1" height="10.62" fill="#006837"/>
<rect x="464" y="114.60" width="1" height="10.62" fill="#06723d"/>
<rect x="465" y="114.60" width="1" height="10.62" fill="#097a40"/>
<rect x="466" y="114.60" width="1" height="10.62" fill="#016a38"/>
<rect x="467" y="114.60" width="1" height="10.62" fill="#036e3a"/>
<rect x="468" y="114.60" width="1" height="10.62" fill="#0b7c41"/>
<rect x="469" y="114.60" width="1" height="10.62" fill="#066f3b"/>
<rect x="470" y="114.60" width="1" height="10.62" fill="#299e53"/>
<rect x="471" y="114.60" width="1" height="10.62" fill="#148c4a"/>
<rect x="472" y="114.60" width="1" height="10.62" fill="#21954e"/>
<rect x="473" y="114.60" width="1" height="10.62" fill="#158445"/>
<rect x="474" y="114.60" width="1" height="10.62" fill="#2e9d53"/>
<rect x="475" y="114.60" width="1" height="10.62" fill="#118445"/>
<rect x="476" y="114.60" width="1" height="10.62" fill="#1d9951"/>
<rect x="477" y="114.60" width="1" height="10.62" fill="#56b45e"/>
<rect x="478" y="114.60" width="1" height="10.62" fill="#96d178"/>
<rect x="479" y="114.60" width="1" height="10.62" fill="#dff195"/>
<rect x="480" y="114.60" width="1" height="10.62" fill="#cdea84"/>
<rect x="481" y="114.60" width="1" height="10.62" fill="#f5fbb3"/>
<rect x="482" y="114.60" width="1" height="10.62" fill="#bce28b"/>
<rect x="483" y="114.60" width="1" height="10.62" fill="#91d068"/>
<rect x="484" y="114.60" width="1" height="10.62" fill="#68be63"/>
<rect x="485" y="114.60" width="1" height="10.62" fill="#4bb05d"/>
<rect x="486" y="114.60" width="1" height="10.62" fill="#5db460"/>
<rect x="487" y="114.60" width="1" height="10.62" fill="#fdc574"/>
<rect x="488" y="114.60" width="1" height="10.62" fill="#fdc272"/>
<rect x="489" y="114.60" width="1" height="10.62" fill="#decd71"/>
<rect x="490" y="114.60" width="1" height="10.62" fill="#b6e074"/>
<rect x="491" y="114.60" width="1" height="10.62" fill="#87cb6a"/>
<rect x="492" y="114.60" width="1" height="10.62" fill="#80c866"/>
<rect x="493" y="114.60" width="1" height="10.62" fill="#b6e077"/>
<rect x="494" y="114.60" width="1" height="10.62" fill="#b07e47"/>
<rect x="495" y="114.60" width="2" height="10.62" fill="#d73027"/>
<rect x="497" y="114.60" width="1" height="10.62" fill="#df4e36"/>
<rect x="498" y="114.60" width="1" height="10.62" fill="#fbc776"/>
<rect x="499" y="114.60" width="1" height="10.62" fill="#ebf7a3"/>
<rect x="500" y="114.60" width="1" height="10.62" fill="#d3ec89"/>
<rect x="501" y="114.60" width="1" height="10.62" fill="#e0f295"/>
<rect x="502" y="114.60" width="1" height="10.62" fill="#aadb74"/>
<rect x="503" y="114.60" width="1" height="10.62" fill="#73c364"/>
<rect x="504" y="114.60" width="1" height="10.62" fill="#96d26d"/>
<rect x="505" y="114.60" width="1" height="10.62" fill="#97d26a"/>
<rect x="506" y="114.60" width="1" height="10.62" fill="#c1e57d"/>
<rect x="507" y="114.60" width="1" height="10.62" fill="#c59c57"/>
<rect x="508" y="114.60" width="1" height="10.62" fill="#d42d27" fill-opacity="0.70"/>
<rect x="406" y="126.63" width="1" height="10.62" fill="#148d4b" fill-opacity="0.20"/>
<rect x="407" y="126.63" width="1" height="10.62" fill="#128949"/>
<rect x="408" y="126.63" width="1" height="10.62" fill="#158f4b"/>
<rect x="409" y="126.63" width="1" height="10.62" fill="#0d7f43"/>
<rect x="410" y="126.63" width="1" height="10.62" fill="#389d52"/>
<rect x="411" y="126.63" width="1" height="10.62" fill="#4db15c" fill-opacity="0.50"/>
<rect x="413" y="126.63" width="1" height="10.62" fill="#52b35e" fill-opacity="0.20"/>
<rect x="414" y="126.63" width="1" height="10.62" fill="#40aa59"/>
<rect x="415" y="126.63" width="1" height="10.62" fill="#168d4a"/>
<rect x="416" y="126.63" width="1" height="10.62" fill="#108647"/>
<rect x="417" y="126.63" width="1" height="10.62" fill="#17924d"/>
<rect x="418" y="126.63" width="1" height="10.62" fill="#1e9850"/>
<rect x="419" y="126.63" width="1" height="10.62" fill="#55b45e"/>
<rect x="420" y="126.63" width="1" height="10.62" fill="#5ab75f"/>
<rect x="421" y="126.63" width="1" height="10.62" fill="#4fb15c"/>
<rect x="422" y="126.63" width="1" height="10.62" fill="#6abf63"/>
<rect x="423" y="126.63" width="1" height="10.62" fill="#7bc665"/>
<rect x="424" y="126.63" width="1" height="10.62" fill="#7ec865"/>
<rect x="425" y="126.63" width="1" height="10.62" fill="#80c865"/>
<rect x="426" y="126.63" width="1" height="10.62" fill="#259c52"/>
<rect x="427" y="126.63" width="1" height="10.62" fill="#33a255"/>
<rect x="428" y="126.63" width="1" height="10.62" fill="#118747"/>
<rect x="429" y="126.63" width="1" height="10.62" fill="#93d168"/>
<rect x="430" y="126.63" width="1" height="10.62" fill="#6bbf63"/>
<rect x="431" y="126.63" width="1" height="10.62" fill="#108647"/>
<rect x="432" y="126.63" width="1" height="10.62" fill="#0d8144"/>
<rect x="433" y="126.63" width="1" height="10.62" fill="#18934e"/>
<rect x="434" y="126.63" width="1" height="10.62" fill="#17924d" fill-opacity="0.50"/>
<rect x="436" y="126.63" width="1" height="10.62" fill="#60ba61" fill-opacity="0.50"/>
<rect x="437" y="126.63" width="1" height="10.62" fill="#71c164"/>
<rect x="438" y="126.63" width="1" height="10.62" fill="#60b960"/>
<rect x="439" y="126.63" width="1" height="10.62" fill="#8cce67"/>
<rect x="440" y="126.63" width="1" height="10.62" fill="#50b25d"/>
<rect x="441" y="126.63" width="1" height="10.62" fill="#78c464"/>
<rect x="442" y="126.63" width="1" height="10.62" fill="#67bd62"/>
<rect x="443" y="126.63" width="1" height="10.62" fill="#9bd469"/>
<rect x="444" y="126.63" width="1" height="10.62" fill="#7dc765"/>
<rect x="445" y="126.63" width="1" height="10.62" fill="#85cb66"/>
<rect x="446" y="126.63" width="1" height="10.62" fill="#3faa59"/>
<rect x="447" y="126.63" width="1" height="10.62" fill="#5ab760"/>
<rect x="448" y="126.63" width="1" height="10.62" fill="#2ea255"/>
<rect x="449" y="126.63" width="1" height="10.62" fill="#19954f"/>
<rect x="450" y="126.63" width="1" height="10.62" fill="#3ea959"/>
<rect x="451" y="126.63" width="1" height="10.62" fill="#5fb960"/>
<rect x="452" y="126.63" width="1" height="10.62" fill="#82c966"/>
<rect x="453" y="126.63" width="1" height="10.62" fill="#74c364"/>
<rect x="454" y="126.63" width="1" height="10.62" fill="#60ba61"/>
<rect x="455" y="126.63" width="1" height="10.62" fill="#91d06c"/>
<rect x="456" y="126.63" width="1" height="10.62" fill="#cce986"/>
<rect x="457" y="126.63" width="1" height="10.62" fill="#6ec164"/>
<rect x="458" y="126.63" width="1" height="10.62" fill="#6cc064"/>
<rect x="459" y="126.63" width="1" height="10.62" fill="#51b25d"/>
<rect x="460" y="126.63" width="1" height="10.62" fill="#64bb60"/>
<rect x="461" y="126.63" width="1" height="10.62" fill="#96d168"/>
<rect x="462" y="126.63" width="1" height="10.62" fill="#68be62"/>
<rect x="463" y="126.63" width="1" height="10.62" fill="#97d268"/>
<rect x="464" y="126.63" width="1" height="10.62" fill="#8fce67"/>
<rect x="465" y="126.63" width="1" height="10.62" fill="#55b45e"/>
<rect x="466" y="126.63" width="1" height="10.62" fill="#5cb760"/>
<rect x="467" y="126.63" width="1" height="10.62" fill="#77c465"/>
<rect x="468" y="126.63" width="1" height="10.62" fill="#75c364"/>
<rect x="469" y="126.63" width="1" height="10.62" fill="#77c463"/>
<rect x="470" y="126.63" width="1" height="10.62" fill="#98d36c"/>
<rect x="471" y="126.63" width="1" height="10.62" fill="#66bd62"/>
<rect x="472" y="126.63" width="1" height="10.62" fill="#94d168"/>
<rect x="473" y="126.63" width="1" height="10.62" fill="#8fcf66"/>
<rect x="474" y="126.63" width="1" height="10.62" fill="#45ac5a"/>
<rect x="475" y="126.63" width="1" height="10.62" fill="#89cd66"/>
<rect x="476" y="126.63" width="1" height="10.62" fill="#5cb860"/>
<rect x="477" y="126.63" width="1" height="10.62" fill="#7bc665"/>
<rect x="478" y="126.63" width="1" height="10.62" fill="#c7e78d"/>
<rect x="479" y="126.63" width="1" height="10.62" fill="#c4e582"/>
<rect x="480" y="126.63" width="1" height="10.62" fill="#b0dd70"/>
<rect x="481" y="126.63" width="1" height="10.62" fill="#b5df74"/>
<rect x="482" y="126.63" width="1" height="10.62" fill="#88cc68"/>
<rect x="483" y="126.63" width="1" height="10.62" fill="#bee379"/>
<rect x="484" y="126.63" width="1" height="10.62" fill="#a9da73"/>
<rect x="485" y="126.63" width="1" height="10.62" fill="#a8d672"/>
<rect x="486" y="126.63" width="1" height="10.62" fill="#fee898"/>
<rect x="487" y="126.63" width="1" height="10.62" fill="#f3ef9b"/>
<rect x="488" y="126.63" width="1" height="10.62" fill="#f0f9ab"/>
<rect x="489" y="126.63" width="1" height="10.62" fill="#83c16c"/>
<rect x="490" y="126.63" width="1" height="10.62" fill="#118747"/>
<rect x="491" y="126.63" width="1" height="10.62" fill="#0a7a40"/>
<rect x="492" y="126.63" width="1" height="10.62" fill="#1f8e4a"/>
<rect x="493" y="126.63" width="1" height="10.62" fill="#9ad468"/>
<rect x="494" y="126.63" width="1" height="10.62" fill="#fed17f"/>
<rect x="495" y="126.63" width="1" height="10.62" fill="#d4ea85"/>
<rect x="496" y="126.63" width="1" height="10.62" fill="#a8d97a"/>
<rect x="497" y="126.63" width="1" height="10.62" fill="#5ab760"/>
<rect x="498" y="126.63" width="1" height="10.62" fill="#4db05c"/>
<rect x="499" y="126.63" width="1" height="10.62" fill="#2ba054"/>
<rect x="500" y="126.63" width="1" height="10.62" fill="#81c967"/>
<rect x="501" y="126.63" width="1" height="10.62" fill="#b9e278"/>
<rect x="502" y="126.63" width="1" height="10.62" fill="#a3d86d"/>
<rect x="503" y="126.63" width="1" height="10.62" fill="#7cc668"/>
<rect x="504" y="126.63" width="1" height="10.62" fill="#43ac5a"/>
<rect x="505" y="126.63" width="1" height="10.62" fill="#37a657"/>
<rect x="506" y="126.63" width="1" height="10.62" fill="#b19853"/>
<rect x="507" y="126.63" width="1" height="10.62" fill="#f1a06b"/>
<rect x="508" y="126.63" width="1" height="10.62" fill="#fffebd" fill-opacity="0.70"/>
<rect x="418" y="138.65" width="1" height="10.62" fill="#fee594"/>
<rect x="419" y="138.65" width="1" height="10.62" fill="#d2df80"/>
<rect x="420" y="138.65" width="1" height="10.62" fill="#98d368"/>
<rect x="421" y="138.65" width="1" height="10.62" fill="#84ca66"/>
<rect x="422" y="138.65" width="1" height="10.62" fill="#92d068"/>
<rect x="423" y="138.65" width="1" height="10.62" fill="#82c966"/>
<rect x="424" y="138.65" width="1" height="10.62" fill="#8fcf68"/>
<rect x="425" y="138.65" width="1" height="10.62" fill="#84ca66"/>
<rect x="426" y="138.65" width="1" height="10.62" fill="#8ece67"/>
<rect x="427" y="138.65" width="1" height="10.62" fill="#a0d769"/>
<rect x="428" y="138.65" width="1" height="10.62" fill="#a5d96d"/>
<rect x="429" y="138.65" width="1" height="10.62" fill="#a1d66a"/>
<rect x="430" y="138.65" width="1" height="10.62" fill="#62ba60"/>
<rect x="431" y="138.65" width="1" height="10.62" fill="#7dc765"/>
<rect x="432" y="138.65" width="1" height="10.62" fill="#a3d76b"/>
<rect x="433" y="138.65" width="1" height="10.62" fill="#95d268"/>
<rect x="434" y="138.65" width="1" height="10.62" fill="#9bd469"/>
<rect x="435" y="138.65" width="1" height="10.62" fill="#90d068"/>
<rect x="436" y="138.65" width="1" height="10.62" fill="#97d269"/>
<rect x="437" y="138.65" width="1" height="10.62" fill="#a1d76a"/>
<rect x="438" y="138.65" width="1" height="10.62" fill="#9fd66c"/>
<rect x="439" y="138.65" width="1" height="10.62" fill="#c1e47b"/>
<rect x="440" y="138.65" width="1" height="10.62" fill="#bee379"/>
<rect x="441" y="138.65" width="1" height="10.62" fill="#afdd70"/>
<rect x="442" y="138.65" width="1" height="10.62" fill="#9ed56a"/>
<rect x="443" y="138.65" width="1" height="10.62" fill="#aedc71"/>
<rect x="444" y="138.65" width="1" height="10.62" fill="#e5f49d"/>
<rect x="445" y="138.65" width="1" height="10.62" fill="#c8e880"/>
<rect x="446" y="138.65" width="1" height="10.62" fill="#cfeb85"/>
<rect x="447" y="138.65" width="1" height="10.62" fill="#c8e87f"/>
<rect x="448" y="138.65" width="1" height="10.62" fill="#c9e981"/>
<rect x="449" y="138.65" width="1" height="10.62" fill="#dcf091"/>
<rect x="450" y="138.65" width="1" height="10.62" fill="#c0e57b"/>
<rect x="451" y="138.65" width="1" height="10.62" fill="#c9e881"/>
<rect x="452" y="138.65" width="1" height="10.62" fill="#8fcf68"/>
<rect x="453" y="138.65" width="1" height="10.62" fill="#a5d871"/>
<rect x="454" y="138.65" width="1" height="10.62" fill="#e8f5a3"/>
<rect x="455" y="138.65" width="1" height="10.62" fill="#f6ea98"/>
<rect x="456" y="138.65" width="1" height="10.62" fill="#fedd88"/>
<rect x="457" y="138.65" width="1" height="10.62" fill="#b0dd71"/>
<rect x="458" y="138.65" width="1" height="10.62" fill="#a8d96e"/>
<rect x="459" y="138.65" width="1" height="10.62" fill="#b7e075"/>
<rect x="460" y="138.65" width="1" height="10.62" fill="#92d06a"/>
<rect x="461" y="138.65" width="1" height="10.62" fill="#a5d86f"/>
<rect x="462" y="138.65" width="1" height="10.62" fill="#85ca6a"/>
<rect x="463" y="138.65" width="1" height="10.62" fill="#e1f395"/>
<rect x="464" y="138.65" width="1" height="10.62" fill="#ecee95"/>
<rect x="465" y="138.65" width="1" height="10.62" fill="#fee99a"/>
<rect x="466" y="138.65" width="1" height="10.62" fill="#fee092"/>
<rect x="467" y="138.65" width="1" height="10.62" fill="#f4c975"/>
<rect x="468" y="138.65" width="1" height="10.62" fill="#f6fbb4"/>
<rect x="469" y="138.65" width="1" height="10.62" fill="#daf08c"/>
<rect x="470" y="138.65" width="1" height="10.62" fill="#9fd66d"/>
<rect x="471" y="138.65" width="1" height="10.62" fill="#c2e67d"/>
<rect x="472" y="138.65" width="1" height="10.62" fill="#ccea83"/>
<rect x="473" y="138.65" width="1" height="10.62" fill="#e7f5a1"/>
<rect x="474" y="138.65" width="1" height="10.62" fill="#cbe986"/>
<rect x="475" y="138.65" width="1" height="10.62" fill="#d1eb86"/>
<rect x="476" y="138.65" width="1" height="10.62" fill="#b1de71"/>
<rect x="477" y="138.65" width="1" height="10.62" fill="#b0de70"/>
<rect x="478" y="138.65" width="1" height="10.62" fill="#b9a25f"/>
<rect x="479" y="138.65" width="1" height="10.62" fill="#b40e26"/>
<rect x="480" y="138.65" width="1" height="10.62" fill="#b1222d"/>
<rect x="481" y="138.65" width="1" height="10.62" fill="#70c164"/>
<rect x="482" y="138.65" width="1" height="10.62" fill="#a5d96b"/>
<rect x="483" y="138.65" width="1" height="10.62" fill="#b5df75"/>
<rect x="484" y="138.65" width="1" height="10.62" fill="#d4e17f"/>
<rect x="485" y="138.65" width="1" height="10.62" fill="#fece7c"/>
<rect x="486" y="138.65" width="1" height="10.62" fill="#f5d983"/>
<rect x="487" y="138.65" width="1" height="10.62" fill="#c2e57d"/>
<rect x="488" y="138.65" width="1" height="10.62" fill="#98d369"/>
<rect x="489" y="138.65" width="1" height="10.62" fill="#87cb67"/>
<rect x="490" y="138.65" width="1" height="10.62" fill="#84ca69"/>
<rect x="491" y="138.65" width="1" height="10.62" fill="#8ccd6c"/>
<rect x="492" y="138.65" width="1" height="10.62" fill="#2c9850"/>
<rect x="493" y="138.65" width="1" height="10.62" fill="#07743d"/>
<rect x="494" y="138.65" width="1" height="10.62" fill="#ef623e"/>
<rect x="495" y="138.65" width="1" height="10.62" fill="#c9d877"/>
<rect x="496" y="138.65" width="1" height="10.62" fill="#b0dd7a"/>
<rect x="497" y="138.65" width="1" height="10.62" fill="#56b55f"/>
<rect x="498" y="138.65" width="1" height="10.62" fill="#4cb15d"/>
<rect x="499" y="138.65" width="1" height="10.62" fill="#7dc665"/>
<rect x="500" y="138.65" width="1" height="10.62" fill="#71c164"/>
<rect x="501" y="138.65" width="1" height="10.62" fill="#7ac565"/>
<rect x="502" y="138.65" width="1" height="10.62" fill="#6abf63"/>
<rect x="503" y="138.65" width="1" height="10.62" fill="#5cb860"/>
<rect x="504" y="138.65" width="1" height="10.62" fill="#66bd63"/>
<rect x="505" y="138.65" width="1" height="10.62" fill="#7ec766"/>
<rect x="506" y="138.65" width="1" height="10.62" fill="#ab7a47"/>
<rect x="507" y="138.65" width="1" height="10.62" fill="#d85541"/>
<rect x="508" y="138.65" width="1" height="10.62" fill="#f5fbb1" fill-opacity="0.70"/>
<rect x="485" y="150.67" width="1" height="10.62" fill="#fee797" fill-opacity="0.40"/>
<rect x="486" y="150.67" width="1" height="10.62" fill="#fff5af"/>
<rect x="487" y="150.67" width="1" height="10.62" fill="#feeda1"/>
<rect x="488" y="150.67" width="1" height="10.62" fill="#f0f9aa"/>
<rect x="489" y="150.67" width="1" height="10.62" fill="#daef95"/>
<rect x="490" y="150.67" width="1" height="10.62" fill="#c3e67d"/>
<rect x="491" y="150.67" width="1" height="10.62" fill="#bbe278"/>
<rect x="492" y="150.67" width="1" height="10.62" fill="#c2e57c"/>
<rect x="493" y="150.67" width="1" height="10.62" fill="#e4b063"/>
<rect x="494" y="150.67" width="1" height="10.62" fill="#f7864e"/>
<rect x="495" y="150.67" width="1" height="10.62" fill="#f5a071"/>
<rect x="496" y="150.67" width="1" height="10.62" fill="#fefbb8"/>
<rect x="497" y="150.67" width="1" height="10.62" fill="#eef5a3"/>
<rect x="498" y="150.67" width="1" height="10.62" fill="#f4f1a0"/>
<rect x="499" y="150.67" width="1" height="10.62" fill="#fff8b2"/>
<rect x="500" y="150.67" width="1" height="10.62" fill="#eaf6a1"/>
<rect x="501" y="150.67" width="1" height="10.62" fill="#f1f9ac"/>
<rect x="502" y="150.67" width="1" height="10.62" fill="#fbdc89"/>
<rect x="503" y="150.67" width="1" height="10.62" fill="#fed17e"/>
<rect x="504" y="150.67" width="1" height="10.62" fill="#fed07e"/>
<rect x="505" y="150.67" width="1" height="10.62" fill="#faa261"/>
<rect x="506" y="150.67" width="1" height="10.62" fill="#eb6640"/>
<rect x="507" y="150.67" width="1" height="10.62" fill="#dd3d2d"/>
<rect x="508" y="150.67" width="1" height="10.62" fill="#f7d9a1"/>
<rect x="509" y="150.67" width="1" height="10.62" fill="#fdfebc" fill-opacity="0.10"/>
<rect x="507" y="162.69" width="1" height="10.62" fill="#fff6b0" fill-opacity="0.20"/>
<rect x="508" y="162.69" width="1" height="10.62" fill="#fff3aa" fill-opacity="0.70"/>
<rect x="498" y="174.71" width="1" height="10.62" fill="#e75237" fill-opacity="0.70"/>
<rect x="499" y="174.71" width="1" height="10.62" fill="#e64f35"/>
<rect x="500" y="174.71" width="1" height="10.62" fill="#72c264"/>
<rect x="501" y="174.71" width="1" height="10.62" fill="#7bc664"/>
<rect x="502" y="174.71" width="1" height="10.62" fill="#38a758"/>
<rect x="503" y="174.71" width="1" height="10.62" fill="#86ca68"/>
<rect x="504" y="174.71" width="1" height="10.62" fill="#95d26c"/>
<rect x="505" y="174.71" width="1" height="10.62" fill="#7bc665"/>
<rect x="506" y="174.71" width="1" height="10.62" fill="#bae277"/>
<rect x="507" y="174.71" width="1" height="10.62" fill="#eb6d44"/>
<rect x="508" y="174.71" width="1" height="10.62" fill="#f9cf98" fill-opacity="0.70"/>
<rect x="425" y="186.73" width="1" height="10.62" fill="#9ed569"/>
<rect x="426" y="186.73" width="1" height="10.62" fill="#16914c"/>
<rect x="427" y="186.73" width="1" height="10.62" fill="#289c52"/>
<rect x="428" y="186.73" width="1" height="10.62" fill="#59b75f"/>
<rect x="429" y="186.73" width="1" height="10.62" fill="#5ab760"/>
<rect x="430" y="186.73" width="1" height="10.62" fill="#88cc66"/>
<rect x="431" y="186.73" width="1" height="10.62" fill="#64bc62"/>
<rect x="432" y="186.73" width="1" height="10.62" fill="#60ba61"/>
<rect x="433" y="186.73" width="1" height="10.62" fill="#2da155"/>
<rect x="434" y="186.73" width="1" height="10.62" fill="#46ad5b"/>
<rect x="435" y="186.73" width="1" height="10.62" fill="#44ac5a"/>
<rect x="436" y="186.73" width="1" height="10.62" fill="#70c264"/>
<rect x="437" y="186.73" width="1" height="10.62" fill="#6abf64"/>
<rect x="438" y="186.73" width="1" height="10.62" fill="#4eb25d"/>
<rect x="439" y="186.73" width="1" height="10.62" fill="#5ab760"/>
<rect x="440" y="186.73" width="1" height="10.62" fill="#65bc61"/>
<rect x="441" y="186.73" width="1" height="10.62" fill="#84ca67"/>
<rect x="442" y="186.73" width="1" height="10.62" fill="#6ec064"/>
<rect x="443" y="186.73" width="1" height="10.62" fill="#67be63"/>
<rect x="444" y="186.73" width="1" height="10.62" fill="#a2d86a"/>
<rect x="445" y="186.73" width="1" height="10.62" fill="#94d168"/>
<rect x="446" y="186.73" width="1" height="10.62" fill="#61ba60"/>
<rect x="447" y="186.73" width="1" height="10.62" fill="#4db05b"/>
<rect x="448" y="186.73" width="1" height="10.62" fill="#60ba61"/>
<rect x="449" y="186.73" width="1" height="10.62" fill="#51b35d"/>
<rect x="450" y="186.73" width="1" height="10.62" fill="#7ac665"/>
<rect x="451" y="186.73" width="1" height="10.62" fill="#7fc865"/>
<rect x="452" y="186.73" width="1" height="10.62" fill="#50b25d"/>
<rect x="453" y="186.73" width="1" height="10.62" fill="#5bb860"/>
<rect x="454" y="186.73" width="1" height="10.62" fill="#6cc064"/>
<rect x="455" y="186.73" width="1" height="10.62" fill="#a5d789"/>
<rect x="456" y="186.73" width="1" height="10.62" fill="#d9ef8b" fill-opacity="0.10"/>
<rect x="457" y="186.73" width="1" height="10.62" fill="#40a157"/>
<rect x="458" y="186.73" width="1" height="10.62" fill="#2d9d52"/>
<rect x="459" y="186.73" width="1" height="10.62" fill="#108546"/>
<rect x="460" y="186.73" width="1" height="10.62" fill="#359f53"/>
<rect x="461" y="186.73" width="1" height="10.62" fill="#43ac5a"/>
<rect x="462" y="186.73" width="1" height="10.62" fill="#52b35e"/>
<rect x="463" y="186.73" width="1" height="10.62" fill="#209b51"/>
<rect x="464" y="186.73" width="1" height="10.62" fill="#2ca054"/>
<rect x="465" y="186.73" width="1" height="10.62" fill="#2aa054"/>
<rect x="466" y="186.73" width="1" height="10.62" fill="#279e53"/>
<rect x="467" y="186.73" width="1" height="10.62" fill="#219c52"/>
<rect x="468" y="186.73" width="1" height="10.62" fill="#56b55f"/>
<rect x="469" y="186.73" width="1" height="10.62" fill="#87cb66"/>
<rect x="470" y="186.73" width="1" height="10.62" fill="#2ea155"/>
<rect x="471" y="186.73" width="1" height="10.62" fill="#33a456"/>
<rect x="472" y="186.73" width="1" height="10.62" fill="#34a456"/>
<rect x="473" y="186.73" width="1" height="10.62" fill="#219b52"/>
<rect x="474" y="186.73" width="1" height="10.62" fill="#7ac567"/>
<rect x="475" y="186.73" width="1" height="10.62" fill="#aedc6f"/>
<rect x="476" y="186.73" width="1" height="10.62" fill="#a8da79"/>
<rect x="477" y="186.73" width="1" height="10.62" fill="#b6e074"/>
<rect x="478" y="186.73" width="1" height="10.62" fill="#b7e077"/>
<rect x="479" y="186.73" width="1" height="10.62" fill="#c9e882"/>
<rect x="480" y="186.73" width="1" height="10.62" fill="#50b25e"/>
<rect x="481" y="186.73" width="1" height="10.62" fill="#6fc163"/>
<rect x="482" y="186.73" width="1" height="10.62" fill="#279e53"/>
<rect x="483" y="186.73" width="1" height="10.62" fill="#38a757"/>
<rect x="484" y="186.73" width="1" height="10.62" fill="#6cbf63"/>
<rect x="485" y="186.73" width="1" height="10.62" fill="#cbe997"/>
<rect x="486" y="186.73" width="1" height="10.62" fill="#faf6ad"/>
<rect x="487" y="186.73" width="1" height="10.62" fill="#fee99a"/>
<rect x="488" y="186.73" width="1" height="10.62" fill="#dce786"/>
<rect x="489" y="186.73" width="1" height="10.62" fill="#9cd471"/>
<rect x="490" y="186.73" width="1" height="10.62" fill="#45ad5b"/>
<rect x="491" y="186.73" width="1" height="10.62" fill="#23954f"/>
<rect x="492" y="186.73" width="1" height="10.62" fill="#249851"/>
<rect x="493" y="186.73" width="1" height="10.62" fill="#a3d76e"/>
<rect x="494" y="186.73" width="1" height="10.62" fill="#f57a49"/>
<rect x="495" y="186.73" width="1" height="10.62" fill="#fae39f"/>
<rect x="496" y="186.73" width="1" height="10.62" fill="#e0f1a2"/>
<rect x="497" y="186.73" width="1" height="10.62" fill="#5ab860"/>
<rect x="498" y="186.73" width="1" height="10.62" fill="#56b65f"/>
<rect x="499" y="186.73" width="1" height="10.62" fill="#68be62"/>
<rect x="500" y="186.73" width="1" height="10.62" fill="#85ca66"/>
<rect x="501" y="186.73" width="1" height="10.62" fill="#5ab65e"/>
<rect x="502" y="186.73" width="1" height="10.62" fill="#92d068"/>
<rect x="503" y="186.73" width="1" height="10.62" fill="#8dcd67"/>
<rect x="504" y="186.73" width="1" height="10.62" fill="#b2de7d"/>
<rect x="505" y="186.73" width="1" height="10.62" fill="#f1f9ab"/>
<rect x="506" y="186.73" width="1" height="10.62" fill="#f0724a"/>
<rect x="507" y="186.73" width="1" height="10.62" fill="#f19060"/>
<rect x="508" y="186.73" width="1" height="10.62" fill="#fffbb9" fill-opacity="0.50"/>
<rect x="469" y="198.75" width="1" height="10.62" fill="#52b35e" fill-opacity="0.70"/>
<rect x="470" y="198.75" width="1" height="10.62" fill="#168f4c" fill-opacity="0.50"/>
<rect x="471" y="198.75" width="1" height="10.62" fill="#289b52"/>
<rect x="472" y="198.75" width="1" height="10.62" fill="#1d8546"/>
<rect x="473" y="198.75" width="1" height="10.62" fill="#0d7f43"/>
<rect x="474" y="198.75" width="1" height="10.62" fill="#1e8f4c"/>
<rect x="475" y="198.75" width="1" height="10.62" fill="#58b65f"/>
<rect x="476" y="198.75" width="1" height="10.62" fill="#88cc67"/>
<rect x="477" y="198.75" width="1" height="10.62" fill="#67bc61"/>
<rect x="478" y="198.75" width="1" height="10.62" fill="#42ab5a"/>
<rect x="479" y="198.75" width="1" height="10.62" fill="#60ba60"/>
<rect x="480" y="198.75" width="1" height="10.62" fill="#7fc866"/>
<rect x="481" y="198.75" width="1" height="10.62" fill="#5cb860"/>
<rect x="482" y="198.75" width="1" height="10.62" fill="#6cbf63"/>
<rect x="483" y="198.75" width="1" height="10.62" fill="#50b25e"/>
<rect x="484" y="198.75" width="1" height="10.62" fill="#49af5c"/>
<rect x="485" y="198.75" width="1" height="10.62" fill="#b5d88d"/>
<rect x="486" y="198.75" width="1" height="10.62" fill="#f6f3a5"/>
<rect x="487" y="198.75" width="1" height="10.62" fill="#cde983"/>
<rect x="488" y="198.75" width="1" height="10.62" fill="#c9e880"/>
<rect x="489" y="198.75" width="1" height="10.62" fill="#92c86f"/>
<rect x="490" y="198.75" width="1" height="10.62" fill="#07753e"/>
<rect x="491" y="198.75" width="1" height="10.62" fill="#26914d"/>
<rect x="492" y="198.75" width="1" height="10.62" fill="#1c8a49"/>
<rect x="493" y="198.75" width="1" height="10.62" fill="#6e9551"/>
<rect x="494" y="198.75" width="1" height="10.62" fill="#fdbc6d"/>
<rect x="495" y="198.75" width="1" height="10.62" fill="#fbe9a0"/>
<rect x="496" y="198.75" width="1" height="10.62" fill="#edf8a6" fill-opacity="0.90"/>
<rect x="499" y="198.75" width="1" height="10.62" fill="#73c364" fill-opacity="0.70"/>
<rect x="500" y="198.75" width="1" height="10.62" fill="#39a757"/>
<rect x="501" y="198.75" width="1" height="10.62" fill="#80c866"/>
<rect x="502" y="198.75" width="1" height="10.62" fill="#7ac567"/>
<rect x="503" y="198.75" width="1" height="10.62" fill="#9ed56f"/>
<rect x="504" y="198.75" width="1" height="10.62" fill="#8fcf68"/>
<rect x="505" y="198.75" width="1" height="10.62" fill="#88cc67"/>
<rect x="506" y="198.75" width="1" height="10.62" fill="#c79b55"/>
<rect x="507" y="198.75" width="1" height="10.62" fill="#e27152"/>
<rect x="508" y="198.75" width="1" height="10.62" fill="#fdfebc" fill-opacity="0.50"/>
<rect x="425" y="210.78" width="1" height="10.62" fill="#118848"/>
<rect x="426" y="210.78" width="1" height="10.62" fill="#82c966"/>
<rect x="427" y="210.78" width="1" height="10.62" fill="#9dd56d"/>
<rect x="428" y="210.78" width="1" height="10.62" fill="#c1e57b"/>
<rect x="429" y="210.78" width="1" height="10.62" fill="#a3d870"/>
<rect x="430" y="210.78" width="1" height="10.62" fill="#abdb6d"/>
<rect x="431" y="210.78" width="1" height="10.62" fill="#d4ed8b"/>
<rect x="432" y="210.78" width="1" height="10.62" fill="#9cd56b"/>
<rect x="433" y="210.78" width="1" height="10.62" fill="#b2de73"/>
<rect x="434" y="210.78" width="1" height="10.62" fill="#bae177"/>
<rect x="435" y="210.78" width="1" height="10.62" fill="#afdd70"/>
<rect x="436" y="210.78" width="1" height="10.62" fill="#b4df75"/>
<rect x="437" y="210.78" width="1" height="10.62" fill="#78c566"/>
<rect x="438" y="210.78" width="1" height="10.62" fill="#7bc668"/>
<rect x="439" y="210.78" width="1" height="10.62" fill="#b1de72"/>
<rect x="440" y="210.78" width="1" height="10.62" fill="#a7da70"/>
<rect x="441" y="210.78" width="1" height="10.62" fill="#b2de76"/>
<rect x="442" y="210.78" width="1" height="10.62" fill="#b9e176"/>
<rect x="443" y="210.78" width="1" height="10.62" fill="#aedc6f"/>
<rect x="444" y="210.78" width="1" height="10.62" fill="#90cf68"/>
<rect x="445" y="210.78" width="1" height="10.62" fill="#8ecf67"/>
<rect x="446" y="210.78" width="1" height="10.62" fill="#73c264"/>
<rect x="447" y="210.78" width="1" height="10.62" fill="#5fba61"/>
<rect x="448" y="210.78" width="1" height="10.62" fill="#4aaf5c"/>
<rect x="449" y="210.78" width="1" height="10.62" fill="#84ca65"/>
<rect x="450" y="210.78" width="1" height="10.62" fill="#8acd67"/>
<rect x="451" y="210.78" width="1" height="10.62" fill="#ceeb85"/>
<rect x="452" y="210.78" width="1" height="10.62" fill="#aadb72"/>
<rect x="453" y="210.78" width="1" height="10.62" fill="#9bd569"/>
<rect x="454" y="210.78" width="1" height="10.62" fill="#7ec766"/>
<rect x="455" y="210.78" width="1" height="10.62" fill="#bde38e"/>
<rect x="456" y="210.78" width="1" height="10.62" fill="#fdf7b1"/>
<rect x="457" y="210.78" width="1" height="10.62" fill="#6dc064"/>
<rect x="458" y="210.78" width="1" height="10.62" fill="#4eb25d"/>
<rect x="459" y="210.78" width="1" height="10.62" fill="#2d974f"/>
<rect x="460" y="210.78" width="1" height="10.62" fill="#43ac5a"/>
<rect x="461" y="210.78" width="1" height="10.62" fill="#39a758"/>
<rect x="462" y="210.78" width="1" height="10.62" fill="#38a757"/>
<rect x="463" y="210.78" width="1" height="10.62" fill="#32a456"/>
<rect x="464" y="210.78" width="1" height="10.62" fill="#76c465"/>
<rect x="465" y="210.78" width="1" height="10.62" fill="#57b55d"/>
<rect x="466" y="210.78" width="1" height="10.62" fill="#1d9a51"/>
<rect x="467" y="210.78" width="1" height="10.62" fill="#0f8345"/>
<rect x="468" y="210.78" width="1" height="10.62" fill="#148e4a"/>
<rect x="469" y="210.78" width="1" height="10.62" fill="#0c7e42"/>
<rect x="470" y="210.78" width="1" height="10.62" fill="#3eaa59"/>
<rect x="471" y="210.78" width="1" height="10.62" fill="#61ba61"/>
<rect x="472" y="210.78" width="1" height="10.62" fill="#67bd62"/>
<rect x="473" y="210.78" width="1" height="10.62" fill="#9fd66b"/>
<rect x="474" y="210.78" width="1" height="10.62" fill="#91d068"/>
<rect x="475" y="210.78" width="1" height="10.62" fill="#b0dd74"/>
<rect x="476" y="210.78" width="1" height="10.62" fill="#6ec064"/>
<rect x="477" y="210.78" width="1" height="10.62" fill="#83ca66"/>
<rect x="478" y="210.78" width="1" height="10.62" fill="#59b65e"/>
<rect x="479" y="210.78" width="1" height="10.62" fill="#2fa255"/>
<rect x="480" y="210.78" width="1" height="10.62" fill="#31a456"/>
<rect x="481" y="210.78" width="1" height="10.62" fill="#56b55d"/>
<rect x="482" y="210.78" width="1" height="10.62" fill="#76c465"/>
<rect x="483" y="210.78" width="1" height="10.62" fill="#80c866"/>
<rect x="484" y="210.78" width="1" height="10.62" fill="#b9e184"/>
<rect x="485" y="210.78" width="1" height="10.62" fill="#d9ef93"/>
<rect x="486" y="210.78" width="1" height="10.62" fill="#f9f5ab"/>
<rect x="487" y="210.78" width="1" height="10.62" fill="#e0ee98"/>
<rect x="488" y="210.78" width="1" height="10.62" fill="#b8e078"/>
<rect x="489" y="210.78" width="1" height="10.62" fill="#75c364"/>
<rect x="490" y="210.78" width="1" height="10.62" fill="#44ac5b"/>
<rect x="491" y="210.78" width="1" height="10.62" fill="#209b51"/>
<rect x="492" y="210.78" width="1" height="10.62" fill="#48af5c"/>
<rect x="493" y="210.78" width="1" height="10.62" fill="#bcc571"/>
<rect x="494" y="210.78" width="1" height="10.62" fill="#f9d17d"/>
<rect x="495" y="210.78" width="1" height="10.62" fill="#ceea86"/>
<rect x="496" y="210.78" width="1" height="10.62" fill="#b8e17c"/>
<rect x="497" y="210.78" width="1" height="10.62" fill="#97d26f"/>
<rect x="498" y="210.78" width="1" height="10.62" fill="#7cc665"/>
<rect x="499" y="210.78" width="1" height="10.62" fill="#4fb15d"/>
<rect x="500" y="210.78" width="1" height="10.62" fill="#68be62"/>
<rect x="501" y="210.78" width="1" height="10.62" fill="#8fcf67"/>
<rect x="502" y="210.78" width="1" height="10.62" fill="#8bcd67"/>
<rect x="503" y="210.78" width="1" height="10.62" fill="#a6d96f"/>
<rect x="504" y="210.78" width="1" height="10.62" fill="#dff29c"/>
<rect x="505" y="210.78" width="1" height="10.62" fill="#e6d188"/>
<rect x="506" y="210.78" width="1" height="10.62" fill="#df412f"/>
<rect x="507" y="210.78" width="1" height="10.62" fill="#e47853"/>
<rect x="508" y="210.78" width="1" height="10.62" fill="#f1f9ac" fill-opacity="0.70"/>
<rect x="499" y="222.80" width="1" height="10.62" fill="#96d268"/>
<rect x="500" y="222.80" width="1" height="10.62" fill="#06733c"/>
<rect x="501" y="222.80" width="1" height="10.62" fill="#6bb762"/>
<rect x="502" y="222.80" width="1" height="10.62" fill="#87cb69"/>
<rect x="503" y="222.80" width="1" height="10.62" fill="#d5ed89"/>
<rect x="504" y="222.80" width="1" height="10.62" fill="#d6ed89"/>
<rect x="505" y="222.80" width="1" height="10.62" fill="#b4df73"/>
<rect x="506" y="222.80" width="1" height="10.62" fill="#b3df72"/>
<rect x="507" y="222.80" width="1" height="10.62" fill="#d1eb88"/>
<rect x="508" y="222.80" width="1" height="10.62" fill="#f4fab0" fill-opacity="0.70"/>
<rect x="494" y="234.82" width="1" height="10.62" fill="#fffdbb" fill-opacity="0.10"/>
<rect x="495" y="234.82" width="1" height="10.62" fill="#fefdbb"/>
<rect x="496" y="234.82" width="1" height="10.62" fill="#fcfdb9"/>
<rect x="497" y="234.82" width="1" height="10.62" fill="#5cb860"/>
<rect x="498" y="234.82" width="1" height="10.62" fill="#44ac5a"/>
<rect x="499" y="234.82" width="1" height="10.62" fill="#4bb05c"/>
<rect x="500" y="234.82" width="1" height="10.62" fill="#59b55e"/>
<rect x="501" y="234.82" width="1" height="10.62" fill="#a4d86d"/>
<rect x="502" y="234.82" width="1" height="10.62" fill="#b2df76"/>
<rect x="503" y="234.82" width="1" height="10.62" fill="#79c665"/>
<rect x="504" y="234.82" width="1" height="10.62" fill="#6abe63"/>
<rect x="505" y="234.82" width="1" height="10.62" fill="#88cc6e"/>
<rect x="506" y="234.82" width="1" height="10.62" fill="#f4fab0"/>
<rect x="507" y="234.82" width="1" height="10.62" fill="#a8da6e"/>
<rect x="508" y="234.82" width="1" height="10.62" fill="#81c966" fill-opacity="0.70"/>
<text class="lb" x="49.75" y="14.62" font-size="7.15" fill="#2a3f5f" text-anchor="end">s1</text>
<text class="lb" x="49.75" y="26.64" font-size="7.15" fill="#2a3f5f" text-anchor="end">s3</text>
<text class="lb" x="49.75" y="38.66" font-size="7.15" fill="#2a3f5f" text-anchor="end">s5</text>
<text class="lb" x="49.75" y="50.68" font-size="7.15" fill="#2a3f5f" text-anchor="end">s6</text>
<text class="lb" x="49.75" y="62.71" font-size="7.15" fill="#2a3f5f" text-anchor="end">s7</text>
<text class="lb" x="49.75" y="74.73" font-size="7.15" fill="#2a3f5f" text-anchor="end">nesta-1</text>
<text class="lb" x="49.75" y="86.75" font-size="7.15" fill="#2a3f5f" text-anchor="end">nesta-2-1</text>
<text class="lb" x="49.75" y="98.77" font-size="7.15" fill="#2a3f5f" text-anchor="end">nesta-4-1</text>
<text class="lb" x="49.75" y="110.79" font-size="7.15" fill="#2a3f5f" text-anchor="end">nesta-5</text>
<text class="lb" x="49.75" y="122.81" font-size="7.15" fill="#2a3f5f" text-anchor="end">nesta-6</text>
<text class="lb" x="49.75" y="134.84" font-size="7.15" fill="#2a3f5f" text-anchor="end">nesta-7</text>
<text class="lb" x="49.75" y="146.86" font-size="7.15" fill="#2a3f5f" text-anchor="end">nesta-8</text>
<text class="lb" x="49.75" y="158.88" font-size="7.15" fill="#2a3f5f" text-anchor="end">nesta-9</text>
<text class="lb" x="49.75" y="170.90" font-size="7.15" fill="#2a3f5f" text-anchor="end">nesta-11</text>
<text class="lb" x="49.75" y="182.92" font-size="7.15" fill="#2a3f5f" text-anchor="end">aum-1</text>
<text class="lb" x="49.75" y="194.94" font-size="7.15" fill="#2a3f5f" text-anchor="end">aum-3</text>
<text class="lb" x="49.75" y="206.97" font-size="7.15" fill="#2a3f5f" text-anchor="end">aum-2</text>
<text class="lb" x="49.75" y="218.99" font-size="7.15" fill="#2a3f5f" text-anchor="end">aum-4</text>
<text class="lb" x="49.75" y="231.01" font-size="7.15" fill="#2a3f5f" text-anchor="end">b1-lanchester</text>
<text class="lb" x="49.75" y="243.03" font-size="7.15" fill="#2a3f5f" text-anchor="end">rh-1</text>
<text class="lb" x="75.90" y="254.0" font-size="7.15" fill="#2a3f5f" text-anchor="middle">Jul 2018</text>
<text class="lb" x="129.41" y="254.0" font-size="7.15" fill="#2a3f5f" text-anchor="middle">Sep 2018</text>
<text class="lb" x="182.05" y="254.0" font-size="7.15" fill="#2a3f5f" text-anchor="middle">Nov 2018</text>
<text class="lb" x="234.69" y="254.0" font-size="7.15" fill="#2a3f5f" text-anchor="middle">Jan 2019</text>
<text class="lb" x="285.61" y="254.0" font-size="7.15" fill="#2a3f5f" text-anchor="middle">Mar 2019</text>
<text class="lb" x="338.25" y="254.0" font-size="7.15" fill="#2a3f5f" text-anchor="middle">May 2019</text>
<text class="lb" x="390.89" y="254.0" font-size="7.15" fill="#2a3f5f" text-anchor="middle">Jul 2019</text>
<text class="lb" x="444.40" y="254.0" font-size="7.15" fill="#2a3f5f" text-anchor="middle">Sep 2019</text>
<text class="lb" x="497.04" y="254.0" font-size="7.15" fill="#2a3f5f" text-anchor="middle">Nov 2019</text>
<defs><linearGradient id="cb" x1="0" y1="1" x2="0" y2="0">
<stop offset="0.00" stop-color="#a50026"/>
<stop offset="0.10" stop-color="#d73027"/>
<stop offset="0.20" stop-color="#f46d43"/>
<stop offset="0.30" stop-color="#fdae61"/>
<stop offset="0.40" stop-color="#fee08b"/>
<stop offset="0.50" stop-color="#ffffbf"/>
<stop offset="0.60" stop-color="#d9ef8b"/>
<stop offset="0.70" stop-color="#a6d96a"/>
<stop offset="0.80" stop-color="#66bd63"/>
<stop offset="0.90" stop-color="#1a9850"/>
<stop offset="1.00" stop-color="#006837"/>
</linearGradient></defs>
<rect x="523.20" y="10.70" width="4.90" height="231.20" fill="url(#cb)"/>
<text x="528.9" y="244.30" font-size="6.4" fill="#505d76">0%</text>
<text x="528.9" y="198.06" font-size="6.4" fill="#505d76">20%</text>
<text x="528.9" y="151.82" font-size="6.4" fill="#505d76">40%</text>
<text x="528.9" y="105.58" font-size="6.4" fill="#505d76">60%</text>
<text x="528.9" y="59.34" font-size="6.4" fill="#505d76">80%</text>
<text x="528.9" y="13.10" font-size="6.4" fill="#505d76">100%</text>
</g></svg></div></body></html>
